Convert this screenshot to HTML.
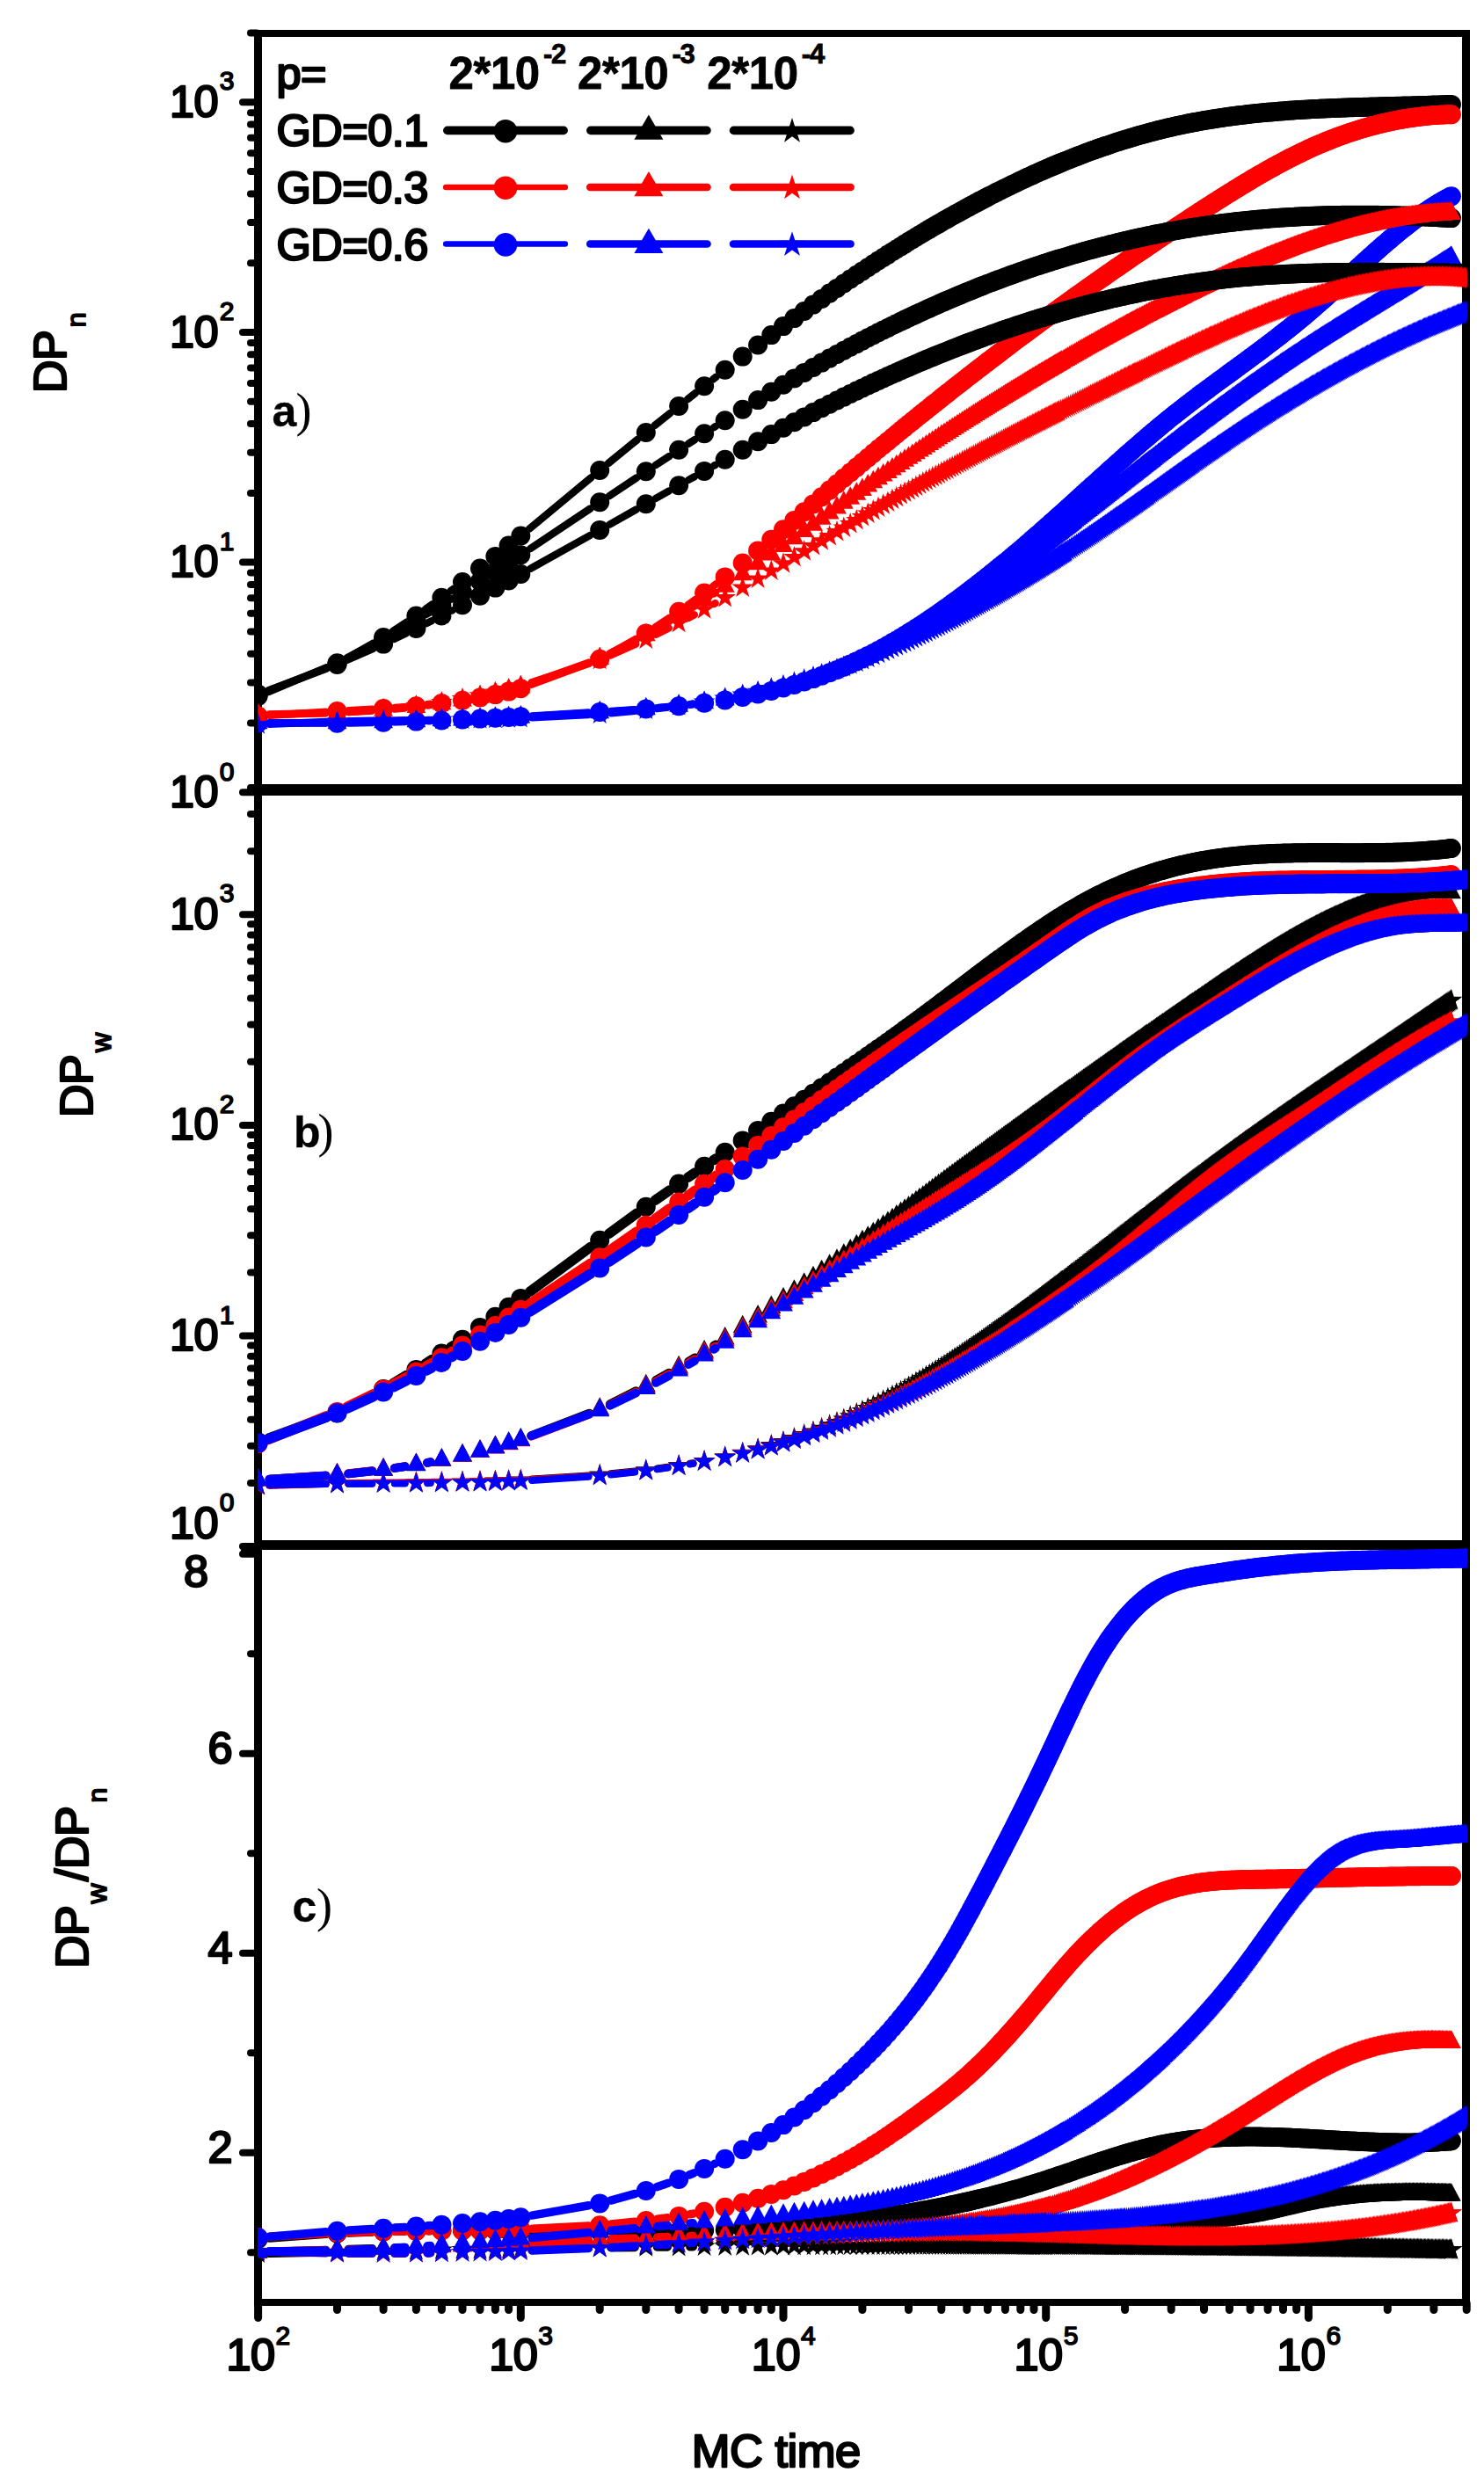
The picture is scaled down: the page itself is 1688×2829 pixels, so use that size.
<!DOCTYPE html>
<html><head><meta charset="utf-8"><title>DP plots</title><style>html,body{margin:0;padding:0;background:#fff}svg{display:block}</style></head><body>
<svg width="1688" height="2829" viewBox="0 0 1688 2829">
<rect width="1688" height="2829" fill="#fff"/>
<defs>
<marker id="mck" markerUnits="userSpaceOnUse" markerWidth="40" markerHeight="40" refX="0" refY="0" viewBox="-20 -20 40 40" orient="0" overflow="visible"><circle r="11.0" fill="#000"/></marker>
<marker id="mtk" markerUnits="userSpaceOnUse" markerWidth="40" markerHeight="40" refX="0" refY="0" viewBox="-20 -20 40 40" orient="0" overflow="visible"><path d="M0,-13.67L10.90,6.83L-10.90,6.83Z" fill="#000"/></marker>
<marker id="msk" markerUnits="userSpaceOnUse" markerWidth="40" markerHeight="40" refX="0" refY="0" viewBox="-20 -20 40 40" orient="0" overflow="visible"><path d="M0.00,-13.00L2.92,-4.02L12.36,-4.02L4.72,1.53L7.64,10.52L0.00,4.97L-7.64,10.52L-4.72,1.53L-12.36,-4.02L-2.92,-4.02Z" fill="#000"/></marker>
<marker id="mcr" markerUnits="userSpaceOnUse" markerWidth="40" markerHeight="40" refX="0" refY="0" viewBox="-20 -20 40 40" orient="0" overflow="visible"><circle r="11.0" fill="#f00"/></marker>
<marker id="mtr" markerUnits="userSpaceOnUse" markerWidth="40" markerHeight="40" refX="0" refY="0" viewBox="-20 -20 40 40" orient="0" overflow="visible"><path d="M0,-13.67L10.90,6.83L-10.90,6.83Z" fill="#f00"/></marker>
<marker id="msr" markerUnits="userSpaceOnUse" markerWidth="40" markerHeight="40" refX="0" refY="0" viewBox="-20 -20 40 40" orient="0" overflow="visible"><path d="M0.00,-13.00L2.92,-4.02L12.36,-4.02L4.72,1.53L7.64,10.52L0.00,4.97L-7.64,10.52L-4.72,1.53L-12.36,-4.02L-2.92,-4.02Z" fill="#f00"/></marker>
<marker id="mcb" markerUnits="userSpaceOnUse" markerWidth="40" markerHeight="40" refX="0" refY="0" viewBox="-20 -20 40 40" orient="0" overflow="visible"><circle r="11.0" fill="#00f"/></marker>
<marker id="mtb" markerUnits="userSpaceOnUse" markerWidth="40" markerHeight="40" refX="0" refY="0" viewBox="-20 -20 40 40" orient="0" overflow="visible"><path d="M0,-13.67L10.90,6.83L-10.90,6.83Z" fill="#00f"/></marker>
<marker id="msb" markerUnits="userSpaceOnUse" markerWidth="40" markerHeight="40" refX="0" refY="0" viewBox="-20 -20 40 40" orient="0" overflow="visible"><path d="M0.00,-13.00L2.92,-4.02L12.36,-4.02L4.72,1.53L7.64,10.52L0.00,4.97L-7.64,10.52L-4.72,1.53L-12.36,-4.02L-2.92,-4.02Z" fill="#00f"/></marker>
<clipPath id="ca"><rect x="293.6" y="38" width="1374.9" height="863.5"/></clipPath>
<clipPath id="cb"><rect x="293.6" y="896" width="1374.9" height="863.5"/></clipPath>
<clipPath id="cc"><rect x="293.6" y="1757" width="1374.9" height="862"/></clipPath>
</defs>
<g stroke="#000" fill="none" stroke-linecap="butt">
<line x1="293.5" y1="34" x2="293.5" y2="2623" stroke-width="9"/>
<line x1="1667.5" y1="34" x2="1667.5" y2="2623" stroke-width="9"/>
<line x1="289" y1="38" x2="1672" y2="38" stroke-width="8"/>
<rect x="289" y="892" width="1383" height="13" fill="#000" stroke="none"/>
<rect x="289" y="1752" width="1383" height="11" fill="#000" stroke="none"/>
<line x1="289" y1="2619" x2="1672" y2="2619" stroke-width="8"/>
</g>
<g stroke="#000" stroke-width="8" stroke-linecap="round" fill="none">
<line x1="276" y1="901.3" x2="292" y2="901.3"/>
<line x1="285" y1="822.5" x2="292" y2="822.5"/>
<line x1="285" y1="776.5" x2="292" y2="776.5"/>
<line x1="285" y1="743.8" x2="292" y2="743.8"/>
<line x1="285" y1="718.4" x2="292" y2="718.4"/>
<line x1="285" y1="697.7" x2="292" y2="697.7"/>
<line x1="285" y1="680.2" x2="292" y2="680.2"/>
<line x1="285" y1="665.0" x2="292" y2="665.0"/>
<line x1="285" y1="651.6" x2="292" y2="651.6"/>
<line x1="276" y1="639.6" x2="292" y2="639.6"/>
<line x1="285" y1="560.9" x2="292" y2="560.9"/>
<line x1="285" y1="514.8" x2="292" y2="514.8"/>
<line x1="285" y1="482.1" x2="292" y2="482.1"/>
<line x1="285" y1="456.7" x2="292" y2="456.7"/>
<line x1="285" y1="436.0" x2="292" y2="436.0"/>
<line x1="285" y1="418.5" x2="292" y2="418.5"/>
<line x1="285" y1="403.3" x2="292" y2="403.3"/>
<line x1="285" y1="389.9" x2="292" y2="389.9"/>
<line x1="276" y1="378.0" x2="292" y2="378.0"/>
<line x1="285" y1="299.2" x2="292" y2="299.2"/>
<line x1="285" y1="253.1" x2="292" y2="253.1"/>
<line x1="285" y1="220.4" x2="292" y2="220.4"/>
<line x1="285" y1="195.1" x2="292" y2="195.1"/>
<line x1="285" y1="174.3" x2="292" y2="174.3"/>
<line x1="285" y1="156.8" x2="292" y2="156.8"/>
<line x1="285" y1="141.6" x2="292" y2="141.6"/>
<line x1="285" y1="128.3" x2="292" y2="128.3"/>
<line x1="276" y1="116.3" x2="292" y2="116.3"/>
<line x1="285" y1="37.5" x2="292" y2="37.5"/>
<line x1="276" y1="1759.1" x2="292" y2="1759.1"/>
<line x1="285" y1="1687.0" x2="292" y2="1687.0"/>
<line x1="285" y1="1644.8" x2="292" y2="1644.8"/>
<line x1="285" y1="1614.8" x2="292" y2="1614.8"/>
<line x1="285" y1="1591.6" x2="292" y2="1591.6"/>
<line x1="285" y1="1572.7" x2="292" y2="1572.7"/>
<line x1="285" y1="1556.6" x2="292" y2="1556.6"/>
<line x1="285" y1="1542.7" x2="292" y2="1542.7"/>
<line x1="285" y1="1530.5" x2="292" y2="1530.5"/>
<line x1="276" y1="1519.5" x2="292" y2="1519.5"/>
<line x1="285" y1="1447.4" x2="292" y2="1447.4"/>
<line x1="285" y1="1405.2" x2="292" y2="1405.2"/>
<line x1="285" y1="1375.2" x2="292" y2="1375.2"/>
<line x1="285" y1="1352.0" x2="292" y2="1352.0"/>
<line x1="285" y1="1333.1" x2="292" y2="1333.1"/>
<line x1="285" y1="1317.0" x2="292" y2="1317.0"/>
<line x1="285" y1="1303.1" x2="292" y2="1303.1"/>
<line x1="285" y1="1290.9" x2="292" y2="1290.9"/>
<line x1="276" y1="1279.9" x2="292" y2="1279.9"/>
<line x1="285" y1="1207.8" x2="292" y2="1207.8"/>
<line x1="285" y1="1165.6" x2="292" y2="1165.6"/>
<line x1="285" y1="1135.6" x2="292" y2="1135.6"/>
<line x1="285" y1="1112.4" x2="292" y2="1112.4"/>
<line x1="285" y1="1093.5" x2="292" y2="1093.5"/>
<line x1="285" y1="1077.4" x2="292" y2="1077.4"/>
<line x1="285" y1="1063.5" x2="292" y2="1063.5"/>
<line x1="285" y1="1051.3" x2="292" y2="1051.3"/>
<line x1="276" y1="1040.3" x2="292" y2="1040.3"/>
<line x1="285" y1="968.2" x2="292" y2="968.2"/>
<line x1="285" y1="926.0" x2="292" y2="926.0"/>
<line x1="285" y1="896.0" x2="292" y2="896.0"/>
<line x1="285" y1="2562.3" x2="292" y2="2562.3"/>
<line x1="276" y1="2448.8" x2="292" y2="2448.8"/>
<line x1="285" y1="2335.3" x2="292" y2="2335.3"/>
<line x1="276" y1="2221.8" x2="292" y2="2221.8"/>
<line x1="285" y1="2108.3" x2="292" y2="2108.3"/>
<line x1="276" y1="1994.8" x2="292" y2="1994.8"/>
<line x1="285" y1="1881.3" x2="292" y2="1881.3"/>
<line x1="276" y1="1767.8" x2="292" y2="1767.8"/>
<line x1="276" y1="1763.4" x2="292" y2="1763.4" stroke-width="4"/>
</g>
<g stroke="#000" stroke-width="9" stroke-linecap="round" fill="none">
<line x1="293.6" y1="2620" x2="293.6" y2="2636.5"/>
<line x1="383.5" y1="2620" x2="383.5" y2="2627.5"/>
<line x1="436.1" y1="2620" x2="436.1" y2="2627.5"/>
<line x1="473.4" y1="2620" x2="473.4" y2="2627.5"/>
<line x1="502.4" y1="2620" x2="502.4" y2="2627.5"/>
<line x1="526.0" y1="2620" x2="526.0" y2="2627.5"/>
<line x1="546.0" y1="2620" x2="546.0" y2="2627.5"/>
<line x1="563.4" y1="2620" x2="563.4" y2="2627.5"/>
<line x1="578.6" y1="2620" x2="578.6" y2="2627.5"/>
<line x1="592.3" y1="2620" x2="592.3" y2="2636.5"/>
<line x1="682.2" y1="2620" x2="682.2" y2="2627.5"/>
<line x1="734.8" y1="2620" x2="734.8" y2="2627.5"/>
<line x1="772.1" y1="2620" x2="772.1" y2="2627.5"/>
<line x1="801.1" y1="2620" x2="801.1" y2="2627.5"/>
<line x1="824.7" y1="2620" x2="824.7" y2="2627.5"/>
<line x1="844.7" y1="2620" x2="844.7" y2="2627.5"/>
<line x1="862.1" y1="2620" x2="862.1" y2="2627.5"/>
<line x1="877.3" y1="2620" x2="877.3" y2="2627.5"/>
<line x1="891.0" y1="2620" x2="891.0" y2="2636.5"/>
<line x1="980.9" y1="2620" x2="980.9" y2="2627.5"/>
<line x1="1033.5" y1="2620" x2="1033.5" y2="2627.5"/>
<line x1="1070.8" y1="2620" x2="1070.8" y2="2627.5"/>
<line x1="1099.8" y1="2620" x2="1099.8" y2="2627.5"/>
<line x1="1123.4" y1="2620" x2="1123.4" y2="2627.5"/>
<line x1="1143.4" y1="2620" x2="1143.4" y2="2627.5"/>
<line x1="1160.8" y1="2620" x2="1160.8" y2="2627.5"/>
<line x1="1176.0" y1="2620" x2="1176.0" y2="2627.5"/>
<line x1="1189.7" y1="2620" x2="1189.7" y2="2636.5"/>
<line x1="1279.6" y1="2620" x2="1279.6" y2="2627.5"/>
<line x1="1332.2" y1="2620" x2="1332.2" y2="2627.5"/>
<line x1="1369.5" y1="2620" x2="1369.5" y2="2627.5"/>
<line x1="1398.5" y1="2620" x2="1398.5" y2="2627.5"/>
<line x1="1422.1" y1="2620" x2="1422.1" y2="2627.5"/>
<line x1="1442.1" y1="2620" x2="1442.1" y2="2627.5"/>
<line x1="1459.5" y1="2620" x2="1459.5" y2="2627.5"/>
<line x1="1474.7" y1="2620" x2="1474.7" y2="2627.5"/>
<line x1="1488.4" y1="2620" x2="1488.4" y2="2636.5"/>
<line x1="1578.3" y1="2620" x2="1578.3" y2="2627.5"/>
<line x1="1630.9" y1="2620" x2="1630.9" y2="2627.5"/>
<line x1="1668.2" y1="2620" x2="1668.2" y2="2627.5"/>
</g>
<g clip-path="url(#ca)" fill="none" stroke-linecap="round">
<path stroke="#000" stroke-width="8.5" d="M305.5,785.6L371.6,759.8M394.6,748.8L425.0,731.4M446.8,718.1L462.8,707.5M483.9,693.0L492.0,687.3M512.6,672.2L515.8,669.8M602.2,601.4L672.4,543.2M692.1,526.9L724.9,500.1M744.8,483.9L762.2,470.0M782.2,454.1L791.0,447.1M811.2,431.4L814.6,428.7"/>
<polyline stroke="none" marker-start="url(#mck)" marker-mid="url(#mck)" marker-end="url(#mck)" points="293.6,790.3 383.5,755.1 436.1,725.1 473.4,700.5 502.4,679.8 526.0,662.1 546.0,646.6 563.4,632.9 578.6,620.6 592.3,609.5 682.2,535.0 734.8,492.0 772.1,462.0 801.1,439.2 824.7,420.8 844.7,405.6 862.1,392.5 877.3,381.1 891.0,371.1 903.4,362.1 914.7,354.0 925.0,346.6 934.6,339.9 943.6,333.6 952.0,327.9 959.8,322.5 967.2,317.5 974.3,312.8 980.9,308.4 987.2,304.2 993.3,300.3 999.0,296.5 1004.6,293.0 1009.9,289.6 1015.0,286.4 1019.8,283.3 1024.6,280.4 1029.1,277.6 1033.5,274.8 1037.8,272.3 1041.9,269.8 1045.9,267.3 1049.8,265.0 1053.5,262.8 1057.2,260.6 1060.7,258.5 1064.2,256.5 1067.6,254.6 1070.8,252.7 1074.0,250.8 1077.2,249.1 1080.2,247.3 1083.2,245.7 1086.1,244.0 1089.0,242.4 1091.8,240.9 1094.5,239.4 1097.2,237.9 1099.8,236.5 1102.4,235.1 1104.9,233.7 1107.3,232.4 1109.8,231.1 1112.1,229.9 1114.5,228.6 1116.8,227.4 1119.0,226.2 1121.3,225.1 1123.4,223.9 1125.6,222.8 1129.8,220.7 1133.8,218.6 1137.7,216.7 1141.6,214.8 1145.3,212.9 1148.9,211.2 1152.4,209.5 1155.8,207.9 1159.1,206.3 1162.4,204.7 1165.5,203.3 1168.6,201.8 1171.6,200.4 1174.6,199.1 1177.5,197.8 1180.3,196.5 1183.0,195.3 1185.7,194.1 1188.4,192.9 1191.0,191.8 1193.5,190.7 1196.0,189.6 1198.5,188.6 1200.9,187.6 1203.2,186.6 1205.6,185.6 1207.8,184.7 1210.1,183.8 1213.4,182.5 1216.6,181.2 1219.7,179.9 1222.7,178.7 1225.7,177.6 1228.6,176.4 1231.5,175.4 1234.3,174.3 1237.0,173.3 1239.7,172.3 1242.3,171.3 1244.9,170.4 1247.4,169.5 1249.9,168.6 1252.3,167.8 1254.7,167.0 1257.0,166.1 1259.3,165.4 1262.3,164.4 1265.2,163.4 1268.1,162.4 1270.9,161.5 1273.6,160.6 1276.3,159.8 1279.0,159.0 1281.5,158.2 1284.1,157.4 1286.6,156.7 1289.0,155.9 1291.4,155.2 1293.7,154.5 1296.6,153.7 1299.4,152.9 1302.2,152.2 1304.9,151.4 1307.5,150.7 1310.1,150.0 1312.7,149.4 1315.1,148.7 1317.6,148.1 1320.0,147.5 1322.3,146.9 1325.1,146.3 1327.8,145.6 1330.5,145.0 1333.1,144.4 1335.6,143.8 1338.1,143.3 1340.6,142.7 1343.0,142.2 1345.4,141.7 1348.1,141.2 1350.7,140.6 1353.3,140.1 1355.9,139.6 1358.4,139.1 1360.8,138.7 1363.2,138.2 1365.9,137.8 1368.6,137.3 1371.1,136.8 1373.7,136.4 1376.2,136.0 1378.6,135.6 1381.0,135.2 1383.7,134.8 1386.2,134.4 1388.8,134.0 1391.3,133.7 1393.7,133.3 1396.1,133.0 1398.7,132.6 1401.3,132.3 1403.8,131.9 1406.3,131.6 1408.7,131.3 1411.3,131.0 1413.9,130.7 1416.4,130.4 1418.8,130.1 1421.3,129.8 1423.9,129.5 1426.4,129.3 1428.9,129.0 1431.3,128.8 1433.7,128.5 1436.3,128.3 1438.8,128.0 1441.2,127.8 1443.6,127.6 1446.1,127.4 1448.6,127.2 1451.1,126.9 1453.5,126.7 1456.0,126.5 1458.5,126.4 1460.9,126.2 1463.4,126.0 1465.9,125.8 1468.4,125.6 1470.8,125.5 1473.3,125.3 1475.7,125.1 1478.1,125.0 1480.6,124.8 1483.1,124.7 1485.5,124.5 1488.0,124.4 1490.5,124.3 1492.9,124.1 1495.3,124.0 1497.8,123.9 1500.3,123.8 1502.8,123.6 1505.2,123.5 1507.7,123.4 1510.1,123.3 1512.6,123.2 1515.0,123.1 1517.5,123.0 1519.9,122.9 1522.3,122.8 1524.8,122.7 1527.2,122.6 1529.7,122.5 1532.1,122.4 1534.6,122.3 1537.0,122.3 1539.5,122.2 1541.9,122.1 1544.4,122.0 1546.8,121.9 1549.3,121.9 1551.7,121.8 1554.1,121.7 1556.5,121.7 1559.0,121.6 1561.4,121.5 1563.9,121.5 1566.3,121.4 1568.8,121.3 1571.2,121.3 1573.6,121.2 1576.1,121.1 1578.5,121.1 1581.0,121.0 1583.4,120.9 1585.8,120.9 1588.2,120.8 1590.7,120.7 1593.1,120.7 1595.5,120.6 1598.0,120.6 1600.4,120.5 1602.8,120.4 1605.3,120.4 1607.7,120.3 1610.1,120.2 1612.5,120.2 1614.9,120.1 1617.3,120.0 1619.8,119.9 1622.2,119.9 1624.6,119.8 1627.1,119.7 1629.5,119.6 1631.9,119.6 1634.3,119.5 1636.8,119.4 1639.2,119.3 1641.6,119.2 1644.0,119.2 1646.4,119.1 1648.8,119.0 1650.9,118.9"/>
<path stroke="#f00" stroke-width="8.5" d="M306.4,813.8L370.7,809.8M396.3,808.3L423.3,806.8M448.9,805.1L460.7,804.2M486.2,801.8L489.7,801.5M604.3,778.7L670.2,754.3M693.4,743.6L723.6,726.7M745.5,713.4L761.5,702.7M782.5,688.1L790.7,682.1M811.2,666.8L814.6,664.2"/>
<polyline stroke="none" marker-start="url(#mcr)" marker-mid="url(#mcr)" marker-end="url(#mcr)" points="293.6,814.5 383.5,809.0 436.1,806.1 473.4,803.2 502.4,800.1 526.0,796.8 546.0,793.5 563.4,790.1 578.6,786.6 592.3,783.2 682.2,749.8 734.8,720.4 772.1,695.7 801.1,674.6 824.7,656.4 844.7,640.5 862.1,626.4 877.3,613.8 891.0,602.3 903.4,591.9 914.7,582.3 925.0,573.4 934.6,565.3 943.6,557.6 952.0,550.5 959.8,543.8 967.2,537.5 974.3,531.6 980.9,526.0 987.2,520.7 993.3,515.6 999.0,510.8 1004.6,506.3 1009.9,501.9 1015.0,497.7 1019.8,493.7 1024.6,489.8 1029.1,486.1 1033.5,482.5 1037.8,479.1 1041.9,475.8 1045.9,472.5 1049.8,469.4 1053.5,466.4 1057.2,463.5 1060.7,460.6 1064.2,457.9 1067.6,455.2 1070.8,452.6 1074.0,450.0 1077.2,447.6 1080.2,445.2 1083.2,442.8 1086.1,440.5 1089.0,438.3 1091.8,436.1 1094.5,434.0 1097.2,431.9 1099.8,429.8 1102.4,427.8 1104.9,425.9 1107.3,424.0 1109.8,422.1 1112.1,420.3 1114.5,418.5 1116.8,416.7 1119.0,415.0 1121.3,413.2 1123.4,411.6 1125.6,409.9 1127.7,408.3 1129.8,406.7 1131.8,405.2 1133.8,403.7 1135.8,402.1 1137.7,400.7 1139.7,399.2 1143.4,396.4 1147.1,393.6 1150.6,390.9 1154.1,388.3 1157.5,385.8 1160.8,383.3 1164.0,380.9 1167.1,378.6 1170.1,376.4 1173.1,374.1 1176.0,372.0 1178.9,369.9 1181.7,367.8 1184.4,365.8 1187.1,363.8 1189.7,361.9 1192.3,360.0 1194.8,358.2 1197.3,356.4 1199.7,354.6 1202.1,352.9 1204.4,351.2 1206.7,349.5 1209.0,347.9 1211.2,346.3 1213.4,344.7 1215.5,343.2 1217.6,341.7 1219.7,340.2 1221.7,338.7 1223.7,337.3 1225.7,335.8 1228.6,333.8 1231.5,331.7 1234.3,329.7 1237.0,327.8 1239.7,325.9 1242.3,324.1 1244.9,322.2 1247.4,320.5 1249.9,318.7 1252.3,317.0 1254.7,315.4 1257.0,313.7 1259.3,312.1 1261.6,310.5 1263.8,309.0 1265.9,307.5 1268.1,306.0 1270.2,304.5 1272.3,303.1 1274.3,301.7 1276.3,300.3 1278.3,298.9 1280.9,297.1 1283.5,295.4 1285.9,293.7 1288.4,292.0 1290.8,290.3 1293.2,288.7 1295.5,287.1 1297.7,285.6 1300.0,284.1 1302.2,282.6 1304.3,281.1 1306.5,279.7 1308.6,278.3 1310.6,276.9 1312.7,275.5 1314.6,274.2 1317.1,272.5 1319.5,270.9 1321.9,269.3 1324.2,267.8 1326.5,266.3 1328.7,264.8 1330.9,263.3 1333.1,261.9 1335.2,260.4 1337.3,259.1 1339.4,257.7 1341.4,256.4 1343.8,254.8 1346.1,253.2 1348.5,251.7 1350.7,250.2 1353.0,248.8 1355.1,247.3 1357.3,245.9 1359.4,244.5 1361.5,243.2 1363.6,241.8 1365.6,240.5 1367.9,239.0 1370.2,237.6 1372.4,236.1 1374.6,234.7 1376.8,233.3 1378.9,231.9 1381.0,230.6 1383.1,229.3 1385.1,228.0 1387.4,226.5 1389.6,225.1 1391.8,223.7 1394.0,222.3 1396.1,221.0 1398.2,219.7 1400.3,218.4 1402.6,217.0 1404.8,215.6 1407.0,214.2 1409.2,212.9 1411.3,211.6 1413.4,210.3 1415.5,209.1 1417.7,207.7 1420.0,206.4 1422.1,205.1 1424.3,203.8 1426.4,202.5 1428.5,201.3 1430.7,200.0 1432.9,198.7 1435.1,197.5 1437.2,196.3 1439.3,195.1 1441.6,193.8 1443.8,192.5 1446.0,191.3 1448.1,190.1 1450.2,189.0 1452.5,187.7 1454.7,186.5 1456.8,185.4 1459.0,184.2 1461.2,183.0 1463.4,181.9 1465.6,180.7 1467.8,179.6 1470.0,178.5 1472.3,177.4 1474.4,176.3 1476.7,175.2 1479.0,174.1 1481.2,173.0 1483.4,172.0 1485.6,170.9 1487.9,169.8 1490.1,168.8 1492.4,167.8 1494.6,166.8 1496.8,165.8 1499.1,164.8 1501.4,163.8 1503.6,162.9 1505.9,162.0 1508.1,161.0 1510.4,160.1 1512.7,159.2 1514.9,158.3 1517.2,157.4 1519.5,156.5 1521.8,155.7 1524.1,154.8 1526.5,154.0 1528.8,153.1 1531.1,152.3 1533.4,151.5 1535.8,150.7 1538.1,150.0 1540.5,149.2 1542.8,148.4 1545.2,147.7 1547.5,147.0 1549.9,146.3 1552.2,145.6 1554.5,144.9 1556.9,144.3 1559.2,143.6 1561.6,143.0 1563.9,142.4 1566.3,141.8 1568.7,141.2 1571.0,140.6 1573.4,140.0 1575.8,139.5 1578.2,138.9 1580.6,138.4 1583.0,137.9 1585.3,137.4 1587.7,137.0 1590.1,136.5 1592.5,136.1 1594.9,135.6 1597.3,135.2 1599.7,134.8 1602.1,134.4 1604.5,134.1 1606.9,133.7 1609.3,133.4 1611.8,133.1 1614.1,132.8 1616.5,132.5 1618.9,132.2 1621.3,132.0 1623.7,131.7 1626.1,131.5 1628.5,131.3 1630.9,131.1 1633.3,130.9 1635.7,130.8 1638.1,130.6 1640.6,130.5 1643.0,130.4 1645.4,130.3 1647.8,130.2 1650.2,130.2 1650.9,130.2"/>
<path stroke="#00f" stroke-width="8.5" d="M306.4,822.2L370.7,822.6M396.3,822.4L423.3,821.9M448.9,821.3L460.6,821.0M486.2,820.1L489.6,820.0M605.1,814.4L669.4,810.6M695.0,809.1L722.0,807.3M747.6,805.3L759.4,804.3M784.9,801.7L788.4,801.3"/>
<polyline stroke="none" marker-start="url(#mcb)" marker-mid="url(#mcb)" marker-end="url(#mcb)" points="293.6,822.2 383.5,822.7 436.1,821.7 473.4,820.6 502.4,819.5 526.0,818.5 546.0,817.6 563.4,816.7 578.6,815.9 592.3,815.2 682.2,809.9 734.8,806.4 772.1,803.2 801.1,799.8 824.7,796.4 844.7,792.9 862.1,789.4 877.3,785.9 891.0,782.4 903.4,778.9 914.7,775.5 925.0,772.1 934.6,768.7 943.6,765.3 952.0,762.0 959.8,758.7 967.2,755.5 974.3,752.3 980.9,749.1 987.2,746.0 993.3,743.0 999.0,739.9 1004.6,736.9 1009.9,734.0 1015.0,731.1 1019.8,728.3 1024.6,725.5 1029.1,722.8 1033.5,720.1 1037.8,717.4 1041.9,714.8 1045.9,712.2 1049.8,709.7 1053.5,707.2 1057.2,704.8 1060.7,702.4 1064.2,700.0 1067.6,697.7 1070.8,695.4 1074.0,693.1 1077.2,690.9 1080.2,688.7 1083.2,686.6 1086.1,684.5 1089.0,682.4 1091.8,680.3 1094.5,678.3 1097.2,676.3 1099.8,674.3 1102.4,672.3 1104.9,670.4 1107.3,668.5 1109.8,666.7 1112.1,664.8 1114.5,663.0 1116.8,661.2 1119.0,659.4 1121.3,657.7 1123.4,655.9 1125.6,654.2 1127.7,652.5 1129.8,650.9 1131.8,649.2 1133.8,647.6 1135.8,646.0 1137.7,644.4 1139.7,642.8 1141.6,641.2 1143.4,639.7 1147.1,636.7 1150.6,633.7 1154.1,630.8 1157.5,628.0 1160.8,625.2 1164.0,622.5 1167.1,619.8 1170.1,617.2 1173.1,614.6 1176.0,612.1 1178.9,609.6 1181.7,607.2 1184.4,604.8 1187.1,602.4 1189.7,600.1 1192.3,597.9 1194.8,595.6 1197.3,593.4 1199.7,591.3 1202.1,589.1 1204.4,587.1 1206.7,585.0 1209.0,583.0 1211.2,581.0 1213.4,579.0 1215.5,577.1 1217.6,575.2 1219.7,573.3 1221.7,571.5 1223.7,569.7 1225.7,567.9 1227.7,566.1 1229.6,564.4 1231.5,562.6 1233.3,561.0 1235.2,559.3 1237.0,557.6 1238.8,556.0 1241.4,553.6 1244.0,551.3 1246.6,549.0 1249.0,546.8 1251.5,544.5 1253.9,542.4 1256.2,540.3 1258.5,538.2 1260.8,536.1 1263.0,534.1 1265.2,532.2 1267.4,530.2 1269.5,528.3 1271.6,526.5 1273.6,524.7 1275.7,522.9 1277.7,521.1 1279.6,519.4 1281.5,517.6 1283.5,516.0 1285.3,514.3 1287.2,512.7 1289.0,511.1 1291.4,509.0 1293.7,507.0 1296.0,505.0 1298.3,503.0 1300.5,501.1 1302.7,499.2 1304.9,497.4 1307.0,495.6 1309.1,493.8 1311.1,492.1 1313.2,490.4 1315.1,488.7 1317.1,487.1 1319.0,485.5 1320.9,483.9 1322.8,482.3 1325.1,480.5 1327.4,478.6 1329.6,476.8 1331.8,475.0 1333.9,473.3 1336.1,471.6 1338.1,470.0 1340.2,468.4 1342.2,466.8 1344.2,465.2 1346.1,463.7 1348.1,462.2 1350.3,460.4 1352.6,458.7 1354.8,457.0 1356.9,455.4 1359.1,453.8 1361.2,452.2 1363.2,450.6 1365.2,449.1 1367.2,447.6 1369.2,446.2 1371.1,444.7 1373.4,443.1 1375.6,441.4 1377.7,439.8 1379.8,438.3 1381.9,436.7 1383.9,435.2 1386.0,433.8 1387.9,432.3 1389.9,430.9 1392.1,429.3 1394.3,427.7 1396.4,426.1 1398.5,424.6 1400.5,423.1 1402.6,421.6 1404.6,420.1 1406.5,418.7 1408.7,417.1 1410.8,415.5 1413.0,414.0 1415.0,412.5 1417.1,411.0 1419.1,409.5 1421.0,408.0 1423.0,406.6 1425.1,405.0 1427.2,403.5 1429.3,401.9 1431.3,400.4 1433.3,398.9 1435.3,397.4 1437.2,396.0 1439.3,394.4 1441.4,392.8 1443.4,391.3 1445.4,389.8 1447.4,388.3 1449.3,386.8 1451.3,385.3 1453.3,383.7 1455.3,382.1 1457.3,380.6 1459.3,379.0 1461.2,377.5 1463.1,376.0 1465.2,374.4 1467.2,372.8 1469.1,371.2 1471.1,369.6 1473.0,368.1 1474.9,366.5 1476.7,365.0 1478.7,363.4 1480.6,361.8 1482.6,360.2 1484.4,358.6 1486.3,357.0 1488.1,355.4 1490.1,353.8 1492.0,352.2 1493.9,350.5 1495.7,348.9 1497.5,347.3 1499.5,345.6 1501.4,344.0 1503.2,342.3 1505.1,340.7 1506.9,339.1 1508.8,337.4 1510.6,335.7 1512.5,334.0 1514.3,332.4 1516.1,330.7 1518.0,329.0 1519.8,327.4 1521.6,325.7 1523.4,324.1 1525.3,322.4 1527.1,320.7 1529.0,319.0 1530.7,317.4 1532.6,315.7 1534.4,314.0 1536.2,312.3 1538.0,310.7 1539.9,309.0 1541.7,307.3 1543.5,305.7 1545.3,304.0 1547.2,302.3 1549.0,300.7 1550.7,299.1 1552.6,297.4 1554.4,295.8 1556.2,294.2 1558.0,292.5 1559.8,290.9 1561.7,289.2 1563.5,287.6 1565.3,286.0 1567.1,284.4 1569.0,282.8 1570.8,281.1 1572.7,279.5 1574.5,277.9 1576.4,276.3 1578.2,274.7 1580.1,273.1 1581.9,271.6 1583.8,270.0 1585.6,268.4 1587.5,266.9 1589.4,265.3 1591.3,263.8 1593.1,262.2 1595.0,260.7 1597.0,259.2 1598.9,257.7 1600.8,256.2 1602.7,254.7 1604.6,253.2 1606.5,251.7 1608.5,250.3 1610.4,248.8 1612.4,247.4 1614.3,245.9 1616.3,244.5 1618.3,243.1 1620.2,241.8 1622.2,240.4 1624.3,239.0 1626.3,237.7 1628.3,236.3 1630.4,235.0 1632.5,233.7 1634.5,232.4 1636.6,231.1 1638.7,229.9 1640.8,228.7 1642.9,227.5 1645.0,226.3 1647.2,225.2 1649.3,224.0 1650.9,223.2"/>
<path stroke="#000" stroke-width="8.5" d="M305.4,787.1L371.7,759.2M394.9,748.3L424.8,732.9M447.2,720.7L462.3,712.1M484.4,699.2L491.4,695.1M513.3,681.8L515.1,680.6M603.0,624.2L671.6,578.4M692.9,564.2L724.2,543.4M745.5,529.3L761.4,518.9M782.9,504.9L790.3,500.1M811.9,486.3L813.9,485.0"/>
<polyline stroke="none" marker-start="url(#mck)" marker-mid="url(#mck)" marker-end="url(#mck)" points="293.6,792.0 383.5,754.2 436.1,727.0 473.4,705.8 502.4,688.5 526.0,673.9 546.0,661.3 563.4,650.2 578.6,640.2 592.3,631.3 682.2,571.3 734.8,536.3 772.1,511.8 801.1,493.2 824.7,478.2 844.7,465.7 862.1,455.1 877.3,445.8 891.0,437.7 903.4,430.4 914.7,423.9 925.0,418.0 934.6,412.6 943.6,407.6 952.0,403.0 959.8,398.7 967.2,394.8 974.3,391.1 980.9,387.6 987.2,384.3 993.3,381.2 999.0,378.3 1004.6,375.5 1009.9,372.9 1015.0,370.4 1019.8,368.0 1024.6,365.7 1029.1,363.6 1033.5,361.5 1037.8,359.5 1041.9,357.6 1045.9,355.7 1049.8,353.9 1053.5,352.2 1057.2,350.6 1060.7,349.0 1064.2,347.5 1067.6,346.0 1070.8,344.5 1074.0,343.1 1077.2,341.8 1080.2,340.5 1083.2,339.2 1086.1,338.0 1089.0,336.8 1091.8,335.6 1094.5,334.4 1097.2,333.3 1099.8,332.3 1102.4,331.2 1104.9,330.2 1107.3,329.2 1109.8,328.2 1112.1,327.3 1114.5,326.3 1116.8,325.4 1119.0,324.5 1123.4,322.8 1127.7,321.2 1131.8,319.6 1135.8,318.1 1139.7,316.7 1143.4,315.3 1147.1,313.9 1150.6,312.6 1154.1,311.4 1157.5,310.2 1160.8,309.0 1164.0,307.9 1167.1,306.8 1170.1,305.8 1173.1,304.8 1176.0,303.8 1178.9,302.8 1181.7,301.9 1184.4,301.0 1187.1,300.1 1189.7,299.2 1192.3,298.4 1194.8,297.6 1197.3,296.8 1199.7,296.1 1202.1,295.3 1204.4,294.6 1206.7,293.9 1210.1,292.9 1213.4,291.9 1216.6,290.9 1219.7,290.0 1222.7,289.1 1225.7,288.2 1228.6,287.4 1231.5,286.6 1234.3,285.8 1237.0,285.0 1239.7,284.3 1242.3,283.6 1244.9,282.9 1247.4,282.2 1249.9,281.5 1252.3,280.9 1254.7,280.3 1257.0,279.7 1260.1,278.9 1263.0,278.1 1265.9,277.4 1268.8,276.7 1271.6,276.0 1274.3,275.3 1277.0,274.7 1279.6,274.1 1282.2,273.5 1284.7,272.9 1287.2,272.3 1289.6,271.8 1292.0,271.2 1294.9,270.6 1297.7,270.0 1300.5,269.4 1303.3,268.8 1305.9,268.2 1308.6,267.7 1311.1,267.2 1313.7,266.6 1316.1,266.2 1318.5,265.7 1320.9,265.2 1323.7,264.7 1326.5,264.1 1329.2,263.6 1331.8,263.2 1334.4,262.7 1336.9,262.2 1339.4,261.8 1341.8,261.4 1344.2,261.0 1346.9,260.5 1349.6,260.1 1352.2,259.6 1354.8,259.2 1357.3,258.8 1359.8,258.4 1362.2,258.0 1364.6,257.7 1367.2,257.3 1369.9,256.9 1372.4,256.5 1374.9,256.2 1377.4,255.8 1379.8,255.5 1382.5,255.1 1385.1,254.8 1387.7,254.5 1390.2,254.1 1392.6,253.8 1395.1,253.5 1397.7,253.2 1400.3,252.9 1402.8,252.6 1405.3,252.3 1407.7,252.1 1410.1,251.8 1412.7,251.5 1415.3,251.3 1417.7,251.0 1420.2,250.8 1422.6,250.5 1425.1,250.3 1427.6,250.0 1430.1,249.8 1432.5,249.6 1435.1,249.4 1437.6,249.1 1440.1,248.9 1442.5,248.7 1445.1,248.5 1447.6,248.3 1450.0,248.2 1452.5,248.0 1455.0,247.8 1457.5,247.6 1459.9,247.5 1462.3,247.3 1464.9,247.2 1467.3,247.0 1469.7,246.9 1472.3,246.7 1474.7,246.6 1477.2,246.5 1479.7,246.3 1482.2,246.2 1484.6,246.1 1487.1,246.0 1489.6,245.9 1492.0,245.8 1494.5,245.7 1496.9,245.6 1499.3,245.5 1501.8,245.4 1504.3,245.3 1506.8,245.3 1509.2,245.2 1511.6,245.1 1514.1,245.1 1516.5,245.0 1519.0,245.0 1521.4,244.9 1523.9,244.9 1526.4,244.8 1528.9,244.8 1531.3,244.8 1533.7,244.8 1536.2,244.7 1538.6,244.7 1541.0,244.7 1543.5,244.7 1545.9,244.7 1548.4,244.7 1550.8,244.7 1553.3,244.7 1555.7,244.7 1558.1,244.7 1560.5,244.8 1563.0,244.8 1565.4,244.8 1567.9,244.8 1570.3,244.9 1572.8,244.9 1575.2,245.0 1577.6,245.0 1580.1,245.1 1582.5,245.1 1584.9,245.2 1587.3,245.2 1589.8,245.3 1592.2,245.4 1594.6,245.4 1597.1,245.5 1599.5,245.6 1601.9,245.7 1604.3,245.8 1606.7,245.9 1609.2,246.0 1611.6,246.1 1614.0,246.2 1616.5,246.3 1618.9,246.4 1621.4,246.5 1623.8,246.6 1626.2,246.7 1628.6,246.9 1631.0,247.0 1633.4,247.1 1635.8,247.2 1638.2,247.4 1640.6,247.5 1643.0,247.7 1645.5,247.8 1647.9,248.0 1650.3,248.1 1650.9,248.1"/>
<path stroke="#f00" stroke-width="8.5" d="M306.4,812.5L370.7,811.1M396.3,810.1L423.3,808.5M448.9,806.6L460.7,805.4M486.1,802.5L489.7,802.1M604.3,777.2L670.2,753.4M693.6,743.3L723.4,728.3M745.9,716.1L761.1,707.2M783.0,694.0L790.2,689.4M811.8,675.5L814.0,674.0"/>
<polyline stroke="none" marker-start="url(#mtr)" marker-mid="url(#mtr)" marker-end="url(#mtr)" points="293.6,812.8 383.5,810.9 436.1,807.8 473.4,804.2 502.4,800.4 526.0,796.6 546.0,792.8 563.4,789.0 578.6,785.2 592.3,781.6 682.2,749.1 734.8,722.5 772.1,700.8 801.1,682.6 824.7,667.0 844.7,653.4 862.1,641.5 877.3,630.7 891.0,621.1 903.4,612.3 914.7,604.2 925.0,596.8 934.6,590.0 943.6,583.6 952.0,577.6 959.8,572.0 967.2,566.8 974.3,561.8 980.9,557.1 987.2,552.7 993.3,548.5 999.0,544.5 1004.6,540.7 1009.9,537.1 1015.0,533.6 1019.8,530.3 1024.6,527.1 1029.1,524.0 1033.5,521.0 1037.8,518.1 1041.9,515.4 1045.9,512.7 1049.8,510.1 1053.5,507.6 1057.2,505.2 1060.7,502.9 1064.2,500.6 1067.6,498.4 1070.8,496.2 1074.0,494.1 1077.2,492.1 1080.2,490.1 1083.2,488.2 1086.1,486.3 1089.0,484.5 1091.8,482.7 1094.5,480.9 1097.2,479.2 1099.8,477.5 1102.4,475.9 1104.9,474.3 1107.3,472.7 1109.8,471.2 1112.1,469.7 1114.5,468.2 1116.8,466.7 1119.0,465.3 1121.3,463.9 1123.4,462.6 1125.6,461.2 1127.7,459.9 1129.8,458.6 1131.8,457.3 1133.8,456.1 1135.8,454.9 1137.7,453.6 1139.7,452.5 1141.6,451.3 1143.4,450.1 1145.3,449.0 1147.1,447.9 1148.9,446.8 1150.6,445.7 1152.4,444.7 1154.1,443.6 1155.8,442.6 1157.5,441.6 1159.1,440.6 1160.8,439.6 1162.4,438.6 1164.0,437.6 1165.5,436.7 1167.1,435.7 1168.6,434.8 1170.1,433.9 1171.6,433.0 1173.1,432.1 1174.6,431.2 1176.0,430.4 1177.5,429.5 1178.9,428.7 1180.3,427.8 1181.7,427.0 1183.0,426.2 1184.4,425.4 1185.7,424.6 1187.1,423.8 1188.4,423.0 1189.7,422.3 1191.0,421.5 1192.3,420.8 1193.5,420.0 1194.8,419.3 1196.0,418.5 1197.3,417.8 1198.5,417.1 1199.7,416.4 1200.9,415.7 1202.1,415.0 1203.2,414.3 1204.4,413.7 1205.6,413.0 1206.7,412.3 1207.8,411.7 1210.1,410.4 1212.3,409.1 1214.4,407.9 1216.6,406.6 1218.6,405.4 1220.7,404.3 1222.7,403.1 1224.7,402.0 1226.7,400.8 1228.6,399.7 1230.5,398.7 1232.4,397.6 1234.3,396.5 1236.1,395.5 1237.9,394.5 1239.7,393.5 1241.4,392.5 1243.2,391.6 1244.9,390.6 1246.6,389.7 1248.2,388.7 1249.9,387.8 1251.5,386.9 1253.1,386.0 1254.7,385.2 1256.2,384.3 1257.8,383.4 1259.3,382.6 1260.8,381.8 1262.3,381.0 1263.8,380.2 1265.2,379.4 1266.7,378.6 1268.1,377.8 1269.5,377.0 1270.9,376.3 1272.3,375.5 1273.6,374.8 1275.0,374.0 1276.3,373.3 1277.7,372.6 1279.0,371.9 1280.3,371.2 1281.5,370.5 1282.8,369.8 1284.1,369.2 1285.3,368.5 1286.6,367.8 1287.8,367.2 1289.0,366.5 1290.2,365.9 1291.4,365.3 1292.6,364.6 1293.7,364.0 1294.9,363.4 1296.6,362.5 1298.3,361.6 1300.0,360.7 1301.6,359.8 1303.3,359.0 1304.9,358.1 1306.5,357.3 1308.0,356.5 1309.6,355.7 1311.1,354.9 1312.7,354.1 1314.2,353.3 1315.6,352.6 1317.1,351.8 1318.5,351.1 1320.0,350.3 1321.4,349.6 1322.8,348.9 1324.2,348.2 1325.6,347.5 1326.9,346.8 1328.3,346.1 1329.6,345.4 1330.9,344.7 1332.2,344.1 1333.5,343.4 1334.8,342.8 1336.1,342.1 1337.3,341.5 1338.5,340.9 1339.8,340.3 1341.0,339.6 1342.2,339.0 1343.4,338.4 1344.6,337.8 1345.8,337.3 1347.3,336.5 1348.8,335.7 1350.3,335.0 1351.8,334.2 1353.3,333.5 1354.8,332.8 1356.2,332.1 1357.7,331.4 1359.1,330.7 1360.5,330.0 1361.9,329.3 1363.2,328.7 1364.6,328.0 1365.9,327.4 1367.2,326.7 1368.6,326.1 1369.9,325.5 1371.1,324.8 1372.4,324.2 1373.7,323.6 1374.9,323.0 1376.2,322.4 1377.4,321.9 1378.6,321.3 1379.8,320.7 1381.0,320.2 1382.2,319.6 1383.7,318.9 1385.1,318.2 1386.5,317.6 1387.9,316.9 1389.3,316.3 1390.7,315.6 1392.1,315.0 1393.5,314.4 1394.8,313.7 1396.1,313.1 1397.4,312.5 1398.7,311.9 1400.0,311.4 1401.3,310.8 1402.6,310.2 1403.8,309.6 1405.1,309.1 1406.3,308.5 1407.5,308.0 1408.7,307.5 1409.9,306.9 1411.3,306.3 1412.7,305.7 1414.1,305.1 1415.5,304.5 1416.8,303.9 1418.2,303.3 1419.5,302.7 1420.8,302.1 1422.1,301.6 1423.4,301.0 1424.7,300.5 1426.0,299.9 1427.2,299.4 1428.5,298.9 1429.7,298.4 1430.9,297.8 1432.1,297.3 1433.5,296.8 1434.9,296.2 1436.3,295.6 1437.6,295.1 1438.9,294.5 1440.3,294.0 1441.6,293.4 1442.9,292.9 1444.2,292.4 1445.4,291.9 1446.7,291.4 1447.9,290.9 1449.2,290.4 1450.4,289.9 1451.6,289.4 1453.0,288.9 1454.3,288.3 1455.7,287.8 1457.0,287.3 1458.3,286.8 1459.6,286.3 1460.9,285.8 1462.2,285.3 1463.4,284.8 1464.7,284.3 1465.9,283.9 1467.2,283.4 1468.5,282.9 1469.9,282.4 1471.2,281.9 1472.6,281.4 1473.9,280.9 1475.2,280.4 1476.5,280.0 1477.7,279.5 1479.0,279.1 1480.2,278.6 1481.5,278.2 1482.7,277.7 1484.0,277.3 1485.4,276.8 1486.7,276.3 1488.0,275.9 1489.3,275.4 1490.6,275.0 1491.9,274.6 1493.1,274.1 1494.4,273.7 1495.6,273.3 1496.9,272.8 1498.3,272.4 1499.6,272.0 1500.9,271.5 1502.2,271.1 1503.4,270.7 1504.7,270.3 1506.0,269.9 1507.2,269.5 1508.5,269.1 1509.9,268.7 1511.2,268.3 1512.5,267.9 1513.8,267.5 1515.0,267.1 1516.3,266.7 1517.6,266.3 1518.9,265.9 1520.2,265.5 1521.5,265.1 1522.8,264.8 1524.1,264.4 1525.4,264.0 1526.7,263.7 1528.0,263.3 1529.3,262.9 1530.7,262.5 1532.0,262.2 1533.2,261.8 1534.5,261.5 1535.8,261.1 1537.1,260.8 1538.5,260.4 1539.8,260.1 1541.1,259.7 1542.4,259.4 1543.7,259.1 1544.9,258.7 1546.3,258.4 1547.6,258.1 1548.9,257.7 1550.2,257.4 1551.5,257.1 1552.7,256.8 1554.1,256.5 1555.4,256.2 1556.7,255.9 1558.0,255.6 1559.3,255.3 1560.5,255.0 1561.9,254.7 1563.2,254.4 1564.5,254.1 1565.8,253.8 1567.1,253.6 1568.4,253.3 1569.7,253.0 1571.0,252.7 1572.3,252.5 1573.6,252.2 1575.0,252.0 1576.3,251.7 1577.6,251.4 1578.9,251.2 1580.2,250.9 1581.5,250.7 1582.8,250.5 1584.2,250.2 1585.4,250.0 1586.7,249.8 1588.1,249.5 1589.4,249.3 1590.7,249.1 1592.0,248.9 1593.3,248.7 1594.6,248.5 1595.9,248.3 1597.2,248.1 1598.6,247.8 1599.9,247.7 1601.2,247.5 1602.5,247.3 1603.8,247.1 1605.2,246.9 1606.5,246.7 1607.8,246.6 1609.1,246.4 1610.4,246.2 1611.8,246.1 1613.0,245.9 1614.4,245.7 1615.7,245.6 1617.0,245.4 1618.3,245.3 1619.6,245.2 1620.9,245.0 1622.2,244.9 1623.6,244.8 1624.9,244.6 1626.2,244.5 1627.5,244.4 1628.9,244.3 1630.2,244.2 1631.5,244.1 1632.8,244.0 1634.1,243.9 1635.4,243.8 1636.8,243.7 1638.1,243.6 1639.4,243.5 1640.7,243.5 1642.0,243.4 1643.3,243.3 1644.6,243.3 1646.0,243.2 1647.3,243.1 1648.6,243.1 1649.9,243.0 1650.9,243.0"/>
<path stroke="#00f" stroke-width="8.5" d="M306.4,822.4L370.7,822.3M396.3,822.1L423.3,821.6M448.9,821.0L460.6,820.7M486.2,820.0L489.6,819.9M605.1,814.9L669.4,811.1M695.0,809.4L722.1,807.4M747.6,805.2L759.4,804.1M784.8,801.3L788.4,800.9"/>
<polyline stroke="none" marker-start="url(#mtb)" marker-mid="url(#mtb)" marker-end="url(#mtb)" points="293.6,822.5 383.5,822.3 436.1,821.4 473.4,820.4 502.4,819.5 526.0,818.6 546.0,817.8 563.4,817.0 578.6,816.3 592.3,815.6 682.2,810.3 734.8,806.5 772.1,802.9 801.1,799.3 824.7,795.7 844.7,792.2 862.1,788.7 877.3,785.2 891.0,781.8 903.4,778.4 914.7,775.1 925.0,771.8 934.6,768.6 943.6,765.4 952.0,762.3 959.8,759.3 967.2,756.3 974.3,753.3 980.9,750.4 987.2,747.5 993.3,744.6 999.0,741.9 1004.6,739.1 1009.9,736.4 1015.0,733.8 1019.8,731.2 1024.6,728.7 1029.1,726.2 1033.5,723.7 1037.8,721.3 1041.9,719.0 1045.9,716.6 1049.8,714.4 1053.5,712.1 1057.2,709.9 1060.7,707.7 1064.2,705.6 1067.6,703.5 1070.8,701.5 1074.0,699.5 1077.2,697.5 1080.2,695.5 1083.2,693.6 1086.1,691.7 1089.0,689.8 1091.8,688.0 1094.5,686.2 1097.2,684.4 1099.8,682.6 1102.4,680.9 1104.9,679.2 1107.3,677.5 1109.8,675.8 1112.1,674.2 1114.5,672.6 1116.8,671.0 1119.0,669.4 1121.3,667.9 1123.4,666.3 1125.6,664.8 1127.7,663.3 1129.8,661.9 1131.8,660.4 1133.8,659.0 1135.8,657.6 1137.7,656.1 1139.7,654.8 1141.6,653.4 1143.4,652.0 1145.3,650.7 1147.1,649.4 1148.9,648.1 1150.6,646.8 1152.4,645.5 1154.1,644.2 1155.8,643.0 1157.5,641.8 1159.1,640.5 1160.8,639.3 1162.4,638.1 1164.0,636.9 1165.5,635.8 1167.1,634.6 1168.6,633.5 1170.1,632.3 1171.6,631.2 1173.1,630.1 1174.6,629.0 1176.0,627.9 1177.5,626.8 1178.9,625.7 1180.3,624.7 1181.7,623.6 1183.0,622.6 1184.4,621.5 1185.7,620.5 1187.1,619.5 1188.4,618.5 1189.7,617.5 1191.0,616.5 1192.3,615.5 1193.5,614.6 1194.8,613.6 1196.0,612.6 1197.3,611.7 1198.5,610.8 1199.7,609.8 1200.9,608.9 1202.1,608.0 1203.2,607.1 1204.4,606.2 1205.6,605.3 1206.7,604.4 1207.8,603.5 1209.0,602.7 1210.1,601.8 1211.2,601.0 1212.3,600.1 1213.4,599.3 1214.4,598.4 1215.5,597.6 1216.6,596.8 1217.6,596.0 1218.6,595.1 1219.7,594.3 1220.7,593.5 1222.7,592.0 1224.7,590.4 1226.7,588.9 1228.6,587.3 1230.5,585.8 1232.4,584.4 1234.3,582.9 1236.1,581.5 1237.9,580.1 1239.7,578.7 1241.4,577.3 1243.2,575.9 1244.9,574.6 1246.6,573.3 1248.2,572.0 1249.9,570.7 1251.5,569.4 1253.1,568.1 1254.7,566.9 1256.2,565.6 1257.8,564.4 1259.3,563.2 1260.8,562.0 1262.3,560.9 1263.8,559.7 1265.2,558.5 1266.7,557.4 1268.1,556.3 1269.5,555.2 1270.9,554.1 1272.3,553.0 1273.6,551.9 1275.0,550.8 1276.3,549.8 1277.7,548.7 1279.0,547.7 1280.3,546.7 1281.5,545.7 1282.8,544.7 1284.1,543.7 1285.3,542.7 1286.6,541.7 1287.8,540.8 1289.0,539.8 1290.2,538.9 1291.4,537.9 1292.6,537.0 1293.7,536.1 1294.9,535.2 1296.0,534.3 1297.2,533.4 1298.3,532.5 1299.4,531.6 1300.5,530.7 1301.6,529.9 1302.7,529.0 1303.8,528.2 1304.9,527.3 1305.9,526.5 1307.0,525.7 1308.0,524.9 1309.1,524.1 1310.1,523.3 1311.6,522.1 1313.2,520.9 1314.6,519.7 1316.1,518.6 1317.6,517.4 1319.0,516.3 1320.5,515.2 1321.9,514.1 1323.3,513.0 1324.6,511.9 1326.0,510.9 1327.4,509.8 1328.7,508.8 1330.0,507.8 1331.3,506.8 1332.6,505.8 1333.9,504.8 1335.2,503.8 1336.5,502.8 1337.7,501.9 1339.0,500.9 1340.2,500.0 1341.4,499.0 1342.6,498.1 1343.8,497.2 1345.0,496.3 1346.1,495.4 1347.3,494.5 1348.5,493.7 1349.6,492.8 1350.7,491.9 1351.8,491.1 1353.0,490.2 1354.1,489.4 1355.1,488.6 1356.2,487.8 1357.3,487.0 1358.4,486.1 1359.4,485.4 1360.5,484.6 1361.5,483.8 1362.9,482.7 1364.2,481.7 1365.6,480.7 1366.9,479.7 1368.2,478.7 1369.5,477.8 1370.8,476.8 1372.1,475.8 1373.4,474.9 1374.6,474.0 1375.9,473.0 1377.1,472.1 1378.3,471.2 1379.5,470.3 1380.7,469.4 1381.9,468.6 1383.1,467.7 1384.2,466.8 1385.4,466.0 1386.5,465.1 1387.7,464.3 1388.8,463.5 1389.9,462.7 1391.0,461.9 1392.1,461.1 1393.2,460.3 1394.3,459.5 1395.3,458.7 1396.4,457.9 1397.7,457.0 1399.0,456.0 1400.3,455.1 1401.6,454.2 1402.8,453.2 1404.1,452.3 1405.3,451.4 1406.5,450.6 1407.7,449.7 1408.9,448.8 1410.1,448.0 1411.3,447.1 1412.5,446.3 1413.6,445.4 1414.8,444.6 1415.9,443.8 1417.1,443.0 1418.2,442.2 1419.3,441.4 1420.4,440.6 1421.5,439.9 1422.6,439.1 1423.6,438.3 1424.7,437.6 1426.0,436.7 1427.2,435.8 1428.5,434.9 1429.7,434.1 1430.9,433.2 1432.1,432.4 1433.3,431.5 1434.5,430.7 1435.7,429.9 1436.8,429.1 1438.0,428.3 1439.1,427.5 1440.3,426.7 1441.4,425.9 1442.5,425.1 1443.6,424.4 1444.7,423.6 1445.8,422.9 1446.9,422.1 1448.1,421.3 1449.3,420.4 1450.6,419.6 1451.8,418.7 1453.0,417.9 1454.2,417.1 1455.3,416.3 1456.5,415.5 1457.7,414.7 1458.8,413.9 1459.9,413.2 1461.1,412.4 1462.2,411.7 1463.3,410.9 1464.4,410.2 1465.5,409.4 1466.7,408.6 1467.9,407.8 1469.1,407.0 1470.3,406.2 1471.5,405.4 1472.7,404.6 1473.9,403.8 1475.0,403.1 1476.2,402.3 1477.3,401.6 1478.4,400.8 1479.5,400.1 1480.6,399.4 1481.7,398.6 1482.8,397.9 1484.0,397.1 1485.2,396.3 1486.4,395.6 1487.6,394.8 1488.8,394.0 1489.9,393.3 1491.1,392.5 1492.2,391.8 1493.4,391.1 1494.5,390.4 1495.6,389.6 1496.7,388.9 1497.9,388.2 1499.1,387.4 1500.3,386.6 1501.5,385.9 1502.6,385.1 1503.8,384.4 1504.9,383.7 1506.1,382.9 1507.2,382.2 1508.3,381.5 1509.4,380.8 1510.6,380.1 1511.8,379.3 1513.0,378.6 1514.2,377.8 1515.4,377.1 1516.5,376.4 1517.7,375.6 1518.8,374.9 1519.9,374.2 1521.0,373.5 1522.1,372.8 1523.3,372.1 1524.5,371.4 1525.7,370.6 1526.8,369.9 1528.0,369.2 1529.1,368.5 1530.3,367.8 1531.4,367.1 1532.5,366.4 1533.7,365.7 1534.9,364.9 1536.1,364.2 1537.2,363.5 1538.4,362.8 1539.5,362.1 1540.7,361.4 1541.8,360.7 1542.9,360.0 1544.1,359.3 1545.3,358.6 1546.4,357.8 1547.6,357.1 1548.7,356.4 1549.9,355.7 1551.0,355.0 1552.1,354.4 1553.3,353.6 1554.5,352.9 1555.6,352.2 1556.8,351.5 1557.9,350.8 1559.1,350.1 1560.2,349.4 1561.3,348.7 1562.5,348.0 1563.6,347.3 1564.8,346.6 1565.9,345.9 1567.1,345.2 1568.2,344.5 1569.3,343.9 1570.5,343.1 1571.7,342.4 1572.8,341.7 1574.0,341.0 1575.1,340.3 1576.2,339.6 1577.3,339.0 1578.5,338.2 1579.7,337.5 1580.8,336.8 1582.0,336.1 1583.1,335.5 1584.2,334.8 1585.3,334.1 1586.5,333.4 1587.6,332.7 1588.8,332.0 1589.9,331.3 1591.0,330.6 1592.1,329.9 1593.3,329.2 1594.5,328.5 1595.6,327.8 1596.7,327.1 1597.9,326.4 1599.0,325.7 1600.1,325.0 1601.3,324.3 1602.4,323.6 1603.5,322.9 1604.6,322.2 1605.8,321.6 1606.9,320.8 1608.0,320.1 1609.2,319.4 1610.3,318.7 1611.4,318.1 1612.6,317.3 1613.7,316.6 1614.8,315.9 1615.9,315.2 1617.1,314.5 1618.2,313.8 1619.3,313.1 1620.5,312.4 1621.6,311.7 1622.7,311.0 1623.9,310.3 1625.0,309.6 1626.1,308.9 1627.2,308.2 1628.3,307.5 1629.5,306.8 1630.6,306.1 1631.7,305.3 1632.8,304.6 1634.0,303.9 1635.1,303.2 1636.2,302.5 1637.3,301.8 1638.4,301.1 1639.5,300.4 1640.7,299.7 1641.8,299.0 1642.9,298.2 1644.0,297.5 1645.1,296.8 1646.2,296.1 1647.3,295.4 1648.4,294.7 1649.6,293.9 1650.7,293.2 1650.9,293.1"/>
<path stroke="#000" stroke-width="8.5" d="M305.6,785.3L371.5,760.4M395.2,750.7L424.4,737.8M447.7,727.1L461.9,720.4M484.9,709.2L490.9,706.2M513.8,694.6L514.6,694.2M603.5,646.7L671.0,609.1M693.4,596.6L723.7,579.5M746.0,566.9L761.0,558.4M783.3,545.9L789.9,542.2M812.3,529.7L813.5,529.0"/>
<polyline stroke="none" marker-start="url(#mck)" marker-mid="url(#mck)" marker-end="url(#mck)" points="293.6,789.8 383.5,755.9 436.1,732.6 473.4,714.9 502.4,700.4 526.0,688.3 546.0,677.8 563.4,668.6 578.6,660.4 592.3,653.0 682.2,602.9 734.8,573.2 772.1,552.2 801.1,535.9 824.7,522.8 844.7,511.8 862.1,502.3 877.3,494.1 891.0,486.8 903.4,480.3 914.7,474.4 925.0,469.1 934.6,464.2 943.6,459.7 952.0,455.5 959.8,451.6 967.2,448.0 974.3,444.6 980.9,441.5 987.2,438.5 993.3,435.6 999.0,433.0 1004.6,430.4 1009.9,428.0 1015.0,425.8 1019.8,423.6 1024.6,421.5 1029.1,419.5 1033.5,417.6 1037.8,415.7 1041.9,414.0 1045.9,412.3 1049.8,410.6 1053.5,409.1 1057.2,407.5 1060.7,406.1 1064.2,404.6 1067.6,403.3 1070.8,401.9 1074.0,400.7 1077.2,399.4 1080.2,398.2 1083.2,397.0 1086.1,395.9 1089.0,394.8 1091.8,393.7 1094.5,392.6 1097.2,391.6 1099.8,390.6 1102.4,389.6 1104.9,388.7 1107.3,387.8 1109.8,386.9 1112.1,386.0 1114.5,385.1 1116.8,384.3 1119.0,383.4 1123.4,381.9 1127.7,380.3 1131.8,378.9 1135.8,377.5 1139.7,376.1 1143.4,374.8 1147.1,373.6 1150.6,372.4 1154.1,371.2 1157.5,370.1 1160.8,369.0 1164.0,368.0 1167.1,367.0 1170.1,366.0 1173.1,365.0 1176.0,364.1 1178.9,363.2 1181.7,362.3 1184.4,361.5 1187.1,360.7 1189.7,359.9 1192.3,359.1 1194.8,358.4 1197.3,357.6 1199.7,356.9 1202.1,356.2 1204.4,355.5 1207.8,354.5 1211.2,353.6 1214.4,352.7 1217.6,351.8 1220.7,350.9 1223.7,350.1 1226.7,349.3 1229.6,348.5 1232.4,347.8 1235.2,347.0 1237.9,346.3 1240.6,345.6 1243.2,345.0 1245.7,344.3 1248.2,343.7 1250.7,343.1 1253.1,342.5 1255.4,341.9 1258.5,341.2 1261.6,340.4 1264.5,339.7 1267.4,339.1 1270.2,338.4 1273.0,337.8 1275.7,337.2 1278.3,336.6 1280.9,336.0 1283.5,335.5 1285.9,334.9 1288.4,334.4 1290.8,333.9 1293.2,333.4 1296.0,332.8 1298.9,332.2 1301.6,331.7 1304.3,331.1 1307.0,330.6 1309.6,330.1 1312.1,329.6 1314.6,329.1 1317.1,328.7 1319.5,328.2 1321.9,327.8 1324.6,327.3 1327.4,326.8 1330.0,326.4 1332.6,325.9 1335.2,325.5 1337.7,325.1 1340.2,324.7 1342.6,324.3 1345.0,323.9 1347.7,323.5 1350.3,323.0 1353.0,322.6 1355.5,322.3 1358.0,321.9 1360.5,321.5 1362.9,321.2 1365.6,320.8 1368.2,320.5 1370.8,320.1 1373.4,319.8 1375.9,319.4 1378.3,319.1 1380.7,318.8 1383.4,318.5 1386.0,318.2 1388.5,317.9 1391.0,317.6 1393.5,317.3 1395.9,317.1 1398.5,316.8 1401.1,316.5 1403.6,316.3 1406.0,316.0 1408.5,315.8 1411.1,315.5 1413.6,315.3 1416.2,315.1 1418.6,314.9 1421.0,314.7 1423.6,314.4 1426.2,314.2 1428.7,314.0 1431.1,313.8 1433.5,313.7 1436.1,313.5 1438.6,313.3 1441.0,313.1 1443.4,313.0 1446.0,312.8 1448.5,312.7 1450.9,312.5 1453.3,312.4 1455.8,312.2 1458.3,312.1 1460.7,312.0 1463.3,311.8 1465.8,311.7 1468.2,311.6 1470.6,311.5 1473.1,311.4 1475.6,311.3 1478.0,311.2 1480.5,311.1 1483.0,311.0 1485.4,310.9 1487.9,310.8 1490.3,310.8 1492.7,310.7 1495.2,310.6 1497.7,310.5 1500.2,310.5 1502.6,310.4 1505.1,310.3 1507.5,310.3 1510.0,310.2 1512.5,310.2 1514.9,310.1 1517.3,310.1 1519.8,310.1 1522.2,310.0 1524.7,310.0 1527.1,310.0 1529.6,309.9 1532.0,309.9 1534.5,309.9 1537.0,309.9 1539.4,309.9 1541.9,309.8 1544.3,309.8 1546.7,309.8 1549.2,309.8 1551.6,309.8 1554.1,309.8 1556.5,309.8 1558.9,309.8 1561.4,309.8 1563.8,309.8 1566.2,309.8 1568.7,309.8 1571.1,309.8 1573.6,309.8 1576.0,309.9 1578.4,309.9 1580.9,309.9 1583.3,309.9 1585.8,309.9 1588.2,309.9 1590.6,310.0 1593.1,310.0 1595.5,310.0 1597.9,310.0 1600.3,310.1 1602.8,310.1 1605.2,310.1 1607.6,310.1 1610.0,310.2 1612.5,310.2 1614.9,310.2 1617.3,310.2 1619.7,310.3 1622.2,310.3 1624.6,310.3 1627.0,310.4 1629.4,310.4 1631.9,310.4 1634.3,310.5 1636.7,310.5 1639.1,310.5 1641.5,310.6 1643.9,310.6 1646.3,310.6 1648.8,310.7 1651.2,310.7 1653.6,310.7 1656.0,310.7 1658.4,310.8 1660.9,310.8 1663.3,310.8 1665.7,310.9 1668.1,310.9 1670.5,310.9 1672.9,310.9 1674.6,311.0"/>
<path stroke="#f00" stroke-width="8.5" d="M306.4,813.1L370.7,811.2M396.3,809.9L423.3,808.0M448.8,805.7L460.7,804.4M486.1,801.3L489.7,800.8M604.5,776.4L670.1,754.8M693.9,745.6L723.1,732.7M746.3,721.8L760.7,714.5M783.4,702.7L789.8,699.3M812.3,687.0L813.6,686.2"/>
<polyline stroke="none" marker-start="url(#msr)" marker-mid="url(#msr)" marker-end="url(#msr)" points="293.6,813.5 383.5,810.9 436.1,807.1 473.4,803.0 502.4,799.0 526.0,795.0 546.0,791.2 563.4,787.5 578.6,783.9 592.3,780.4 682.2,750.7 734.8,727.5 772.1,708.8 801.1,693.2 824.7,680.0 844.7,668.5 862.1,658.4 877.3,649.4 891.0,641.3 903.4,633.9 914.7,627.2 925.0,621.0 934.6,615.3 943.6,610.0 952.0,605.0 959.8,600.4 967.2,596.0 974.3,591.9 980.9,588.0 987.2,584.4 993.3,580.9 999.0,577.6 1004.6,574.4 1009.9,571.4 1015.0,568.6 1019.8,565.8 1024.6,563.1 1029.1,560.6 1033.5,558.1 1037.8,555.8 1041.9,553.5 1045.9,551.3 1049.8,549.1 1053.5,547.1 1057.2,545.1 1060.7,543.1 1064.2,541.2 1067.6,539.4 1070.8,537.6 1074.0,535.9 1077.2,534.2 1080.2,532.6 1083.2,530.9 1086.1,529.4 1089.0,527.8 1091.8,526.4 1094.5,524.9 1097.2,523.5 1099.8,522.1 1102.4,520.7 1104.9,519.4 1107.3,518.1 1109.8,516.8 1112.1,515.5 1114.5,514.3 1116.8,513.1 1119.0,511.9 1121.3,510.7 1123.4,509.6 1125.6,508.4 1127.7,507.3 1129.8,506.2 1131.8,505.2 1133.8,504.1 1135.8,503.1 1137.7,502.1 1139.7,501.1 1141.6,500.1 1143.4,499.1 1145.3,498.1 1147.1,497.2 1148.9,496.3 1150.6,495.4 1152.4,494.5 1154.1,493.6 1155.8,492.7 1157.5,491.8 1159.1,491.0 1160.8,490.1 1162.4,489.3 1164.0,488.5 1165.5,487.7 1167.1,486.9 1168.6,486.1 1170.1,485.3 1171.6,484.5 1173.1,483.8 1174.6,483.0 1176.0,482.3 1177.5,481.6 1178.9,480.8 1180.3,480.1 1181.7,479.4 1183.0,478.7 1184.4,478.0 1185.7,477.3 1187.1,476.6 1188.4,476.0 1189.7,475.3 1191.0,474.6 1192.3,474.0 1193.5,473.4 1194.8,472.7 1196.0,472.1 1197.3,471.5 1198.5,470.8 1199.7,470.2 1200.9,469.6 1202.1,469.0 1203.2,468.4 1204.4,467.8 1206.7,466.7 1209.0,465.5 1211.2,464.4 1213.4,463.3 1215.5,462.2 1217.6,461.2 1219.7,460.1 1221.7,459.1 1223.7,458.1 1225.7,457.1 1227.7,456.1 1229.6,455.1 1231.5,454.2 1233.3,453.2 1235.2,452.3 1237.0,451.4 1238.8,450.5 1240.6,449.6 1242.3,448.8 1244.0,447.9 1245.7,447.1 1247.4,446.2 1249.0,445.4 1250.7,444.6 1252.3,443.8 1253.9,443.0 1255.4,442.2 1257.0,441.4 1258.5,440.6 1260.1,439.9 1261.6,439.1 1263.0,438.4 1264.5,437.7 1265.9,436.9 1267.4,436.2 1268.8,435.5 1270.2,434.8 1271.6,434.1 1273.0,433.5 1274.3,432.8 1275.7,432.1 1277.0,431.5 1278.3,430.8 1279.6,430.1 1280.9,429.5 1282.2,428.9 1283.5,428.2 1284.7,427.6 1285.9,427.0 1287.2,426.4 1288.4,425.8 1289.6,425.2 1290.8,424.6 1292.0,424.0 1293.2,423.4 1294.9,422.6 1296.6,421.7 1298.3,420.9 1300.0,420.1 1301.6,419.2 1303.3,418.4 1304.9,417.6 1306.5,416.9 1308.0,416.1 1309.6,415.3 1311.1,414.6 1312.7,413.8 1314.2,413.1 1315.6,412.4 1317.1,411.6 1318.5,410.9 1320.0,410.2 1321.4,409.5 1322.8,408.9 1324.2,408.2 1325.6,407.5 1326.9,406.9 1328.3,406.2 1329.6,405.6 1330.9,404.9 1332.2,404.3 1333.5,403.7 1334.8,403.1 1336.1,402.5 1337.3,401.9 1338.5,401.3 1339.8,400.7 1341.0,400.1 1342.2,399.5 1343.4,398.9 1344.6,398.4 1346.1,397.6 1347.7,396.9 1349.2,396.2 1350.7,395.5 1352.2,394.8 1353.7,394.1 1355.1,393.4 1356.6,392.7 1358.0,392.0 1359.4,391.4 1360.8,390.7 1362.2,390.1 1363.6,389.5 1364.9,388.8 1366.3,388.2 1367.6,387.6 1368.9,387.0 1370.2,386.4 1371.5,385.8 1372.7,385.2 1374.0,384.7 1375.2,384.1 1376.5,383.5 1377.7,383.0 1378.9,382.4 1380.1,381.9 1381.3,381.3 1382.8,380.7 1384.2,380.0 1385.7,379.4 1387.1,378.8 1388.5,378.1 1389.9,377.5 1391.3,376.9 1392.6,376.3 1394.0,375.7 1395.3,375.1 1396.7,374.5 1398.0,374.0 1399.3,373.4 1400.5,372.9 1401.8,372.3 1403.1,371.8 1404.3,371.2 1405.6,370.7 1406.8,370.2 1408.0,369.7 1409.2,369.2 1410.6,368.6 1412.0,368.0 1413.4,367.4 1414.8,366.8 1416.2,366.2 1417.5,365.7 1418.8,365.1 1420.2,364.6 1421.5,364.0 1422.8,363.5 1424.1,363.0 1425.3,362.5 1426.6,362.0 1427.8,361.5 1429.1,361.0 1430.3,360.5 1431.5,360.0 1432.9,359.4 1434.3,358.9 1435.7,358.4 1437.0,357.8 1438.4,357.3 1439.7,356.8 1441.0,356.3 1442.3,355.8 1443.6,355.3 1444.9,354.8 1446.1,354.3 1447.4,353.8 1448.6,353.4 1449.9,352.9 1451.3,352.4 1452.6,351.9 1454.0,351.4 1455.3,350.9 1456.7,350.4 1458.0,349.9 1459.3,349.5 1460.6,349.0 1461.9,348.5 1463.1,348.1 1464.4,347.6 1465.6,347.2 1466.9,346.8 1468.2,346.3 1469.6,345.8 1470.9,345.4 1472.3,344.9 1473.6,344.5 1474.9,344.0 1476.2,343.6 1477.4,343.2 1478.7,342.7 1480.0,342.3 1481.2,341.9 1482.6,341.5 1483.9,341.0 1485.2,340.6 1486.6,340.2 1487.9,339.8 1489.2,339.3 1490.5,338.9 1491.7,338.6 1493.0,338.2 1494.2,337.8 1495.6,337.4 1496.9,337.0 1498.3,336.6 1499.6,336.2 1500.9,335.8 1502.2,335.4 1503.4,335.0 1504.7,334.7 1506.0,334.3 1507.3,333.9 1508.7,333.5 1510.0,333.2 1511.3,332.8 1512.6,332.5 1513.9,332.1 1515.1,331.8 1516.4,331.4 1517.8,331.1 1519.1,330.7 1520.4,330.4 1521.7,330.0 1523.0,329.7 1524.3,329.4 1525.6,329.1 1526.9,328.7 1528.3,328.4 1529.6,328.1 1530.9,327.8 1532.2,327.4 1533.5,327.1 1534.8,326.8 1536.2,326.5 1537.5,326.2 1538.8,325.9 1540.1,325.6 1541.4,325.4 1542.7,325.1 1544.0,324.8 1545.3,324.5 1546.7,324.2 1548.0,324.0 1549.3,323.7 1550.6,323.4 1551.9,323.2 1553.2,322.9 1554.5,322.7 1555.9,322.4 1557.2,322.2 1558.5,321.9 1559.8,321.7 1561.1,321.5 1562.5,321.2 1563.8,321.0 1565.1,320.8 1566.4,320.6 1567.7,320.4 1569.0,320.1 1570.4,319.9 1571.7,319.7 1573.0,319.5 1574.3,319.3 1575.6,319.1 1576.9,319.0 1578.3,318.8 1579.5,318.6 1580.9,318.4 1582.2,318.2 1583.5,318.1 1584.8,317.9 1586.2,317.8 1587.5,317.6 1588.8,317.4 1590.1,317.3 1591.4,317.2 1592.8,317.0 1594.1,316.9 1595.4,316.8 1596.7,316.6 1598.1,316.5 1599.4,316.4 1600.7,316.3 1602.0,316.2 1603.4,316.1 1604.7,316.0 1606.0,315.9 1607.3,315.8 1608.7,315.7 1610.0,315.6 1611.3,315.5 1612.6,315.5 1613.9,315.4 1615.3,315.3 1616.6,315.3 1617.9,315.2 1619.3,315.2 1620.6,315.1 1621.9,315.1 1623.2,315.0 1624.5,315.0 1625.8,315.0 1627.2,314.9 1628.5,314.9 1629.8,314.9 1631.1,314.9 1632.5,314.9 1633.8,314.9 1635.1,314.9 1636.4,314.9 1637.7,314.9 1639.0,314.9 1640.4,315.0 1641.7,315.0 1643.0,315.0 1644.3,315.1 1645.7,315.1 1647.0,315.2 1648.3,315.2 1649.6,315.3 1650.9,315.3 1652.2,315.4 1653.6,315.5 1654.9,315.6 1656.2,315.6 1657.5,315.7 1658.8,315.8 1660.1,315.9 1661.4,316.0 1662.7,316.1 1664.0,316.2 1665.3,316.4 1666.7,316.5 1668.0,316.6 1669.3,316.7 1670.6,316.9 1671.9,317.0 1673.2,317.2 1674.5,317.3 1674.6,317.3"/>
<path stroke="#00f" stroke-width="8.5" d="M306.4,823.8L370.7,821.1M396.3,820.3L423.3,819.8M448.9,819.4L460.6,819.3M486.2,818.9L489.6,818.9M605.1,816.3L669.4,813.0M695.0,811.2L722.1,808.8M747.5,806.1L759.4,804.6M784.8,801.1L788.4,800.5"/>
<polyline stroke="none" marker-start="url(#msb)" marker-mid="url(#msb)" marker-end="url(#msb)" points="293.6,824.3 383.5,820.6 436.1,819.6 473.4,819.1 502.4,818.7 526.0,818.4 546.0,818.0 563.4,817.7 578.6,817.3 592.3,816.9 682.2,812.4 734.8,807.6 772.1,803.0 801.1,798.6 824.7,794.5 844.7,790.5 862.1,786.7 877.3,783.1 891.0,779.7 903.4,776.3 914.7,773.1 925.0,770.1 934.6,767.1 943.6,764.2 952.0,761.4 959.8,758.7 967.2,756.0 974.3,753.5 980.9,751.0 987.2,748.5 993.3,746.1 999.0,743.8 1004.6,741.5 1009.9,739.3 1015.0,737.1 1019.8,735.0 1024.6,732.9 1029.1,730.9 1033.5,728.9 1037.8,726.9 1041.9,725.0 1045.9,723.1 1049.8,721.2 1053.5,719.4 1057.2,717.6 1060.7,715.9 1064.2,714.1 1067.6,712.5 1070.8,710.8 1074.0,709.2 1077.2,707.5 1080.2,706.0 1083.2,704.4 1086.1,702.9 1089.0,701.4 1091.8,699.9 1094.5,698.4 1097.2,697.0 1099.8,695.5 1102.4,694.1 1104.9,692.8 1107.3,691.4 1109.8,690.1 1112.1,688.7 1114.5,687.4 1116.8,686.1 1119.0,684.9 1121.3,683.6 1123.4,682.4 1125.6,681.1 1127.7,679.9 1129.8,678.7 1131.8,677.5 1133.8,676.4 1135.8,675.2 1137.7,674.1 1139.7,672.9 1141.6,671.8 1143.4,670.7 1145.3,669.6 1147.1,668.5 1148.9,667.5 1150.6,666.4 1152.4,665.4 1154.1,664.3 1155.8,663.3 1157.5,662.3 1159.1,661.3 1160.8,660.3 1162.4,659.3 1164.0,658.4 1165.5,657.4 1167.1,656.4 1168.6,655.5 1170.1,654.6 1171.6,653.6 1173.1,652.7 1174.6,651.8 1176.0,650.9 1177.5,650.0 1178.9,649.1 1180.3,648.2 1181.7,647.4 1183.0,646.5 1184.4,645.6 1185.7,644.8 1187.1,644.0 1188.4,643.1 1189.7,642.3 1191.0,641.5 1192.3,640.7 1193.5,639.8 1194.8,639.0 1196.0,638.2 1197.3,637.5 1198.5,636.7 1199.7,635.9 1200.9,635.1 1202.1,634.4 1203.2,633.6 1204.4,632.9 1205.6,632.1 1206.7,631.4 1207.8,630.6 1209.0,629.9 1210.1,629.2 1211.2,628.4 1212.3,627.7 1214.4,626.3 1216.6,624.9 1218.6,623.5 1220.7,622.2 1222.7,620.8 1224.7,619.5 1226.7,618.2 1228.6,616.9 1230.5,615.7 1232.4,614.4 1234.3,613.2 1236.1,611.9 1237.9,610.7 1239.7,609.5 1241.4,608.3 1243.2,607.2 1244.9,606.0 1246.6,604.9 1248.2,603.7 1249.9,602.6 1251.5,601.5 1253.1,600.4 1254.7,599.3 1256.2,598.3 1257.8,597.2 1259.3,596.2 1260.8,595.1 1262.3,594.1 1263.8,593.1 1265.2,592.1 1266.7,591.1 1268.1,590.1 1269.5,589.1 1270.9,588.1 1272.3,587.2 1273.6,586.2 1275.0,585.3 1276.3,584.4 1277.7,583.4 1279.0,582.5 1280.3,581.6 1281.5,580.7 1282.8,579.8 1284.1,579.0 1285.3,578.1 1286.6,577.2 1287.8,576.4 1289.0,575.5 1290.2,574.7 1291.4,573.8 1292.6,573.0 1293.7,572.2 1294.9,571.3 1296.0,570.5 1297.2,569.7 1298.3,568.9 1299.4,568.1 1300.5,567.4 1301.6,566.6 1302.7,565.8 1303.8,565.0 1304.9,564.3 1305.9,563.5 1307.5,562.4 1309.1,561.3 1310.6,560.2 1312.1,559.1 1313.7,558.1 1315.1,557.0 1316.6,555.9 1318.1,554.9 1319.5,553.9 1320.9,552.9 1322.3,551.9 1323.7,550.9 1325.1,549.9 1326.5,548.9 1327.8,548.0 1329.2,547.0 1330.5,546.1 1331.8,545.2 1333.1,544.2 1334.4,543.3 1335.6,542.4 1336.9,541.5 1338.1,540.7 1339.4,539.8 1340.6,538.9 1341.8,538.1 1343.0,537.2 1344.2,536.4 1345.4,535.5 1346.5,534.7 1347.7,533.9 1348.8,533.1 1350.0,532.3 1351.1,531.5 1352.2,530.7 1353.3,529.9 1354.4,529.1 1355.5,528.4 1356.6,527.6 1357.7,526.8 1359.1,525.8 1360.5,524.9 1361.9,523.9 1363.2,522.9 1364.6,522.0 1365.9,521.0 1367.2,520.1 1368.6,519.2 1369.9,518.3 1371.1,517.4 1372.4,516.5 1373.7,515.6 1374.9,514.7 1376.2,513.9 1377.4,513.0 1378.6,512.2 1379.8,511.4 1381.0,510.5 1382.2,509.7 1383.4,508.9 1384.5,508.1 1385.7,507.3 1386.8,506.5 1387.9,505.8 1389.1,505.0 1390.2,504.2 1391.3,503.5 1392.4,502.7 1393.5,502.0 1394.8,501.1 1396.1,500.2 1397.4,499.3 1398.7,498.4 1400.0,497.5 1401.3,496.7 1402.6,495.8 1403.8,495.0 1405.1,494.1 1406.3,493.3 1407.5,492.5 1408.7,491.7 1409.9,490.9 1411.1,490.1 1412.3,489.3 1413.4,488.6 1414.6,487.8 1415.7,487.0 1416.8,486.3 1418.0,485.6 1419.1,484.8 1420.2,484.1 1421.3,483.4 1422.6,482.5 1423.9,481.7 1425.1,480.9 1426.4,480.0 1427.6,479.2 1428.9,478.4 1430.1,477.6 1431.3,476.8 1432.5,476.1 1433.7,475.3 1434.9,474.5 1436.1,473.8 1437.2,473.0 1438.4,472.3 1439.5,471.6 1440.6,470.9 1441.8,470.1 1442.9,469.4 1444.0,468.7 1445.2,467.9 1446.5,467.1 1447.8,466.4 1449.0,465.6 1450.2,464.8 1451.4,464.0 1452.6,463.3 1453.8,462.5 1455.0,461.8 1456.2,461.1 1457.3,460.4 1458.5,459.7 1459.6,458.9 1460.7,458.3 1461.9,457.6 1463.0,456.9 1464.2,456.1 1465.5,455.3 1466.7,454.6 1467.9,453.8 1469.1,453.1 1470.3,452.4 1471.5,451.7 1472.7,450.9 1473.9,450.2 1475.0,449.5 1476.2,448.9 1477.3,448.2 1478.4,447.5 1479.5,446.8 1480.8,446.1 1482.0,445.4 1483.2,444.6 1484.4,443.9 1485.6,443.2 1486.8,442.5 1488.0,441.8 1489.2,441.1 1490.3,440.4 1491.5,439.8 1492.6,439.1 1493.7,438.5 1495.0,437.7 1496.2,437.0 1497.4,436.3 1498.6,435.6 1499.8,434.9 1501.0,434.2 1502.2,433.6 1503.3,432.9 1504.5,432.3 1505.6,431.6 1506.8,431.0 1508.0,430.3 1509.2,429.6 1510.4,428.9 1511.6,428.2 1512.8,427.5 1514.0,426.9 1515.1,426.2 1516.3,425.6 1517.5,424.9 1518.7,424.2 1519.9,423.6 1521.1,422.9 1522.3,422.2 1523.5,421.6 1524.7,420.9 1525.9,420.3 1527.0,419.6 1528.2,419.0 1529.4,418.3 1530.7,417.7 1531.9,417.0 1533.1,416.4 1534.3,415.7 1535.4,415.1 1536.6,414.5 1537.8,413.9 1538.9,413.2 1540.1,412.6 1541.3,411.9 1542.5,411.3 1543.7,410.7 1544.9,410.1 1546.1,409.4 1547.2,408.8 1548.5,408.2 1549.7,407.6 1550.9,406.9 1552.1,406.3 1553.3,405.7 1554.5,405.1 1555.6,404.5 1556.9,403.9 1558.1,403.2 1559.3,402.6 1560.5,402.0 1561.7,401.4 1562.8,400.8 1564.0,400.2 1565.2,399.6 1566.4,399.0 1567.6,398.4 1568.8,397.8 1570.0,397.2 1571.2,396.6 1572.4,396.0 1573.6,395.4 1574.8,394.8 1576.0,394.3 1577.2,393.7 1578.4,393.1 1579.6,392.5 1580.8,391.9 1582.0,391.3 1583.2,390.8 1584.4,390.2 1585.6,389.6 1586.9,389.0 1588.1,388.5 1589.3,387.9 1590.4,387.3 1591.6,386.8 1592.8,386.2 1594.1,385.6 1595.3,385.1 1596.4,384.5 1597.7,383.9 1598.9,383.4 1600.1,382.8 1601.3,382.3 1602.5,381.7 1603.7,381.2 1605.0,380.6 1606.2,380.1 1607.4,379.5 1608.6,379.0 1609.8,378.4 1611.0,377.9 1612.2,377.3 1613.4,376.8 1614.6,376.3 1615.8,375.7 1617.1,375.2 1618.3,374.7 1619.5,374.1 1620.7,373.6 1621.9,373.1 1623.1,372.6 1624.4,372.0 1625.6,371.5 1626.8,371.0 1628.0,370.5 1629.2,370.0 1630.4,369.4 1631.6,368.9 1632.9,368.4 1634.1,367.9 1635.3,367.4 1636.5,366.9 1637.8,366.4 1639.0,365.9 1640.2,365.4 1641.5,364.9 1642.7,364.4 1643.9,363.9 1645.1,363.4 1646.3,362.9 1647.6,362.4 1648.8,361.9 1650.0,361.4 1651.2,360.9 1652.5,360.5 1653.7,360.0 1654.9,359.5 1656.1,359.0 1657.4,358.5 1658.6,358.1 1659.8,357.6 1661.1,357.1 1662.3,356.7 1663.5,356.2 1664.8,355.7 1666.0,355.3 1667.2,354.8 1668.5,354.3 1669.7,353.9 1670.9,353.4 1672.2,353.0 1673.4,352.5 1674.6,352.1"/>
</g>
<g clip-path="url(#cb)" fill="none" stroke-linecap="round">
<path stroke="#000" stroke-width="11.5" d="M305.6,1636.1L371.5,1611.8M394.9,1601.5L424.8,1586.0M447.1,1573.6L462.4,1564.5M484.2,1551.1L491.6,1546.4M513.0,1532.4L515.4,1530.8M602.6,1469.3L671.9,1418.4M692.6,1403.3L724.4,1380.2M745.3,1365.3L761.6,1353.9M782.7,1339.3L790.5,1334.0M811.7,1319.6L814.1,1318.0"/>
<polyline stroke="none" marker-start="url(#mck)" marker-mid="url(#mck)" marker-end="url(#mck)" points="293.6,1640.5 383.5,1607.4 436.1,1580.1 473.4,1558.0 502.4,1539.5 526.0,1523.7 546.0,1509.9 563.4,1497.7 578.6,1486.8 592.3,1476.9 682.2,1410.8 734.8,1372.7 772.1,1346.6 801.1,1326.8 824.7,1310.8 844.7,1297.4 862.1,1285.9 877.3,1275.7 891.0,1266.6 903.4,1258.3 914.7,1250.8 925.0,1243.8 934.6,1237.3 943.6,1231.3 952.0,1225.6 959.8,1220.2 967.2,1215.1 974.3,1210.3 980.9,1205.7 987.2,1201.3 993.3,1197.1 999.0,1193.0 1004.6,1189.2 1009.9,1185.4 1015.0,1181.8 1019.8,1178.3 1024.6,1174.9 1029.1,1171.6 1033.5,1168.4 1037.8,1165.3 1041.9,1162.3 1045.9,1159.4 1049.8,1156.5 1053.5,1153.7 1057.2,1151.0 1060.7,1148.4 1064.2,1145.8 1067.6,1143.2 1070.8,1140.8 1074.0,1138.4 1077.2,1136.0 1080.2,1133.7 1083.2,1131.4 1086.1,1129.2 1089.0,1127.1 1091.8,1125.0 1094.5,1122.9 1097.2,1120.9 1099.8,1118.9 1102.4,1116.9 1104.9,1115.0 1107.3,1113.2 1109.8,1111.3 1112.1,1109.6 1114.5,1107.8 1116.8,1106.1 1119.0,1104.4 1121.3,1102.7 1123.4,1101.1 1125.6,1099.5 1127.7,1097.9 1129.8,1096.4 1131.8,1094.8 1133.8,1093.4 1135.8,1091.9 1137.7,1090.4 1141.6,1087.6 1145.3,1084.9 1148.9,1082.3 1152.4,1079.8 1155.8,1077.3 1159.1,1074.9 1162.4,1072.6 1165.5,1070.4 1168.6,1068.2 1171.6,1066.1 1174.6,1064.1 1177.5,1062.1 1180.3,1060.2 1183.0,1058.3 1185.7,1056.5 1188.4,1054.7 1191.0,1053.0 1193.5,1051.3 1196.0,1049.7 1198.5,1048.1 1200.9,1046.6 1203.2,1045.0 1205.6,1043.6 1207.8,1042.2 1210.1,1040.8 1212.3,1039.4 1214.4,1038.1 1216.6,1036.8 1218.6,1035.5 1221.7,1033.7 1224.7,1032.0 1227.7,1030.3 1230.5,1028.6 1233.3,1027.1 1236.1,1025.6 1238.8,1024.1 1241.4,1022.7 1244.0,1021.3 1246.6,1020.0 1249.0,1018.8 1251.5,1017.5 1253.9,1016.4 1256.2,1015.2 1258.5,1014.1 1260.8,1013.0 1263.0,1012.0 1265.2,1011.0 1268.1,1009.7 1270.9,1008.5 1273.6,1007.3 1276.3,1006.1 1279.0,1005.0 1281.5,1004.0 1284.1,1003.0 1286.6,1002.0 1289.0,1001.0 1291.4,1000.1 1293.7,999.3 1296.0,998.4 1298.3,997.6 1301.1,996.6 1303.8,995.7 1306.5,994.8 1309.1,993.9 1311.6,993.1 1314.2,992.3 1316.6,991.5 1319.0,990.8 1321.4,990.1 1323.7,989.4 1326.5,988.6 1329.2,987.9 1331.8,987.1 1334.4,986.5 1336.9,985.8 1339.4,985.2 1341.8,984.6 1344.2,984.0 1346.5,983.5 1349.2,982.9 1351.8,982.3 1354.4,981.7 1356.9,981.2 1359.4,980.7 1361.9,980.2 1364.2,979.8 1366.9,979.3 1369.5,978.8 1372.1,978.4 1374.6,977.9 1377.1,977.5 1379.5,977.2 1381.9,976.8 1384.5,976.4 1387.1,976.1 1389.6,975.7 1392.1,975.4 1394.5,975.1 1396.9,974.8 1399.5,974.5 1402.1,974.2 1404.6,974.0 1407.0,973.7 1409.4,973.5 1412.0,973.3 1414.6,973.0 1417.1,972.8 1419.5,972.6 1421.9,972.4 1424.5,972.3 1427.0,972.1 1429.5,971.9 1431.9,971.8 1434.5,971.6 1437.0,971.5 1439.5,971.4 1441.9,971.2 1444.5,971.1 1447.0,971.0 1449.5,970.9 1451.9,970.8 1454.5,970.8 1457.0,970.7 1459.5,970.6 1461.9,970.5 1464.4,970.5 1466.9,970.4 1469.3,970.4 1471.8,970.3 1474.3,970.3 1476.7,970.3 1479.3,970.2 1481.7,970.2 1484.2,970.2 1486.7,970.2 1489.2,970.1 1491.6,970.1 1494.1,970.1 1496.6,970.1 1499.0,970.1 1501.5,970.1 1503.9,970.1 1506.4,970.1 1508.9,970.1 1511.3,970.1 1513.8,970.1 1516.2,970.1 1518.7,970.1 1521.1,970.1 1523.6,970.1 1526.1,970.2 1528.5,970.2 1530.9,970.2 1533.3,970.2 1535.8,970.2 1538.2,970.2 1540.7,970.2 1543.1,970.2 1545.5,970.2 1547.9,970.2 1550.3,970.2 1552.8,970.1 1555.2,970.1 1557.7,970.1 1560.1,970.1 1562.5,970.1 1565.0,970.0 1567.4,970.0 1569.9,970.0 1572.3,969.9 1574.7,969.9 1577.1,969.8 1579.6,969.8 1582.0,969.7 1584.5,969.7 1586.9,969.6 1589.3,969.5 1591.7,969.4 1594.2,969.4 1596.6,969.3 1599.0,969.2 1601.4,969.0 1603.8,968.9 1606.3,968.8 1608.7,968.7 1611.1,968.5 1613.6,968.4 1616.0,968.2 1618.4,968.1 1620.8,967.9 1623.2,967.7 1625.6,967.5 1628.0,967.3 1630.4,967.1 1632.8,966.9 1635.3,966.7 1637.7,966.4 1640.1,966.2 1642.5,965.9 1644.8,965.7 1647.2,965.4 1649.6,965.1 1650.9,965.0"/>
<path stroke="#000" stroke-width="9.7" d="M306.4,1682.5L370.7,1678.6M396.2,1676.4L423.4,1673.4M448.8,1670.0L460.8,1668.2M486.0,1663.9L489.8,1663.2M604.2,1633.0L670.3,1607.5M693.7,1597.1L723.4,1582.2M745.9,1570.1L761.0,1561.6M783.1,1548.6L790.2,1544.3M811.9,1530.8L813.9,1529.4"/>
<polyline stroke="none" marker-start="url(#mtk)" marker-mid="url(#mtk)" marker-end="url(#mtk)" points="293.6,1683.3 383.5,1677.9 436.1,1672.0 473.4,1666.3 502.4,1660.9 526.0,1655.7 546.0,1650.9 563.4,1646.2 578.6,1641.8 592.3,1637.6 682.2,1602.8 734.8,1576.4 772.1,1555.3 801.1,1537.6 824.7,1522.6 844.7,1509.4 862.1,1497.7 877.3,1487.2 891.0,1477.6 903.4,1468.9 914.7,1460.8 925.0,1453.4 934.6,1446.4 943.6,1439.9 952.0,1433.8 959.8,1428.0 967.2,1422.6 974.3,1417.4 980.9,1412.5 987.2,1407.8 993.3,1403.4 999.0,1399.1 1004.6,1395.0 1009.9,1391.1 1015.0,1387.3 1019.8,1383.7 1024.6,1380.2 1029.1,1376.8 1033.5,1373.6 1037.8,1370.4 1041.9,1367.4 1045.9,1364.4 1049.8,1361.6 1053.5,1358.8 1057.2,1356.1 1060.7,1353.5 1064.2,1351.0 1067.6,1348.5 1070.8,1346.1 1074.0,1343.7 1077.2,1341.4 1080.2,1339.2 1083.2,1337.0 1086.1,1334.8 1089.0,1332.7 1091.8,1330.7 1094.5,1328.7 1097.2,1326.7 1099.8,1324.8 1102.4,1322.9 1104.9,1321.1 1107.3,1319.3 1109.8,1317.5 1112.1,1315.8 1114.5,1314.1 1116.8,1312.4 1119.0,1310.8 1121.3,1309.1 1123.4,1307.5 1125.6,1306.0 1127.7,1304.4 1129.8,1302.9 1131.8,1301.5 1133.8,1300.0 1135.8,1298.5 1137.7,1297.1 1139.7,1295.7 1141.6,1294.4 1143.4,1293.0 1145.3,1291.7 1147.1,1290.4 1148.9,1289.1 1150.6,1287.8 1152.4,1286.5 1154.1,1285.3 1155.8,1284.0 1157.5,1282.8 1159.1,1281.6 1160.8,1280.5 1162.4,1279.3 1164.0,1278.1 1165.5,1277.0 1167.1,1275.9 1168.6,1274.8 1170.1,1273.7 1171.6,1272.6 1173.1,1271.5 1174.6,1270.5 1176.0,1269.4 1177.5,1268.4 1178.9,1267.4 1180.3,1266.4 1181.7,1265.4 1183.0,1264.4 1184.4,1263.4 1185.7,1262.4 1187.1,1261.5 1188.4,1260.5 1189.7,1259.6 1191.0,1258.7 1192.3,1257.7 1193.5,1256.8 1194.8,1255.9 1196.0,1255.0 1197.3,1254.2 1198.5,1253.3 1199.7,1252.4 1200.9,1251.6 1202.1,1250.7 1203.2,1249.9 1204.4,1249.0 1205.6,1248.2 1206.7,1247.4 1207.8,1246.6 1209.0,1245.8 1210.1,1245.0 1211.2,1244.2 1212.3,1243.4 1213.4,1242.6 1214.4,1241.9 1215.5,1241.1 1216.6,1240.3 1218.6,1238.8 1220.7,1237.4 1222.7,1235.9 1224.7,1234.5 1226.7,1233.1 1228.6,1231.7 1230.5,1230.4 1232.4,1229.0 1234.3,1227.7 1236.1,1226.4 1237.9,1225.1 1239.7,1223.9 1241.4,1222.6 1243.2,1221.4 1244.9,1220.2 1246.6,1219.0 1248.2,1217.8 1249.9,1216.7 1251.5,1215.5 1253.1,1214.4 1254.7,1213.3 1256.2,1212.1 1257.8,1211.1 1259.3,1210.0 1260.8,1208.9 1262.3,1207.9 1263.8,1206.8 1265.2,1205.8 1266.7,1204.8 1268.1,1203.8 1269.5,1202.8 1270.9,1201.8 1272.3,1200.8 1273.6,1199.9 1275.0,1198.9 1276.3,1198.0 1277.7,1197.0 1279.0,1196.1 1280.3,1195.2 1281.5,1194.3 1282.8,1193.4 1284.1,1192.5 1285.3,1191.7 1286.6,1190.8 1287.8,1189.9 1289.0,1189.1 1290.2,1188.2 1291.4,1187.4 1292.6,1186.6 1293.7,1185.8 1294.9,1185.0 1296.0,1184.2 1297.2,1183.4 1298.3,1182.6 1299.4,1181.8 1300.5,1181.0 1301.6,1180.2 1302.7,1179.5 1303.8,1178.7 1304.9,1178.0 1306.5,1176.9 1308.0,1175.8 1309.6,1174.7 1311.1,1173.6 1312.7,1172.6 1314.2,1171.5 1315.6,1170.5 1317.1,1169.5 1318.5,1168.5 1320.0,1167.5 1321.4,1166.5 1322.8,1165.5 1324.2,1164.6 1325.6,1163.6 1326.9,1162.7 1328.3,1161.7 1329.6,1160.8 1330.9,1159.9 1332.2,1159.0 1333.5,1158.1 1334.8,1157.2 1336.1,1156.3 1337.3,1155.5 1338.5,1154.6 1339.8,1153.8 1341.0,1152.9 1342.2,1152.1 1343.4,1151.3 1344.6,1150.5 1345.8,1149.7 1346.9,1148.9 1348.1,1148.1 1349.2,1147.3 1350.3,1146.5 1351.5,1145.7 1352.6,1145.0 1353.7,1144.2 1354.8,1143.5 1355.9,1142.7 1356.9,1142.0 1358.4,1141.0 1359.8,1140.0 1361.2,1139.1 1362.5,1138.1 1363.9,1137.2 1365.2,1136.3 1366.6,1135.4 1367.9,1134.5 1369.2,1133.6 1370.5,1132.7 1371.8,1131.8 1373.1,1130.9 1374.3,1130.1 1375.6,1129.2 1376.8,1128.4 1378.0,1127.6 1379.2,1126.7 1380.4,1125.9 1381.6,1125.1 1382.8,1124.3 1383.9,1123.5 1385.1,1122.7 1386.2,1122.0 1387.4,1121.2 1388.5,1120.4 1389.6,1119.7 1390.7,1118.9 1391.8,1118.2 1392.9,1117.5 1394.0,1116.7 1395.3,1115.8 1396.7,1114.9 1398.0,1114.1 1399.3,1113.2 1400.5,1112.3 1401.8,1111.5 1403.1,1110.7 1404.3,1109.8 1405.6,1109.0 1406.8,1108.2 1408.0,1107.4 1409.2,1106.6 1410.4,1105.8 1411.6,1105.0 1412.7,1104.3 1413.9,1103.5 1415.0,1102.7 1416.2,1102.0 1417.3,1101.3 1418.4,1100.5 1419.5,1099.8 1420.6,1099.1 1421.9,1098.2 1423.2,1097.4 1424.5,1096.6 1425.8,1095.8 1427.0,1094.9 1428.3,1094.1 1429.5,1093.4 1430.7,1092.6 1431.9,1091.8 1433.1,1091.0 1434.3,1090.3 1435.5,1089.5 1436.6,1088.8 1437.8,1088.1 1438.9,1087.4 1440.1,1086.6 1441.2,1085.9 1442.3,1085.2 1443.4,1084.6 1444.7,1083.8 1446.0,1083.0 1447.2,1082.2 1448.5,1081.5 1449.7,1080.7 1450.9,1080.0 1452.1,1079.2 1453.3,1078.5 1454.5,1077.8 1455.7,1077.1 1456.8,1076.4 1458.0,1075.7 1459.1,1075.0 1460.3,1074.3 1461.4,1073.7 1462.7,1072.9 1463.9,1072.2 1465.2,1071.4 1466.4,1070.7 1467.6,1070.0 1468.8,1069.3 1470.0,1068.6 1471.2,1067.9 1472.4,1067.3 1473.6,1066.6 1474.7,1065.9 1475.9,1065.3 1477.0,1064.7 1478.3,1064.0 1479.5,1063.3 1480.8,1062.6 1482.0,1061.9 1483.2,1061.2 1484.4,1060.6 1485.6,1059.9 1486.8,1059.3 1488.0,1058.6 1489.2,1058.0 1490.3,1057.4 1491.6,1056.7 1492.9,1056.1 1494.1,1055.4 1495.3,1054.8 1496.6,1054.1 1497.8,1053.5 1499.0,1052.9 1500.2,1052.3 1501.4,1051.7 1502.5,1051.1 1503.8,1050.5 1505.1,1049.9 1506.3,1049.2 1507.5,1048.6 1508.8,1048.0 1510.0,1047.5 1511.2,1046.9 1512.4,1046.3 1513.6,1045.8 1514.8,1045.2 1516.1,1044.6 1517.3,1044.0 1518.6,1043.4 1519.8,1042.9 1521.0,1042.3 1522.2,1041.8 1523.4,1041.3 1524.7,1040.7 1526.0,1040.1 1527.2,1039.6 1528.5,1039.1 1529.7,1038.5 1530.9,1038.0 1532.1,1037.5 1533.4,1037.0 1534.7,1036.5 1536.0,1035.9 1537.2,1035.4 1538.5,1035.0 1539.7,1034.5 1540.9,1034.0 1542.2,1033.5 1543.5,1033.0 1544.7,1032.5 1546.0,1032.1 1547.2,1031.6 1548.5,1031.2 1549.8,1030.7 1551.1,1030.2 1552.3,1029.8 1553.6,1029.4 1554.8,1028.9 1556.1,1028.5 1557.4,1028.1 1558.7,1027.6 1560.0,1027.2 1561.2,1026.8 1562.5,1026.4 1563.8,1026.0 1565.1,1025.6 1566.4,1025.2 1567.6,1024.9 1568.9,1024.5 1570.2,1024.1 1571.5,1023.8 1572.8,1023.4 1574.1,1023.1 1575.4,1022.7 1576.7,1022.4 1578.0,1022.0 1579.3,1021.7 1580.6,1021.4 1581.8,1021.1 1583.2,1020.8 1584.5,1020.5 1585.8,1020.2 1587.0,1019.9 1588.4,1019.6 1589.7,1019.4 1591.0,1019.1 1592.3,1018.8 1593.6,1018.6 1594.9,1018.3 1596.2,1018.1 1597.5,1017.9 1598.9,1017.7 1600.2,1017.4 1601.5,1017.2 1602.8,1017.0 1604.1,1016.8 1605.4,1016.7 1606.7,1016.5 1608.0,1016.3 1609.4,1016.1 1610.7,1016.0 1612.0,1015.8 1613.3,1015.7 1614.6,1015.6 1615.9,1015.5 1617.2,1015.3 1618.6,1015.2 1619.9,1015.1 1621.2,1015.0 1622.5,1015.0 1623.9,1014.9 1625.2,1014.8 1626.5,1014.8 1627.8,1014.7 1629.1,1014.7 1630.4,1014.7 1631.8,1014.6 1633.1,1014.6 1634.4,1014.6 1635.8,1014.6 1637.1,1014.6 1638.4,1014.6 1639.7,1014.7 1641.0,1014.7 1642.3,1014.8 1643.6,1014.8 1645.0,1014.9 1646.3,1015.0 1647.6,1015.0 1648.9,1015.1 1650.2,1015.2 1650.9,1015.3"/>
<path stroke="#000" stroke-width="8" d="M306.4,1689.3L370.7,1688.1M396.3,1687.8L423.3,1687.4M448.9,1687.1L460.6,1686.9M486.2,1686.5L489.6,1686.5M605.1,1682.6L669.4,1678.5M694.9,1676.3L722.1,1673.5M747.5,1670.4L759.5,1668.8M784.8,1664.8L788.5,1664.2"/>
<polyline stroke="none" marker-start="url(#msk)" marker-mid="url(#msk)" marker-end="url(#msk)" points="293.6,1689.5 383.5,1687.9 436.1,1687.3 473.4,1686.8 502.4,1686.3 526.0,1685.7 546.0,1685.2 563.4,1684.6 578.6,1684.0 592.3,1683.4 682.2,1677.6 734.8,1672.2 772.1,1667.0 801.1,1662.0 824.7,1657.3 844.7,1652.7 862.1,1648.3 877.3,1644.0 891.0,1639.9 903.4,1636.0 914.7,1632.1 925.0,1628.4 934.6,1624.8 943.6,1621.3 952.0,1617.9 959.8,1614.5 967.2,1611.3 974.3,1608.1 980.9,1605.0 987.2,1601.9 993.3,1599.0 999.0,1596.0 1004.6,1593.2 1009.9,1590.4 1015.0,1587.7 1019.8,1585.0 1024.6,1582.4 1029.1,1579.9 1033.5,1577.4 1037.8,1574.9 1041.9,1572.5 1045.9,1570.2 1049.8,1567.9 1053.5,1565.6 1057.2,1563.4 1060.7,1561.2 1064.2,1559.1 1067.6,1557.0 1070.8,1554.9 1074.0,1552.9 1077.2,1550.9 1080.2,1548.9 1083.2,1547.0 1086.1,1545.1 1089.0,1543.2 1091.8,1541.4 1094.5,1539.6 1097.2,1537.8 1099.8,1536.1 1102.4,1534.4 1104.9,1532.7 1107.3,1531.0 1109.8,1529.4 1112.1,1527.7 1114.5,1526.1 1116.8,1524.6 1119.0,1523.0 1121.3,1521.5 1123.4,1519.9 1125.6,1518.5 1127.7,1517.0 1129.8,1515.5 1131.8,1514.1 1133.8,1512.7 1135.8,1511.3 1137.7,1509.9 1139.7,1508.5 1141.6,1507.2 1143.4,1505.8 1145.3,1504.5 1147.1,1503.2 1148.9,1501.9 1150.6,1500.6 1152.4,1499.4 1154.1,1498.1 1155.8,1496.9 1157.5,1495.7 1159.1,1494.5 1160.8,1493.3 1162.4,1492.1 1164.0,1490.9 1165.5,1489.8 1167.1,1488.6 1168.6,1487.5 1170.1,1486.4 1171.6,1485.3 1173.1,1484.2 1174.6,1483.1 1176.0,1482.0 1177.5,1481.0 1178.9,1479.9 1180.3,1478.9 1181.7,1477.8 1183.0,1476.8 1184.4,1475.8 1185.7,1474.8 1187.1,1473.8 1188.4,1472.8 1189.7,1471.8 1191.0,1470.8 1192.3,1469.9 1193.5,1468.9 1194.8,1468.0 1196.0,1467.0 1197.3,1466.1 1198.5,1465.2 1199.7,1464.3 1200.9,1463.4 1202.1,1462.5 1203.2,1461.6 1204.4,1460.7 1205.6,1459.8 1206.7,1459.0 1207.8,1458.1 1209.0,1457.2 1210.1,1456.4 1211.2,1455.5 1212.3,1454.7 1213.4,1453.9 1214.4,1453.1 1215.5,1452.2 1216.6,1451.4 1217.6,1450.6 1218.6,1449.8 1219.7,1449.0 1221.7,1447.5 1223.7,1445.9 1225.7,1444.4 1227.7,1442.9 1229.6,1441.4 1231.5,1440.0 1233.3,1438.5 1235.2,1437.1 1237.0,1435.7 1238.8,1434.3 1240.6,1432.9 1242.3,1431.6 1244.0,1430.3 1245.7,1428.9 1247.4,1427.6 1249.0,1426.4 1250.7,1425.1 1252.3,1423.8 1253.9,1422.6 1255.4,1421.4 1257.0,1420.2 1258.5,1419.0 1260.1,1417.8 1261.6,1416.6 1263.0,1415.5 1264.5,1414.3 1265.9,1413.2 1267.4,1412.1 1268.8,1411.0 1270.2,1409.9 1271.6,1408.8 1273.0,1407.7 1274.3,1406.7 1275.7,1405.6 1277.0,1404.6 1278.3,1403.6 1279.6,1402.6 1280.9,1401.6 1282.2,1400.6 1283.5,1399.6 1284.7,1398.6 1285.9,1397.6 1287.2,1396.7 1288.4,1395.7 1289.6,1394.8 1290.8,1393.8 1292.0,1392.9 1293.2,1392.0 1294.3,1391.1 1295.5,1390.2 1296.6,1389.3 1297.7,1388.4 1298.9,1387.6 1300.0,1386.7 1301.1,1385.8 1302.2,1385.0 1303.3,1384.1 1304.3,1383.3 1305.4,1382.5 1306.5,1381.7 1307.5,1380.8 1308.6,1380.0 1309.6,1379.2 1311.1,1378.0 1312.7,1376.9 1314.2,1375.7 1315.6,1374.5 1317.1,1373.4 1318.5,1372.3 1320.0,1371.2 1321.4,1370.1 1322.8,1369.0 1324.2,1367.9 1325.6,1366.9 1326.9,1365.8 1328.3,1364.8 1329.6,1363.7 1330.9,1362.7 1332.2,1361.7 1333.5,1360.7 1334.8,1359.7 1336.1,1358.8 1337.3,1357.8 1338.5,1356.9 1339.8,1355.9 1341.0,1355.0 1342.2,1354.1 1343.4,1353.1 1344.6,1352.2 1345.8,1351.3 1346.9,1350.4 1348.1,1349.6 1349.2,1348.7 1350.3,1347.8 1351.5,1347.0 1352.6,1346.1 1353.7,1345.3 1354.8,1344.5 1355.9,1343.6 1356.9,1342.8 1358.0,1342.0 1359.1,1341.2 1360.1,1340.4 1361.2,1339.6 1362.5,1338.6 1363.9,1337.5 1365.2,1336.5 1366.6,1335.5 1367.9,1334.5 1369.2,1333.5 1370.5,1332.6 1371.8,1331.6 1373.1,1330.7 1374.3,1329.7 1375.6,1328.8 1376.8,1327.9 1378.0,1326.9 1379.2,1326.0 1380.4,1325.2 1381.6,1324.3 1382.8,1323.4 1383.9,1322.5 1385.1,1321.7 1386.2,1320.8 1387.4,1320.0 1388.5,1319.1 1389.6,1318.3 1390.7,1317.5 1391.8,1316.7 1392.9,1315.9 1394.0,1315.1 1395.1,1314.3 1396.1,1313.5 1397.2,1312.8 1398.5,1311.8 1399.8,1310.9 1401.1,1309.9 1402.3,1309.0 1403.6,1308.1 1404.8,1307.2 1406.0,1306.3 1407.3,1305.4 1408.5,1304.5 1409.7,1303.7 1410.8,1302.8 1412.0,1302.0 1413.2,1301.1 1414.3,1300.3 1415.5,1299.5 1416.6,1298.6 1417.7,1297.8 1418.8,1297.0 1420.0,1296.2 1421.0,1295.5 1422.1,1294.7 1423.2,1293.9 1424.3,1293.1 1425.3,1292.4 1426.6,1291.5 1427.8,1290.6 1429.1,1289.7 1430.3,1288.8 1431.5,1288.0 1432.7,1287.1 1433.9,1286.3 1435.1,1285.4 1436.3,1284.6 1437.4,1283.8 1438.6,1283.0 1439.7,1282.2 1440.8,1281.4 1441.9,1280.6 1443.1,1279.8 1444.2,1279.0 1445.2,1278.3 1446.3,1277.5 1447.4,1276.8 1448.6,1275.9 1449.9,1275.0 1451.1,1274.2 1452.3,1273.3 1453.5,1272.5 1454.7,1271.7 1455.8,1270.8 1457.0,1270.0 1458.1,1269.2 1459.3,1268.4 1460.4,1267.6 1461.5,1266.9 1462.7,1266.1 1463.8,1265.3 1464.9,1264.6 1465.9,1263.8 1467.0,1263.0 1468.2,1262.2 1469.4,1261.4 1470.6,1260.5 1471.8,1259.7 1473.0,1258.9 1474.2,1258.1 1475.3,1257.3 1476.5,1256.5 1477.6,1255.7 1478.7,1255.0 1479.8,1254.2 1480.9,1253.4 1482.0,1252.7 1483.1,1251.9 1484.2,1251.2 1485.4,1250.4 1486.6,1249.5 1487.7,1248.7 1488.9,1247.9 1490.1,1247.1 1491.2,1246.3 1492.4,1245.6 1493.5,1244.8 1494.6,1244.0 1495.7,1243.3 1496.8,1242.5 1497.9,1241.8 1499.0,1241.0 1500.2,1240.2 1501.4,1239.4 1502.5,1238.6 1503.7,1237.8 1504.8,1237.0 1506.0,1236.3 1507.1,1235.5 1508.2,1234.7 1509.3,1234.0 1510.4,1233.2 1511.5,1232.5 1512.6,1231.7 1513.8,1230.9 1514.9,1230.2 1516.1,1229.4 1517.2,1228.6 1518.4,1227.8 1519.5,1227.0 1520.6,1226.3 1521.7,1225.5 1522.8,1224.8 1523.9,1224.1 1525.0,1223.3 1526.2,1222.5 1527.3,1221.7 1528.5,1221.0 1529.6,1220.2 1530.7,1219.4 1531.9,1218.7 1533.0,1217.9 1534.1,1217.2 1535.2,1216.4 1536.2,1215.7 1537.4,1214.9 1538.6,1214.1 1539.7,1213.4 1540.8,1212.6 1541.9,1211.8 1543.1,1211.1 1544.2,1210.3 1545.3,1209.6 1546.3,1208.9 1547.5,1208.1 1548.6,1207.3 1549.8,1206.6 1550.9,1205.8 1552.0,1205.0 1553.1,1204.3 1554.2,1203.5 1555.3,1202.8 1556.4,1202.1 1557.5,1201.3 1558.7,1200.5 1559.8,1199.8 1560.9,1199.0 1562.0,1198.3 1563.1,1197.5 1564.2,1196.8 1565.3,1196.1 1566.4,1195.3 1567.6,1194.5 1568.7,1193.8 1569.8,1193.0 1570.9,1192.3 1572.0,1191.5 1573.1,1190.8 1574.2,1190.0 1575.4,1189.3 1576.5,1188.5 1577.6,1187.8 1578.7,1187.0 1579.8,1186.3 1580.9,1185.5 1582.0,1184.8 1583.2,1184.0 1584.3,1183.2 1585.4,1182.5 1586.5,1181.7 1587.6,1181.0 1588.7,1180.3 1589.8,1179.5 1590.9,1178.7 1592.0,1178.0 1593.1,1177.2 1594.2,1176.5 1595.3,1175.8 1596.4,1175.0 1597.5,1174.3 1598.6,1173.5 1599.7,1172.8 1600.8,1172.0 1601.9,1171.3 1603.0,1170.6 1604.1,1169.8 1605.2,1169.0 1606.3,1168.3 1607.4,1167.6 1608.5,1166.8 1609.6,1166.0 1610.7,1165.3 1611.9,1164.5 1612.9,1163.8 1614.0,1163.0 1615.1,1162.3 1616.2,1161.6 1617.3,1160.8 1618.4,1160.0 1619.5,1159.3 1620.6,1158.6 1621.7,1157.8 1622.8,1157.0 1623.9,1156.3 1625.0,1155.5 1626.1,1154.8 1627.2,1154.0 1628.3,1153.3 1629.4,1152.5 1630.5,1151.8 1631.6,1151.0 1632.7,1150.3 1633.8,1149.5 1634.9,1148.8 1636.0,1148.0 1637.1,1147.3 1638.2,1146.5 1639.3,1145.8 1640.4,1145.0 1641.5,1144.3 1642.5,1143.5 1643.6,1142.8 1644.7,1142.0 1645.8,1141.3 1646.9,1140.5 1648.0,1139.8 1649.1,1139.0 1650.2,1138.3 1650.9,1137.7"/>
<path stroke="#f00" stroke-width="11.5" d="M305.5,1637.5L371.7,1610.7M395.0,1600.3L424.6,1586.0M447.4,1574.4L462.1,1566.6M484.6,1554.3L491.2,1550.6M513.4,1537.9L515.0,1537.0M603.0,1482.7L671.5,1437.3M692.7,1423.0L724.3,1401.1M745.3,1386.4L761.7,1374.8M782.6,1360.0L790.7,1354.2M811.5,1339.4L814.3,1337.3"/>
<polyline stroke="none" marker-start="url(#mcr)" marker-mid="url(#mcr)" marker-end="url(#mcr)" points="293.6,1642.3 383.5,1605.9 436.1,1580.4 473.4,1560.6 502.4,1544.3 526.0,1530.6 546.0,1518.6 563.4,1508.0 578.6,1498.5 592.3,1489.8 682.2,1430.3 734.8,1393.8 772.1,1367.5 801.1,1346.8 824.7,1329.9 844.7,1315.5 862.1,1303.1 877.3,1292.1 891.0,1282.3 903.4,1273.4 914.7,1265.3 925.0,1257.9 934.6,1251.1 943.6,1244.7 952.0,1238.8 959.8,1233.2 967.2,1228.0 974.3,1223.1 980.9,1218.4 987.2,1214.0 993.3,1209.8 999.0,1205.8 1004.6,1202.0 1009.9,1198.3 1015.0,1194.8 1019.8,1191.4 1024.6,1188.2 1029.1,1185.1 1033.5,1182.1 1037.8,1179.2 1041.9,1176.4 1045.9,1173.7 1049.8,1171.1 1053.5,1168.5 1057.2,1166.1 1060.7,1163.7 1064.2,1161.4 1067.6,1159.1 1070.8,1156.9 1074.0,1154.8 1077.2,1152.7 1080.2,1150.7 1083.2,1148.7 1086.1,1146.8 1089.0,1144.9 1091.8,1143.0 1094.5,1141.2 1097.2,1139.4 1099.8,1137.7 1102.4,1136.0 1104.9,1134.3 1107.3,1132.7 1109.8,1131.1 1112.1,1129.5 1114.5,1128.0 1116.8,1126.4 1119.0,1124.9 1121.3,1123.5 1123.4,1122.0 1125.6,1120.6 1127.7,1119.2 1129.8,1117.8 1131.8,1116.4 1133.8,1115.1 1137.7,1112.5 1141.6,1109.9 1145.3,1107.4 1148.9,1105.0 1152.4,1102.6 1155.8,1100.3 1159.1,1098.1 1162.4,1095.9 1165.5,1093.7 1168.6,1091.6 1171.6,1089.5 1174.6,1087.5 1177.5,1085.5 1180.3,1083.6 1183.0,1081.6 1185.7,1079.8 1188.4,1077.9 1191.0,1076.1 1193.5,1074.3 1196.0,1072.6 1198.5,1070.8 1200.9,1069.2 1203.2,1067.5 1205.6,1065.9 1207.8,1064.3 1210.1,1062.8 1212.3,1061.3 1214.4,1059.8 1216.6,1058.4 1218.6,1057.0 1220.7,1055.6 1222.7,1054.3 1225.7,1052.4 1228.6,1050.6 1231.5,1048.8 1234.3,1047.2 1237.0,1045.6 1239.7,1044.1 1242.3,1042.6 1244.9,1041.2 1247.4,1039.9 1249.9,1038.7 1252.3,1037.5 1254.7,1036.4 1257.0,1035.3 1259.3,1034.3 1261.6,1033.3 1263.8,1032.4 1266.7,1031.2 1269.5,1030.1 1272.3,1029.0 1275.0,1028.0 1277.7,1027.0 1280.3,1026.1 1282.8,1025.3 1285.3,1024.5 1287.8,1023.7 1290.2,1023.0 1292.6,1022.3 1294.9,1021.6 1297.7,1020.8 1300.5,1020.0 1303.3,1019.3 1305.9,1018.6 1308.6,1018.0 1311.1,1017.4 1313.7,1016.8 1316.1,1016.2 1318.5,1015.7 1320.9,1015.2 1323.7,1014.6 1326.5,1014.1 1329.2,1013.5 1331.8,1013.0 1334.4,1012.5 1336.9,1012.1 1339.4,1011.6 1341.8,1011.2 1344.2,1010.8 1346.9,1010.4 1349.6,1010.0 1352.2,1009.6 1354.8,1009.2 1357.3,1008.8 1359.8,1008.5 1362.2,1008.2 1364.6,1007.8 1367.2,1007.5 1369.9,1007.2 1372.4,1006.9 1374.9,1006.6 1377.4,1006.3 1379.8,1006.1 1382.5,1005.8 1385.1,1005.5 1387.7,1005.3 1390.2,1005.0 1392.6,1004.8 1395.1,1004.6 1397.7,1004.4 1400.3,1004.2 1402.8,1004.0 1405.3,1003.8 1407.7,1003.7 1410.4,1003.5 1413.0,1003.3 1415.5,1003.2 1418.0,1003.0 1420.4,1002.9 1423.0,1002.8 1425.5,1002.6 1428.1,1002.5 1430.5,1002.4 1432.9,1002.3 1435.5,1002.2 1438.0,1002.1 1440.5,1002.0 1442.9,1001.9 1445.4,1001.8 1447.9,1001.8 1450.4,1001.7 1452.8,1001.6 1455.3,1001.6 1457.8,1001.5 1460.3,1001.5 1462.8,1001.4 1465.3,1001.4 1467.8,1001.3 1470.2,1001.3 1472.7,1001.2 1475.2,1001.2 1477.6,1001.2 1480.1,1001.1 1482.6,1001.1 1485.0,1001.1 1487.5,1001.1 1489.9,1001.0 1492.4,1001.0 1494.9,1001.0 1497.3,1001.0 1499.7,1001.0 1502.2,1000.9 1504.6,1000.9 1507.1,1000.9 1509.5,1000.9 1511.9,1000.9 1514.4,1000.9 1516.8,1000.9 1519.3,1000.8 1521.7,1000.8 1524.2,1000.8 1526.7,1000.8 1529.1,1000.8 1531.6,1000.8 1534.1,1000.7 1536.5,1000.7 1539.0,1000.7 1541.4,1000.7 1543.9,1000.6 1546.3,1000.6 1548.8,1000.6 1551.2,1000.6 1553.7,1000.5 1556.1,1000.5 1558.5,1000.5 1561.0,1000.4 1563.4,1000.4 1565.9,1000.3 1568.3,1000.3 1570.7,1000.2 1573.2,1000.1 1575.6,1000.1 1578.0,1000.0 1580.4,999.9 1582.8,999.9 1585.3,999.8 1587.7,999.7 1590.1,999.6 1592.6,999.5 1595.0,999.4 1597.4,999.3 1599.8,999.2 1602.3,999.1 1604.7,999.0 1607.1,998.8 1609.5,998.7 1612.0,998.6 1614.4,998.4 1616.8,998.3 1619.3,998.1 1621.7,997.9 1624.1,997.7 1626.6,997.6 1629.0,997.4 1631.4,997.2 1633.9,997.0 1636.3,996.8 1638.7,996.5 1641.1,996.3 1643.6,996.1 1646.0,995.8 1648.4,995.6 1650.8,995.3 1650.9,995.3"/>
<path stroke="#f00" stroke-width="9.7" d="M306.4,1682.7L370.7,1678.4M396.2,1676.1L423.4,1673.1M448.8,1669.8L460.8,1668.0M486.0,1663.8L489.8,1663.2M604.3,1633.8L670.3,1608.7M693.7,1598.4L723.4,1583.6M746.0,1571.6L761.0,1563.2M783.1,1550.3L790.1,1546.1M811.9,1532.7L813.9,1531.5"/>
<polyline stroke="none" marker-start="url(#mtr)" marker-mid="url(#mtr)" marker-end="url(#mtr)" points="293.6,1683.6 383.5,1677.5 436.1,1671.7 473.4,1666.1 502.4,1660.9 526.0,1655.9 546.0,1651.2 563.4,1646.7 578.6,1642.4 592.3,1638.3 682.2,1604.1 734.8,1577.9 772.1,1556.9 801.1,1539.5 824.7,1524.7 844.7,1511.9 862.1,1500.6 877.3,1490.5 891.0,1481.4 903.4,1473.1 914.7,1465.5 925.0,1458.6 934.6,1452.1 943.6,1446.1 952.0,1440.5 959.8,1435.2 967.2,1430.2 974.3,1425.6 980.9,1421.2 987.2,1417.0 993.3,1413.0 999.0,1409.2 1004.6,1405.6 1009.9,1402.2 1015.0,1398.9 1019.8,1395.7 1024.6,1392.7 1029.1,1389.8 1033.5,1387.0 1037.8,1384.4 1041.9,1381.8 1045.9,1379.3 1049.8,1376.9 1053.5,1374.5 1057.2,1372.3 1060.7,1370.1 1064.2,1367.9 1067.6,1365.8 1070.8,1363.8 1074.0,1361.8 1077.2,1359.9 1080.2,1358.0 1083.2,1356.2 1086.1,1354.4 1089.0,1352.6 1091.8,1350.9 1094.5,1349.2 1097.2,1347.5 1099.8,1345.9 1102.4,1344.3 1104.9,1342.7 1107.3,1341.1 1109.8,1339.6 1112.1,1338.1 1114.5,1336.6 1116.8,1335.2 1119.0,1333.7 1121.3,1332.3 1123.4,1330.9 1125.6,1329.5 1127.7,1328.2 1129.8,1326.8 1131.8,1325.5 1133.8,1324.2 1135.8,1322.9 1137.7,1321.6 1139.7,1320.3 1141.6,1319.1 1143.4,1317.9 1145.3,1316.6 1147.1,1315.4 1148.9,1314.2 1150.6,1313.0 1152.4,1311.8 1154.1,1310.7 1155.8,1309.5 1157.5,1308.4 1159.1,1307.2 1160.8,1306.1 1162.4,1305.0 1164.0,1303.9 1165.5,1302.8 1167.1,1301.7 1168.6,1300.6 1170.1,1299.6 1171.6,1298.5 1173.1,1297.4 1174.6,1296.4 1176.0,1295.4 1177.5,1294.3 1178.9,1293.3 1180.3,1292.3 1181.7,1291.3 1183.0,1290.3 1184.4,1289.3 1185.7,1288.3 1187.1,1287.3 1188.4,1286.3 1189.7,1285.4 1191.0,1284.4 1192.3,1283.4 1193.5,1282.5 1194.8,1281.5 1196.0,1280.6 1197.3,1279.7 1198.5,1278.7 1199.7,1277.8 1200.9,1276.9 1202.1,1276.0 1203.2,1275.1 1204.4,1274.2 1205.6,1273.3 1206.7,1272.4 1207.8,1271.5 1209.0,1270.6 1210.1,1269.8 1211.2,1268.9 1212.3,1268.0 1213.4,1267.2 1214.4,1266.3 1215.5,1265.5 1216.6,1264.7 1217.6,1263.8 1218.6,1263.0 1219.7,1262.2 1220.7,1261.4 1222.7,1259.8 1224.7,1258.2 1226.7,1256.6 1228.6,1255.1 1230.5,1253.6 1232.4,1252.1 1234.3,1250.6 1236.1,1249.1 1237.9,1247.7 1239.7,1246.3 1241.4,1244.9 1243.2,1243.5 1244.9,1242.1 1246.6,1240.8 1248.2,1239.5 1249.9,1238.2 1251.5,1236.9 1253.1,1235.6 1254.7,1234.3 1256.2,1233.1 1257.8,1231.9 1259.3,1230.7 1260.8,1229.5 1262.3,1228.3 1263.8,1227.2 1265.2,1226.0 1266.7,1224.9 1268.1,1223.8 1269.5,1222.7 1270.9,1221.6 1272.3,1220.6 1273.6,1219.5 1275.0,1218.5 1276.3,1217.5 1277.7,1216.5 1279.0,1215.5 1280.3,1214.5 1281.5,1213.5 1282.8,1212.6 1284.1,1211.6 1285.3,1210.7 1286.6,1209.8 1287.8,1208.9 1289.0,1208.0 1290.2,1207.1 1291.4,1206.2 1292.6,1205.4 1293.7,1204.5 1294.9,1203.7 1296.0,1202.8 1297.2,1202.0 1298.3,1201.2 1299.4,1200.4 1300.5,1199.6 1301.6,1198.8 1302.7,1198.0 1303.8,1197.3 1304.9,1196.5 1305.9,1195.8 1307.5,1194.6 1309.1,1193.5 1310.6,1192.5 1312.1,1191.4 1313.7,1190.4 1315.1,1189.3 1316.6,1188.3 1318.1,1187.3 1319.5,1186.4 1320.9,1185.4 1322.3,1184.4 1323.7,1183.5 1325.1,1182.6 1326.5,1181.7 1327.8,1180.8 1329.2,1179.9 1330.5,1179.0 1331.8,1178.1 1333.1,1177.3 1334.4,1176.4 1335.6,1175.6 1336.9,1174.8 1338.1,1173.9 1339.4,1173.1 1340.6,1172.3 1341.8,1171.5 1343.0,1170.8 1344.2,1170.0 1345.4,1169.2 1346.5,1168.5 1347.7,1167.7 1348.8,1167.0 1350.0,1166.3 1351.1,1165.5 1352.2,1164.8 1353.3,1164.1 1354.4,1163.4 1355.9,1162.5 1357.3,1161.6 1358.7,1160.6 1360.1,1159.7 1361.5,1158.9 1362.9,1158.0 1364.2,1157.1 1365.6,1156.3 1366.9,1155.4 1368.2,1154.6 1369.5,1153.7 1370.8,1152.9 1372.1,1152.1 1373.4,1151.3 1374.6,1150.5 1375.9,1149.7 1377.1,1148.9 1378.3,1148.1 1379.5,1147.3 1380.7,1146.6 1381.9,1145.8 1383.1,1145.1 1384.2,1144.3 1385.4,1143.6 1386.5,1142.8 1387.7,1142.1 1388.8,1141.4 1389.9,1140.7 1391.0,1140.0 1392.1,1139.3 1393.5,1138.4 1394.8,1137.5 1396.1,1136.7 1397.4,1135.9 1398.7,1135.0 1400.0,1134.2 1401.3,1133.4 1402.6,1132.6 1403.8,1131.8 1405.1,1131.0 1406.3,1130.2 1407.5,1129.4 1408.7,1128.7 1409.9,1127.9 1411.1,1127.2 1412.3,1126.4 1413.4,1125.7 1414.6,1124.9 1415.7,1124.2 1416.8,1123.5 1418.0,1122.8 1419.1,1122.1 1420.2,1121.4 1421.5,1120.6 1422.8,1119.8 1424.1,1119.0 1425.3,1118.2 1426.6,1117.4 1427.8,1116.6 1429.1,1115.8 1430.3,1115.1 1431.5,1114.3 1432.7,1113.6 1433.9,1112.8 1435.1,1112.1 1436.3,1111.4 1437.4,1110.7 1438.6,1110.0 1439.7,1109.3 1440.8,1108.6 1441.9,1107.9 1443.2,1107.1 1444.5,1106.3 1445.8,1105.5 1447.0,1104.8 1448.3,1104.0 1449.5,1103.3 1450.7,1102.6 1451.9,1101.8 1453.1,1101.1 1454.3,1100.4 1455.5,1099.7 1456.7,1099.0 1457.8,1098.3 1459.0,1097.7 1460.1,1097.0 1461.2,1096.3 1462.5,1095.6 1463.8,1094.9 1465.0,1094.1 1466.2,1093.4 1467.5,1092.7 1468.7,1092.0 1469.9,1091.3 1471.1,1090.7 1472.3,1090.0 1473.4,1089.3 1474.6,1088.7 1475.7,1088.0 1476.9,1087.4 1478.1,1086.7 1479.4,1086.0 1480.6,1085.3 1481.9,1084.6 1483.1,1083.9 1484.3,1083.3 1485.5,1082.6 1486.7,1082.0 1487.9,1081.3 1489.0,1080.7 1490.2,1080.1 1491.5,1079.4 1492.7,1078.8 1494.0,1078.1 1495.2,1077.5 1496.4,1076.8 1497.7,1076.2 1498.9,1075.6 1500.1,1075.0 1501.2,1074.4 1502.4,1073.8 1503.7,1073.1 1504.9,1072.5 1506.2,1071.9 1507.4,1071.2 1508.7,1070.6 1509.9,1070.1 1511.1,1069.5 1512.3,1068.9 1513.4,1068.3 1514.7,1067.7 1516.0,1067.1 1517.2,1066.5 1518.5,1065.9 1519.7,1065.4 1520.9,1064.8 1522.1,1064.3 1523.3,1063.7 1524.6,1063.1 1525.9,1062.6 1527.1,1062.0 1528.4,1061.5 1529.6,1060.9 1530.8,1060.4 1532.0,1059.9 1533.2,1059.4 1534.5,1058.8 1535.8,1058.3 1537.0,1057.8 1538.3,1057.3 1539.5,1056.8 1540.7,1056.3 1541.9,1055.8 1543.2,1055.3 1544.5,1054.8 1545.8,1054.3 1547.0,1053.8 1548.2,1053.3 1549.5,1052.9 1550.7,1052.4 1552.0,1051.9 1553.3,1051.5 1554.5,1051.0 1555.8,1050.6 1557.0,1050.2 1558.3,1049.7 1559.6,1049.3 1560.8,1048.8 1562.1,1048.4 1563.3,1048.0 1564.6,1047.6 1565.9,1047.2 1567.2,1046.8 1568.5,1046.4 1569.7,1046.0 1571.0,1045.6 1572.3,1045.2 1573.6,1044.8 1574.9,1044.5 1576.2,1044.1 1577.5,1043.8 1578.8,1043.4 1580.1,1043.1 1581.3,1042.7 1582.6,1042.4 1583.9,1042.1 1585.2,1041.8 1586.5,1041.4 1587.8,1041.1 1589.1,1040.8 1590.4,1040.5 1591.7,1040.3 1593.0,1040.0 1594.3,1039.7 1595.6,1039.4 1596.9,1039.2 1598.2,1038.9 1599.5,1038.7 1600.8,1038.4 1602.1,1038.2 1603.4,1038.0 1604.7,1037.8 1606.1,1037.6 1607.4,1037.4 1608.7,1037.2 1610.0,1037.0 1611.3,1036.8 1612.6,1036.6 1613.9,1036.5 1615.3,1036.3 1616.6,1036.2 1617.9,1036.0 1619.2,1035.9 1620.5,1035.8 1621.8,1035.7 1623.2,1035.5 1624.5,1035.4 1625.8,1035.4 1627.1,1035.3 1628.4,1035.2 1629.7,1035.1 1631.0,1035.1 1632.4,1035.0 1633.7,1035.0 1635.0,1035.0 1636.3,1034.9 1637.7,1034.9 1639.0,1034.9 1640.3,1034.9 1641.6,1034.9 1642.9,1035.0 1644.3,1035.0 1645.6,1035.0 1646.9,1035.1 1648.2,1035.1 1649.5,1035.2 1650.8,1035.3 1650.9,1035.3"/>
<path stroke="#f00" stroke-width="8" d="M306.4,1689.9L370.7,1687.7M396.3,1687.0L423.3,1686.7M448.9,1686.4L460.6,1686.2M486.2,1686.0L489.6,1685.9M605.1,1683.0L669.4,1679.2M694.9,1677.1L722.1,1674.2M747.5,1671.1L759.5,1669.4M784.7,1665.3L788.5,1664.7"/>
<polyline stroke="none" marker-start="url(#msr)" marker-mid="url(#msr)" marker-end="url(#msr)" points="293.6,1690.3 383.5,1687.2 436.1,1686.5 473.4,1686.1 502.4,1685.8 526.0,1685.5 546.0,1685.1 563.4,1684.7 578.6,1684.2 592.3,1683.8 682.2,1678.4 734.8,1672.9 772.1,1667.5 801.1,1662.5 824.7,1657.7 844.7,1653.1 862.1,1648.8 877.3,1644.7 891.0,1640.7 903.4,1636.9 914.7,1633.3 925.0,1629.8 934.6,1626.4 943.6,1623.1 952.0,1620.0 959.8,1616.9 967.2,1613.9 974.3,1611.0 980.9,1608.2 987.2,1605.4 993.3,1602.7 999.0,1600.1 1004.6,1597.5 1009.9,1595.0 1015.0,1592.6 1019.8,1590.2 1024.6,1587.9 1029.1,1585.6 1033.5,1583.3 1037.8,1581.1 1041.9,1579.0 1045.9,1576.9 1049.8,1574.8 1053.5,1572.8 1057.2,1570.8 1060.7,1568.9 1064.2,1567.0 1067.6,1565.1 1070.8,1563.3 1074.0,1561.5 1077.2,1559.7 1080.2,1557.9 1083.2,1556.2 1086.1,1554.5 1089.0,1552.9 1091.8,1551.2 1094.5,1549.6 1097.2,1548.0 1099.8,1546.4 1102.4,1544.9 1104.9,1543.4 1107.3,1541.9 1109.8,1540.4 1112.1,1538.9 1114.5,1537.5 1116.8,1536.1 1119.0,1534.7 1121.3,1533.3 1123.4,1531.9 1125.6,1530.6 1127.7,1529.2 1129.8,1527.9 1131.8,1526.6 1133.8,1525.4 1135.8,1524.1 1137.7,1522.8 1139.7,1521.6 1141.6,1520.4 1143.4,1519.2 1145.3,1518.0 1147.1,1516.8 1148.9,1515.6 1150.6,1514.4 1152.4,1513.3 1154.1,1512.2 1155.8,1511.0 1157.5,1509.9 1159.1,1508.8 1160.8,1507.7 1162.4,1506.7 1164.0,1505.6 1165.5,1504.5 1167.1,1503.5 1168.6,1502.5 1170.1,1501.4 1171.6,1500.4 1173.1,1499.4 1174.6,1498.4 1176.0,1497.4 1177.5,1496.5 1178.9,1495.5 1180.3,1494.5 1181.7,1493.6 1183.0,1492.6 1184.4,1491.7 1185.7,1490.8 1187.1,1489.8 1188.4,1488.9 1189.7,1488.0 1191.0,1487.1 1192.3,1486.2 1193.5,1485.3 1194.8,1484.5 1196.0,1483.6 1197.3,1482.7 1198.5,1481.9 1199.7,1481.0 1200.9,1480.2 1202.1,1479.3 1203.2,1478.5 1204.4,1477.7 1205.6,1476.9 1206.7,1476.1 1207.8,1475.3 1209.0,1474.4 1210.1,1473.7 1211.2,1472.9 1212.3,1472.1 1213.4,1471.3 1214.4,1470.5 1215.5,1469.8 1216.6,1469.0 1218.6,1467.5 1220.7,1466.0 1222.7,1464.5 1224.7,1463.0 1226.7,1461.6 1228.6,1460.2 1230.5,1458.8 1232.4,1457.4 1234.3,1456.0 1236.1,1454.6 1237.9,1453.3 1239.7,1452.0 1241.4,1450.6 1243.2,1449.3 1244.9,1448.0 1246.6,1446.8 1248.2,1445.5 1249.9,1444.2 1251.5,1443.0 1253.1,1441.8 1254.7,1440.5 1256.2,1439.3 1257.8,1438.1 1259.3,1437.0 1260.8,1435.8 1262.3,1434.6 1263.8,1433.5 1265.2,1432.3 1266.7,1431.2 1268.1,1430.0 1269.5,1428.9 1270.9,1427.8 1272.3,1426.7 1273.6,1425.6 1275.0,1424.5 1276.3,1423.5 1277.7,1422.4 1279.0,1421.3 1280.3,1420.3 1281.5,1419.2 1282.8,1418.2 1284.1,1417.2 1285.3,1416.2 1286.6,1415.1 1287.8,1414.1 1289.0,1413.1 1290.2,1412.2 1291.4,1411.2 1292.6,1410.2 1293.7,1409.2 1294.9,1408.3 1296.0,1407.3 1297.2,1406.4 1298.3,1405.4 1299.4,1404.5 1300.5,1403.6 1301.6,1402.6 1302.7,1401.7 1303.8,1400.8 1304.9,1399.9 1305.9,1399.0 1307.0,1398.1 1308.0,1397.3 1309.1,1396.4 1310.1,1395.5 1311.1,1394.7 1312.1,1393.8 1313.2,1393.0 1314.2,1392.1 1315.6,1390.9 1317.1,1389.6 1318.5,1388.4 1320.0,1387.2 1321.4,1386.0 1322.8,1384.8 1324.2,1383.7 1325.6,1382.5 1326.9,1381.4 1328.3,1380.2 1329.6,1379.1 1330.9,1378.0 1332.2,1376.9 1333.5,1375.8 1334.8,1374.7 1336.1,1373.7 1337.3,1372.6 1338.5,1371.6 1339.8,1370.5 1341.0,1369.5 1342.2,1368.5 1343.4,1367.5 1344.6,1366.5 1345.8,1365.6 1346.9,1364.6 1348.1,1363.6 1349.2,1362.7 1350.3,1361.8 1351.5,1360.8 1352.6,1359.9 1353.7,1359.0 1354.8,1358.1 1355.9,1357.2 1356.9,1356.3 1358.0,1355.5 1359.1,1354.6 1360.1,1353.7 1361.2,1352.9 1362.2,1352.1 1363.2,1351.2 1364.2,1350.4 1365.6,1349.3 1366.9,1348.3 1368.2,1347.2 1369.5,1346.2 1370.8,1345.1 1372.1,1344.1 1373.4,1343.1 1374.6,1342.1 1375.9,1341.2 1377.1,1340.2 1378.3,1339.3 1379.5,1338.3 1380.7,1337.4 1381.9,1336.5 1383.1,1335.6 1384.2,1334.7 1385.4,1333.8 1386.5,1333.0 1387.7,1332.1 1388.8,1331.3 1389.9,1330.4 1391.0,1329.6 1392.1,1328.8 1393.2,1328.0 1394.3,1327.2 1395.3,1326.4 1396.4,1325.6 1397.4,1324.9 1398.7,1323.9 1400.0,1323.0 1401.3,1322.1 1402.6,1321.1 1403.8,1320.3 1405.1,1319.4 1406.3,1318.5 1407.5,1317.6 1408.7,1316.8 1409.9,1315.9 1411.1,1315.1 1412.3,1314.3 1413.4,1313.5 1414.6,1312.7 1415.7,1311.9 1416.8,1311.1 1418.0,1310.3 1419.1,1309.6 1420.2,1308.8 1421.3,1308.1 1422.3,1307.3 1423.6,1306.5 1424.9,1305.6 1426.2,1304.8 1427.4,1303.9 1428.7,1303.1 1429.9,1302.3 1431.1,1301.4 1432.3,1300.6 1433.5,1299.8 1434.7,1299.1 1435.9,1298.3 1437.0,1297.5 1438.2,1296.7 1439.3,1296.0 1440.5,1295.2 1441.6,1294.5 1442.7,1293.8 1443.8,1293.1 1444.9,1292.3 1446.1,1291.5 1447.4,1290.7 1448.6,1289.9 1449.9,1289.1 1451.1,1288.3 1452.3,1287.5 1453.5,1286.7 1454.7,1286.0 1455.8,1285.2 1457.0,1284.5 1458.1,1283.7 1459.3,1283.0 1460.4,1282.2 1461.5,1281.5 1462.7,1280.8 1463.8,1280.1 1464.9,1279.4 1466.1,1278.6 1467.3,1277.8 1468.5,1277.0 1469.7,1276.2 1470.9,1275.4 1472.1,1274.7 1473.3,1273.9 1474.4,1273.2 1475.6,1272.4 1476.7,1271.7 1477.9,1271.0 1479.0,1270.2 1480.1,1269.5 1481.2,1268.8 1482.3,1268.1 1483.5,1267.3 1484.7,1266.5 1485.9,1265.7 1487.1,1264.9 1488.3,1264.2 1489.4,1263.4 1490.6,1262.7 1491.7,1261.9 1492.9,1261.2 1494.0,1260.4 1495.1,1259.7 1496.2,1259.0 1497.3,1258.2 1498.4,1257.5 1499.6,1256.7 1500.8,1255.9 1501.9,1255.2 1503.1,1254.4 1504.3,1253.6 1505.4,1252.9 1506.5,1252.1 1507.7,1251.4 1508.8,1250.6 1509.9,1249.9 1511.0,1249.2 1512.1,1248.4 1513.2,1247.7 1514.4,1246.9 1515.6,1246.1 1516.7,1245.3 1517.9,1244.6 1519.0,1243.8 1520.1,1243.1 1521.2,1242.3 1522.3,1241.6 1523.4,1240.9 1524.5,1240.1 1525.7,1239.3 1526.8,1238.6 1528.0,1237.8 1529.1,1237.0 1530.3,1236.3 1531.4,1235.5 1532.5,1234.8 1533.6,1234.1 1534.7,1233.3 1535.8,1232.6 1537.0,1231.8 1538.1,1231.1 1539.3,1230.3 1540.4,1229.5 1541.5,1228.8 1542.6,1228.0 1543.7,1227.3 1544.8,1226.6 1545.9,1225.9 1547.1,1225.1 1548.2,1224.3 1549.4,1223.6 1550.5,1222.8 1551.6,1222.1 1552.7,1221.4 1553.8,1220.6 1554.9,1219.9 1556.1,1219.1 1557.2,1218.4 1558.4,1217.6 1559.5,1216.9 1560.6,1216.2 1561.7,1215.4 1562.8,1214.7 1563.9,1214.0 1565.1,1213.2 1566.2,1212.5 1567.4,1211.8 1568.5,1211.0 1569.6,1210.3 1570.7,1209.6 1571.8,1208.9 1573.0,1208.1 1574.1,1207.4 1575.2,1206.7 1576.4,1206.0 1577.5,1205.2 1578.6,1204.5 1579.7,1203.8 1580.8,1203.1 1582.0,1202.4 1583.1,1201.7 1584.2,1200.9 1585.3,1200.2 1586.4,1199.5 1587.6,1198.8 1588.7,1198.1 1589.9,1197.4 1591.0,1196.7 1592.1,1196.0 1593.3,1195.3 1594.4,1194.6 1595.5,1193.9 1596.7,1193.2 1597.8,1192.5 1598.9,1191.8 1600.1,1191.1 1601.2,1190.4 1602.3,1189.7 1603.5,1189.0 1604.6,1188.3 1605.8,1187.6 1606.9,1186.9 1608.0,1186.3 1609.2,1185.6 1610.3,1184.9 1611.5,1184.2 1612.6,1183.5 1613.7,1182.9 1614.9,1182.2 1616.0,1181.5 1617.2,1180.8 1618.3,1180.2 1619.5,1179.5 1620.6,1178.9 1621.8,1178.2 1622.9,1177.5 1624.1,1176.9 1625.2,1176.2 1626.4,1175.6 1627.5,1174.9 1628.7,1174.3 1629.8,1173.6 1631.0,1173.0 1632.2,1172.4 1633.3,1171.7 1634.5,1171.1 1635.6,1170.5 1636.8,1169.8 1637.9,1169.2 1639.1,1168.6 1640.3,1167.9 1641.5,1167.3 1642.6,1166.7 1643.8,1166.1 1645.0,1165.5 1646.1,1164.9 1647.3,1164.2 1648.5,1163.6 1649.6,1163.0 1650.8,1162.4 1650.9,1162.4"/>
<path stroke="#00f" stroke-width="11.5" d="M305.6,1636.9L371.6,1611.8M395.2,1602.0L424.5,1588.7M447.6,1577.8L462.0,1570.7M484.8,1559.1L491.0,1555.8M513.6,1543.8L514.8,1543.1M603.1,1492.0L671.4,1449.2M692.9,1435.3L724.2,1414.5M745.4,1400.2L761.6,1389.2M782.6,1374.6L790.6,1369.1M811.6,1354.5L814.3,1352.5"/>
<polyline stroke="none" marker-start="url(#mcb)" marker-mid="url(#mcb)" marker-end="url(#mcb)" points="293.6,1641.4 383.5,1607.3 436.1,1583.5 473.4,1565.0 502.4,1549.9 526.0,1537.0 546.0,1525.8 563.4,1515.9 578.6,1506.9 592.3,1498.8 682.2,1442.4 734.8,1407.4 772.1,1381.9 801.1,1361.8 824.7,1345.2 844.7,1331.0 862.1,1318.7 877.3,1307.7 891.0,1297.9 903.4,1289.0 914.7,1280.8 925.0,1273.3 934.6,1266.3 943.6,1259.8 952.0,1253.8 959.8,1248.1 967.2,1242.7 974.3,1237.6 980.9,1232.7 987.2,1228.1 993.3,1223.8 999.0,1219.6 1004.6,1215.6 1009.9,1211.7 1015.0,1208.0 1019.8,1204.5 1024.6,1201.0 1029.1,1197.7 1033.5,1194.6 1037.8,1191.5 1041.9,1188.5 1045.9,1185.6 1049.8,1182.8 1053.5,1180.1 1057.2,1177.4 1060.7,1174.9 1064.2,1172.4 1067.6,1170.0 1070.8,1167.6 1074.0,1165.3 1077.2,1163.0 1080.2,1160.8 1083.2,1158.7 1086.1,1156.6 1089.0,1154.6 1091.8,1152.5 1094.5,1150.6 1097.2,1148.7 1099.8,1146.8 1102.4,1145.0 1104.9,1143.2 1107.3,1141.4 1109.8,1139.6 1112.1,1137.9 1114.5,1136.3 1116.8,1134.6 1119.0,1133.0 1121.3,1131.4 1123.4,1129.9 1125.6,1128.4 1127.7,1126.9 1129.8,1125.4 1131.8,1123.9 1133.8,1122.5 1135.8,1121.1 1139.7,1118.3 1143.4,1115.7 1147.1,1113.1 1150.6,1110.6 1154.1,1108.1 1157.5,1105.7 1160.8,1103.4 1164.0,1101.1 1167.1,1098.9 1170.1,1096.8 1173.1,1094.7 1176.0,1092.6 1178.9,1090.6 1181.7,1088.6 1184.4,1086.7 1187.1,1084.8 1189.7,1083.0 1192.3,1081.2 1194.8,1079.4 1197.3,1077.7 1199.7,1076.0 1202.1,1074.4 1204.4,1072.8 1206.7,1071.2 1209.0,1069.7 1211.2,1068.2 1213.4,1066.7 1215.5,1065.3 1217.6,1063.9 1219.7,1062.5 1221.7,1061.2 1224.7,1059.3 1227.7,1057.5 1230.5,1055.7 1233.3,1054.0 1236.1,1052.4 1238.8,1050.9 1241.4,1049.4 1244.0,1048.0 1246.6,1046.6 1249.0,1045.3 1251.5,1044.1 1253.9,1042.9 1256.2,1041.8 1258.5,1040.7 1260.8,1039.7 1263.0,1038.7 1265.9,1037.4 1268.8,1036.2 1271.6,1035.0 1274.3,1033.9 1277.0,1032.9 1279.6,1031.9 1282.2,1031.0 1284.7,1030.1 1287.2,1029.2 1289.6,1028.4 1292.0,1027.6 1294.3,1026.9 1296.6,1026.2 1299.4,1025.3 1302.2,1024.5 1304.9,1023.8 1307.5,1023.0 1310.1,1022.4 1312.7,1021.7 1315.1,1021.1 1317.6,1020.5 1320.0,1020.0 1322.3,1019.4 1325.1,1018.8 1327.8,1018.3 1330.5,1017.7 1333.1,1017.2 1335.6,1016.7 1338.1,1016.3 1340.6,1015.9 1343.0,1015.4 1345.8,1015.0 1348.5,1014.6 1351.1,1014.2 1353.7,1013.8 1356.2,1013.4 1358.7,1013.1 1361.2,1012.8 1363.6,1012.4 1366.3,1012.1 1368.9,1011.8 1371.5,1011.5 1374.0,1011.2 1376.5,1011.0 1378.9,1010.7 1381.3,1010.5 1383.9,1010.2 1386.5,1009.9 1389.1,1009.7 1391.6,1009.5 1394.0,1009.3 1396.4,1009.1 1399.0,1008.9 1401.6,1008.7 1404.1,1008.5 1406.5,1008.3 1408.9,1008.2 1411.6,1008.0 1414.1,1007.8 1416.6,1007.7 1419.1,1007.5 1421.5,1007.4 1424.1,1007.3 1426.6,1007.1 1429.1,1007.0 1431.5,1006.9 1434.1,1006.8 1436.6,1006.7 1439.1,1006.6 1441.6,1006.5 1444.2,1006.4 1446.7,1006.3 1449.2,1006.2 1451.6,1006.2 1454.2,1006.1 1456.7,1006.0 1459.1,1006.0 1461.5,1005.9 1464.1,1005.9 1466.6,1005.8 1469.0,1005.8 1471.5,1005.7 1474.0,1005.7 1476.5,1005.6 1479.0,1005.6 1481.5,1005.6 1483.9,1005.5 1486.4,1005.5 1488.9,1005.5 1491.3,1005.5 1493.9,1005.4 1496.3,1005.4 1498.7,1005.4 1501.2,1005.4 1503.7,1005.4 1506.2,1005.4 1508.7,1005.3 1511.1,1005.3 1513.6,1005.3 1516.0,1005.3 1518.5,1005.3 1520.9,1005.3 1523.3,1005.3 1525.8,1005.3 1528.2,1005.3 1530.7,1005.3 1533.1,1005.2 1535.5,1005.2 1537.9,1005.2 1540.4,1005.2 1542.8,1005.2 1545.3,1005.2 1547.7,1005.2 1550.1,1005.2 1552.6,1005.2 1555.0,1005.1 1557.5,1005.1 1559.9,1005.1 1562.3,1005.1 1564.8,1005.1 1567.2,1005.0 1569.7,1005.0 1572.1,1005.0 1574.5,1004.9 1576.9,1004.9 1579.4,1004.9 1581.8,1004.8 1584.2,1004.8 1586.7,1004.7 1589.1,1004.7 1591.5,1004.6 1593.9,1004.6 1596.4,1004.5 1598.8,1004.4 1601.2,1004.4 1603.6,1004.3 1606.1,1004.2 1608.5,1004.1 1610.9,1004.1 1613.3,1004.0 1615.8,1003.9 1618.2,1003.8 1620.6,1003.7 1623.0,1003.6 1625.4,1003.5 1627.8,1003.3 1630.2,1003.2 1632.6,1003.1 1635.0,1002.9 1637.5,1002.8 1639.9,1002.7 1642.3,1002.5 1644.7,1002.3 1647.1,1002.2 1649.5,1002.0 1651.9,1001.8 1654.4,1001.6 1656.7,1001.4 1659.2,1001.2 1661.6,1001.0 1664.0,1000.8 1666.4,1000.6 1668.8,1000.4 1671.2,1000.1 1673.6,999.9 1674.6,999.8"/>
<path stroke="#00f" stroke-width="9.7" d="M306.4,1682.6L370.7,1678.7M396.2,1676.5L423.4,1673.4M448.8,1670.0L460.8,1668.1M486.0,1663.8L489.8,1663.1M604.3,1633.3L670.2,1608.8M693.8,1598.8L723.3,1584.7M746.0,1573.0L760.9,1564.9M783.2,1552.2L790.1,1548.1M812.0,1534.9L813.8,1533.7"/>
<polyline stroke="none" marker-start="url(#mtb)" marker-mid="url(#mtb)" marker-end="url(#mtb)" points="293.6,1683.4 383.5,1677.9 436.1,1671.9 473.4,1666.2 502.4,1660.7 526.0,1655.6 546.0,1650.8 563.4,1646.3 578.6,1641.9 592.3,1637.8 682.2,1604.4 734.8,1579.2 772.1,1558.7 801.1,1541.6 824.7,1527.0 844.7,1514.4 862.1,1503.4 877.3,1493.5 891.0,1484.7 903.4,1476.8 914.7,1469.6 925.0,1463.0 934.6,1456.9 943.6,1451.3 952.0,1446.1 959.8,1441.3 967.2,1436.8 974.3,1432.6 980.9,1428.6 987.2,1424.9 993.3,1421.4 999.0,1418.1 1004.6,1414.9 1009.9,1411.9 1015.0,1409.0 1019.8,1406.2 1024.6,1403.6 1029.1,1401.0 1033.5,1398.5 1037.8,1396.0 1041.9,1393.7 1045.9,1391.3 1049.8,1389.1 1053.5,1386.9 1057.2,1384.7 1060.7,1382.6 1064.2,1380.6 1067.6,1378.6 1070.8,1376.6 1074.0,1374.6 1077.2,1372.7 1080.2,1370.8 1083.2,1368.9 1086.1,1367.1 1089.0,1365.3 1091.8,1363.5 1094.5,1361.7 1097.2,1360.0 1099.8,1358.2 1102.4,1356.5 1104.9,1354.8 1107.3,1353.1 1109.8,1351.5 1112.1,1349.9 1114.5,1348.2 1116.8,1346.6 1119.0,1345.0 1121.3,1343.5 1123.4,1341.9 1125.6,1340.4 1127.7,1338.9 1129.8,1337.4 1131.8,1335.9 1133.8,1334.4 1135.8,1333.0 1137.7,1331.5 1139.7,1330.1 1141.6,1328.7 1143.4,1327.3 1145.3,1325.9 1147.1,1324.6 1148.9,1323.2 1150.6,1321.9 1152.4,1320.6 1154.1,1319.3 1155.8,1318.0 1157.5,1316.7 1159.1,1315.4 1160.8,1314.2 1162.4,1312.9 1164.0,1311.7 1165.5,1310.5 1167.1,1309.3 1168.6,1308.1 1170.1,1306.9 1171.6,1305.7 1173.1,1304.6 1174.6,1303.4 1176.0,1302.3 1177.5,1301.1 1178.9,1300.0 1180.3,1298.9 1181.7,1297.8 1183.0,1296.7 1184.4,1295.7 1185.7,1294.6 1187.1,1293.6 1188.4,1292.5 1189.7,1291.5 1191.0,1290.4 1192.3,1289.4 1193.5,1288.4 1194.8,1287.4 1196.0,1286.4 1197.3,1285.4 1198.5,1284.5 1199.7,1283.5 1200.9,1282.5 1202.1,1281.6 1203.2,1280.7 1204.4,1279.7 1205.6,1278.8 1206.7,1277.9 1207.8,1277.0 1209.0,1276.1 1210.1,1275.2 1211.2,1274.3 1212.3,1273.4 1213.4,1272.5 1214.4,1271.7 1215.5,1270.8 1216.6,1270.0 1217.6,1269.1 1218.6,1268.3 1219.7,1267.5 1220.7,1266.6 1221.7,1265.8 1223.7,1264.2 1225.7,1262.6 1227.7,1261.0 1229.6,1259.5 1231.5,1258.0 1233.3,1256.5 1235.2,1255.0 1237.0,1253.5 1238.8,1252.1 1240.6,1250.7 1242.3,1249.3 1244.0,1247.9 1245.7,1246.6 1247.4,1245.3 1249.0,1243.9 1250.7,1242.6 1252.3,1241.4 1253.9,1240.1 1255.4,1238.9 1257.0,1237.6 1258.5,1236.4 1260.1,1235.2 1261.6,1234.0 1263.0,1232.9 1264.5,1231.7 1265.9,1230.6 1267.4,1229.5 1268.8,1228.4 1270.2,1227.3 1271.6,1226.2 1273.0,1225.1 1274.3,1224.1 1275.7,1223.0 1277.0,1222.0 1278.3,1221.0 1279.6,1220.0 1280.9,1219.0 1282.2,1218.0 1283.5,1217.0 1284.7,1216.1 1285.9,1215.1 1287.2,1214.2 1288.4,1213.3 1289.6,1212.4 1290.8,1211.5 1292.0,1210.6 1293.2,1209.7 1294.3,1208.8 1295.5,1207.9 1296.6,1207.1 1297.7,1206.3 1298.9,1205.4 1300.0,1204.6 1301.1,1203.8 1302.2,1203.0 1303.3,1202.2 1304.3,1201.4 1305.4,1200.6 1306.5,1199.8 1308.0,1198.7 1309.6,1197.6 1311.1,1196.5 1312.7,1195.4 1314.2,1194.3 1315.6,1193.3 1317.1,1192.2 1318.5,1191.2 1320.0,1190.2 1321.4,1189.2 1322.8,1188.2 1324.2,1187.3 1325.6,1186.3 1326.9,1185.4 1328.3,1184.5 1329.6,1183.6 1330.9,1182.7 1332.2,1181.8 1333.5,1181.0 1334.8,1180.1 1336.1,1179.3 1337.3,1178.4 1338.5,1177.6 1339.8,1176.8 1341.0,1176.0 1342.2,1175.2 1343.4,1174.4 1344.6,1173.6 1345.8,1172.9 1346.9,1172.1 1348.1,1171.4 1349.2,1170.6 1350.3,1169.9 1351.5,1169.2 1352.6,1168.5 1353.7,1167.8 1355.1,1166.8 1356.6,1165.9 1358.0,1165.0 1359.4,1164.1 1360.8,1163.2 1362.2,1162.3 1363.6,1161.5 1364.9,1160.6 1366.3,1159.8 1367.6,1159.0 1368.9,1158.1 1370.2,1157.3 1371.5,1156.5 1372.7,1155.7 1374.0,1154.9 1375.2,1154.2 1376.5,1153.4 1377.7,1152.6 1378.9,1151.9 1380.1,1151.1 1381.3,1150.4 1382.5,1149.6 1383.7,1148.9 1384.8,1148.2 1386.0,1147.5 1387.1,1146.8 1388.2,1146.1 1389.3,1145.4 1390.5,1144.7 1391.8,1143.8 1393.2,1143.0 1394.5,1142.2 1395.9,1141.3 1397.2,1140.5 1398.5,1139.7 1399.8,1138.9 1401.1,1138.1 1402.3,1137.3 1403.6,1136.6 1404.8,1135.8 1406.0,1135.0 1407.3,1134.3 1408.5,1133.5 1409.7,1132.8 1410.8,1132.1 1412.0,1131.3 1413.2,1130.6 1414.3,1129.9 1415.5,1129.2 1416.6,1128.5 1417.7,1127.8 1418.8,1127.2 1420.2,1126.3 1421.5,1125.5 1422.8,1124.8 1424.1,1124.0 1425.3,1123.2 1426.6,1122.4 1427.8,1121.7 1429.1,1120.9 1430.3,1120.2 1431.5,1119.5 1432.7,1118.8 1433.9,1118.1 1435.1,1117.4 1436.3,1116.7 1437.4,1116.0 1438.6,1115.3 1439.7,1114.6 1440.8,1114.0 1442.1,1113.2 1443.4,1112.4 1444.7,1111.7 1446.0,1111.0 1447.2,1110.2 1448.5,1109.5 1449.7,1108.8 1450.9,1108.1 1452.1,1107.4 1453.3,1106.7 1454.5,1106.1 1455.7,1105.4 1456.8,1104.7 1458.0,1104.1 1459.1,1103.4 1460.4,1102.7 1461.7,1102.0 1463.0,1101.3 1464.2,1100.6 1465.5,1099.9 1466.7,1099.3 1467.9,1098.6 1469.1,1097.9 1470.3,1097.3 1471.5,1096.7 1472.7,1096.0 1473.9,1095.4 1475.0,1094.8 1476.3,1094.1 1477.6,1093.4 1478.8,1092.8 1480.1,1092.1 1481.3,1091.5 1482.6,1090.9 1483.8,1090.3 1485.0,1089.6 1486.2,1089.0 1487.4,1088.5 1488.5,1087.9 1489.8,1087.2 1491.1,1086.6 1492.4,1086.0 1493.6,1085.4 1494.9,1084.8 1496.1,1084.2 1497.3,1083.6 1498.5,1083.1 1499.7,1082.5 1500.9,1082.0 1502.2,1081.4 1503.4,1080.8 1504.7,1080.2 1506.0,1079.6 1507.2,1079.1 1508.4,1078.5 1509.7,1078.0 1510.9,1077.5 1512.1,1077.0 1513.3,1076.4 1514.6,1075.9 1515.9,1075.3 1517.1,1074.8 1518.4,1074.3 1519.6,1073.8 1520.8,1073.3 1522.1,1072.8 1523.4,1072.3 1524.7,1071.8 1526.0,1071.3 1527.2,1070.8 1528.5,1070.4 1529.7,1069.9 1530.9,1069.5 1532.2,1069.0 1533.5,1068.5 1534.8,1068.1 1536.1,1067.6 1537.3,1067.2 1538.6,1066.8 1539.9,1066.4 1541.2,1065.9 1542.5,1065.5 1543.7,1065.1 1545.0,1064.7 1546.3,1064.3 1547.6,1063.9 1548.9,1063.5 1550.2,1063.1 1551.5,1062.8 1552.7,1062.4 1554.0,1062.1 1555.3,1061.7 1556.6,1061.4 1557.9,1061.0 1559.2,1060.7 1560.5,1060.4 1561.8,1060.1 1563.1,1059.7 1564.4,1059.4 1565.7,1059.2 1567.0,1058.9 1568.3,1058.6 1569.7,1058.3 1571.0,1058.0 1572.3,1057.8 1573.6,1057.5 1574.9,1057.3 1576.2,1057.1 1577.5,1056.8 1578.8,1056.6 1580.1,1056.4 1581.5,1056.2 1582.8,1056.0 1584.1,1055.9 1585.4,1055.7 1586.7,1055.5 1588.1,1055.3 1589.4,1055.2 1590.7,1055.0 1592.0,1054.9 1593.4,1054.8 1594.7,1054.6 1596.0,1054.5 1597.3,1054.4 1598.6,1054.3 1600.0,1054.2 1601.3,1054.1 1602.6,1054.0 1603.9,1053.9 1605.2,1053.8 1606.5,1053.7 1607.8,1053.7 1609.2,1053.6 1610.5,1053.5 1611.8,1053.5 1613.1,1053.4 1614.5,1053.3 1615.8,1053.3 1617.1,1053.2 1618.4,1053.2 1619.8,1053.1 1621.1,1053.1 1622.4,1053.1 1623.7,1053.0 1625.0,1053.0 1626.3,1053.0 1627.7,1052.9 1629.0,1052.9 1630.3,1052.9 1631.6,1052.8 1633.0,1052.8 1634.3,1052.8 1635.6,1052.8 1637.0,1052.7 1638.3,1052.7 1639.6,1052.7 1640.9,1052.7 1642.2,1052.7 1643.5,1052.6 1644.8,1052.6 1646.2,1052.6 1647.5,1052.5 1648.8,1052.5 1650.1,1052.5 1651.4,1052.5 1652.8,1052.4 1654.1,1052.4 1655.4,1052.3 1656.7,1052.3 1658.0,1052.3 1659.3,1052.2 1660.7,1052.2 1662.0,1052.1 1663.3,1052.1 1664.6,1052.0 1665.9,1051.9 1667.2,1051.9 1668.5,1051.8 1669.8,1051.7 1671.2,1051.6 1672.5,1051.6 1673.8,1051.5 1674.6,1051.4"/>
<path stroke="#00f" stroke-width="8" d="M306.4,1689.3L370.7,1688.1M396.3,1687.8L423.3,1687.7M448.9,1687.5L460.6,1687.4M486.2,1687.2L489.6,1687.1M605.1,1683.9L669.4,1679.8M694.9,1677.5L722.1,1674.6M747.5,1671.3L759.5,1669.6M784.7,1665.5L788.5,1664.9"/>
<polyline stroke="none" marker-start="url(#msb)" marker-mid="url(#msb)" marker-end="url(#msb)" points="293.6,1689.5 383.5,1687.9 436.1,1687.6 473.4,1687.3 502.4,1687.0 526.0,1686.6 546.0,1686.2 563.4,1685.7 578.6,1685.2 592.3,1684.7 682.2,1678.9 734.8,1673.2 772.1,1667.7 801.1,1662.6 824.7,1657.9 844.7,1653.4 862.1,1649.2 877.3,1645.2 891.0,1641.3 903.4,1637.7 914.7,1634.1 925.0,1630.8 934.6,1627.5 943.6,1624.4 952.0,1621.3 959.8,1618.4 967.2,1615.6 974.3,1612.8 980.9,1610.1 987.2,1607.5 993.3,1604.9 999.0,1602.4 1004.6,1600.0 1009.9,1597.6 1015.0,1595.3 1019.8,1593.0 1024.6,1590.8 1029.1,1588.6 1033.5,1586.5 1037.8,1584.4 1041.9,1582.3 1045.9,1580.3 1049.8,1578.3 1053.5,1576.4 1057.2,1574.5 1060.7,1572.6 1064.2,1570.7 1067.6,1568.9 1070.8,1567.1 1074.0,1565.4 1077.2,1563.7 1080.2,1562.0 1083.2,1560.3 1086.1,1558.7 1089.0,1557.0 1091.8,1555.4 1094.5,1553.9 1097.2,1552.3 1099.8,1550.8 1102.4,1549.3 1104.9,1547.8 1107.3,1546.3 1109.8,1544.9 1112.1,1543.5 1114.5,1542.1 1116.8,1540.7 1119.0,1539.3 1121.3,1538.0 1123.4,1536.6 1125.6,1535.3 1127.7,1534.0 1129.8,1532.8 1131.8,1531.5 1133.8,1530.2 1135.8,1529.0 1137.7,1527.8 1139.7,1526.6 1141.6,1525.4 1143.4,1524.2 1145.3,1523.0 1147.1,1521.9 1148.9,1520.7 1150.6,1519.6 1152.4,1518.5 1154.1,1517.4 1155.8,1516.3 1157.5,1515.2 1159.1,1514.1 1160.8,1513.1 1162.4,1512.0 1164.0,1511.0 1165.5,1510.0 1167.1,1508.9 1168.6,1507.9 1170.1,1506.9 1171.6,1505.9 1173.1,1505.0 1174.6,1504.0 1176.0,1503.0 1177.5,1502.1 1178.9,1501.1 1180.3,1500.2 1181.7,1499.3 1183.0,1498.3 1184.4,1497.4 1185.7,1496.5 1187.1,1495.6 1188.4,1494.7 1189.7,1493.9 1191.0,1493.0 1192.3,1492.1 1193.5,1491.3 1194.8,1490.4 1196.0,1489.6 1197.3,1488.7 1198.5,1487.9 1199.7,1487.1 1200.9,1486.3 1202.1,1485.5 1203.2,1484.6 1204.4,1483.9 1205.6,1483.1 1206.7,1482.3 1207.8,1481.5 1209.0,1480.7 1210.1,1479.9 1211.2,1479.2 1212.3,1478.4 1213.4,1477.7 1214.4,1476.9 1216.6,1475.5 1218.6,1474.0 1220.7,1472.6 1222.7,1471.1 1224.7,1469.8 1226.7,1468.4 1228.6,1467.0 1230.5,1465.7 1232.4,1464.4 1234.3,1463.0 1236.1,1461.8 1237.9,1460.5 1239.7,1459.2 1241.4,1458.0 1243.2,1456.7 1244.9,1455.5 1246.6,1454.3 1248.2,1453.2 1249.9,1452.0 1251.5,1450.8 1253.1,1449.7 1254.7,1448.5 1256.2,1447.4 1257.8,1446.3 1259.3,1445.2 1260.8,1444.1 1262.3,1443.1 1263.8,1442.0 1265.2,1441.0 1266.7,1439.9 1268.1,1438.9 1269.5,1437.9 1270.9,1436.9 1272.3,1435.9 1273.6,1434.9 1275.0,1433.9 1276.3,1432.9 1277.7,1432.0 1279.0,1431.0 1280.3,1430.1 1281.5,1429.1 1282.8,1428.2 1284.1,1427.3 1285.3,1426.4 1286.6,1425.5 1287.8,1424.6 1289.0,1423.7 1290.2,1422.8 1291.4,1422.0 1292.6,1421.1 1293.7,1420.3 1294.9,1419.4 1296.0,1418.6 1297.2,1417.7 1298.3,1416.9 1299.4,1416.1 1300.5,1415.3 1301.6,1414.5 1302.7,1413.7 1303.8,1412.9 1304.9,1412.1 1305.9,1411.3 1307.0,1410.6 1308.6,1409.4 1310.1,1408.3 1311.6,1407.1 1313.2,1406.0 1314.6,1404.9 1316.1,1403.9 1317.6,1402.8 1319.0,1401.7 1320.5,1400.7 1321.9,1399.6 1323.3,1398.6 1324.6,1397.6 1326.0,1396.6 1327.4,1395.6 1328.7,1394.6 1330.0,1393.6 1331.3,1392.6 1332.6,1391.7 1333.9,1390.7 1335.2,1389.8 1336.5,1388.9 1337.7,1388.0 1339.0,1387.0 1340.2,1386.1 1341.4,1385.2 1342.6,1384.4 1343.8,1383.5 1345.0,1382.6 1346.1,1381.7 1347.3,1380.9 1348.5,1380.0 1349.6,1379.2 1350.7,1378.4 1351.8,1377.5 1353.0,1376.7 1354.1,1375.9 1355.1,1375.1 1356.2,1374.3 1357.3,1373.5 1358.4,1372.7 1359.4,1372.0 1360.5,1371.2 1361.9,1370.2 1363.2,1369.2 1364.6,1368.2 1365.9,1367.2 1367.2,1366.2 1368.6,1365.2 1369.9,1364.3 1371.1,1363.3 1372.4,1362.4 1373.7,1361.5 1374.9,1360.5 1376.2,1359.6 1377.4,1358.7 1378.6,1357.8 1379.8,1357.0 1381.0,1356.1 1382.2,1355.2 1383.4,1354.4 1384.5,1353.5 1385.7,1352.7 1386.8,1351.8 1387.9,1351.0 1389.1,1350.2 1390.2,1349.4 1391.3,1348.6 1392.4,1347.8 1393.5,1347.0 1394.5,1346.2 1395.6,1345.4 1396.7,1344.6 1398.0,1343.7 1399.3,1342.7 1400.5,1341.8 1401.8,1340.9 1403.1,1340.0 1404.3,1339.0 1405.6,1338.1 1406.8,1337.3 1408.0,1336.4 1409.2,1335.5 1410.4,1334.6 1411.6,1333.8 1412.7,1332.9 1413.9,1332.1 1415.0,1331.3 1416.2,1330.4 1417.3,1329.6 1418.4,1328.8 1419.5,1328.0 1420.6,1327.2 1421.7,1326.4 1422.8,1325.7 1423.9,1324.9 1424.9,1324.1 1426.2,1323.2 1427.4,1322.3 1428.7,1321.4 1429.9,1320.5 1431.1,1319.7 1432.3,1318.8 1433.5,1317.9 1434.7,1317.1 1435.9,1316.3 1437.0,1315.4 1438.2,1314.6 1439.3,1313.8 1440.5,1313.0 1441.6,1312.2 1442.7,1311.4 1443.8,1310.6 1444.9,1309.8 1446.0,1309.0 1447.0,1308.3 1448.1,1307.5 1449.3,1306.6 1450.6,1305.8 1451.8,1304.9 1453.0,1304.1 1454.2,1303.2 1455.3,1302.4 1456.5,1301.6 1457.7,1300.8 1458.8,1300.0 1459.9,1299.2 1461.1,1298.4 1462.2,1297.6 1463.3,1296.8 1464.4,1296.0 1465.5,1295.3 1466.6,1294.5 1467.6,1293.8 1468.8,1292.9 1470.0,1292.1 1471.2,1291.2 1472.4,1290.4 1473.6,1289.6 1474.7,1288.8 1475.9,1288.0 1477.0,1287.2 1478.1,1286.4 1479.3,1285.6 1480.4,1284.9 1481.5,1284.1 1482.6,1283.4 1483.6,1282.6 1484.7,1281.9 1485.9,1281.0 1487.1,1280.2 1488.3,1279.4 1489.4,1278.6 1490.6,1277.8 1491.7,1277.0 1492.9,1276.2 1494.0,1275.5 1495.1,1274.7 1496.2,1274.0 1497.3,1273.2 1498.4,1272.5 1499.5,1271.7 1500.6,1270.9 1501.8,1270.1 1503.0,1269.3 1504.1,1268.5 1505.3,1267.8 1506.4,1267.0 1507.5,1266.2 1508.7,1265.5 1509.8,1264.7 1510.9,1264.0 1511.9,1263.2 1513.0,1262.5 1514.2,1261.7 1515.4,1260.9 1516.5,1260.1 1517.7,1259.4 1518.8,1258.6 1519.9,1257.9 1521.0,1257.1 1522.1,1256.4 1523.2,1255.6 1524.3,1254.9 1525.5,1254.1 1526.7,1253.3 1527.8,1252.6 1529.0,1251.8 1530.1,1251.1 1531.2,1250.3 1532.3,1249.6 1533.4,1248.8 1534.5,1248.1 1535.6,1247.4 1536.8,1246.6 1537.9,1245.8 1539.1,1245.1 1540.2,1244.3 1541.3,1243.6 1542.5,1242.9 1543.6,1242.1 1544.7,1241.4 1545.8,1240.7 1546.9,1239.9 1548.1,1239.2 1549.2,1238.4 1550.3,1237.7 1551.5,1236.9 1552.6,1236.2 1553.7,1235.5 1554.8,1234.8 1555.9,1234.0 1557.1,1233.3 1558.2,1232.5 1559.4,1231.8 1560.5,1231.1 1561.6,1230.4 1562.7,1229.6 1563.8,1228.9 1564.9,1228.2 1566.1,1227.4 1567.2,1226.7 1568.3,1226.0 1569.5,1225.3 1570.6,1224.6 1571.7,1223.9 1572.8,1223.1 1574.0,1222.4 1575.1,1221.7 1576.2,1220.9 1577.3,1220.2 1578.4,1219.5 1579.5,1218.8 1580.7,1218.1 1581.8,1217.4 1583.0,1216.6 1584.1,1215.9 1585.2,1215.2 1586.3,1214.5 1587.5,1213.8 1588.6,1213.1 1589.7,1212.4 1590.9,1211.7 1592.0,1211.0 1593.1,1210.3 1594.2,1209.5 1595.4,1208.8 1596.5,1208.1 1597.6,1207.4 1598.7,1206.7 1599.8,1206.0 1601.0,1205.3 1602.1,1204.6 1603.3,1203.9 1604.4,1203.2 1605.5,1202.5 1606.6,1201.8 1607.8,1201.1 1608.9,1200.4 1610.0,1199.7 1611.1,1199.0 1612.3,1198.3 1613.4,1197.6 1614.6,1196.9 1615.7,1196.2 1616.8,1195.5 1618.0,1194.8 1619.1,1194.1 1620.2,1193.5 1621.4,1192.8 1622.5,1192.1 1623.6,1191.4 1624.8,1190.7 1625.9,1190.0 1627.0,1189.3 1628.2,1188.6 1629.3,1187.9 1630.4,1187.3 1631.6,1186.6 1632.7,1185.9 1633.8,1185.2 1635.0,1184.5 1636.1,1183.9 1637.2,1183.2 1638.4,1182.5 1639.5,1181.8 1640.6,1181.2 1641.7,1180.5 1642.9,1179.8 1644.0,1179.1 1645.2,1178.5 1646.3,1177.8 1647.4,1177.1 1648.6,1176.4 1649.7,1175.8 1650.8,1175.1 1652.0,1174.4 1653.1,1173.8 1654.2,1173.1 1655.4,1172.4 1656.5,1171.8 1657.7,1171.1 1658.8,1170.4 1660.0,1169.8 1661.1,1169.1 1662.2,1168.4 1663.4,1167.8 1664.5,1167.1 1665.6,1166.5 1666.8,1165.8 1667.9,1165.1 1669.1,1164.5 1670.2,1163.8 1671.4,1163.2 1672.5,1162.5 1673.7,1161.8 1674.6,1161.3"/>
</g>
<g clip-path="url(#cc)" fill="none" stroke-linecap="round">
<path stroke="#000" stroke-width="9.5" d="M306.4,2546.1L370.8,2541.3M396.3,2539.9L423.3,2538.9M448.9,2538.1L460.6,2537.9M486.2,2537.5L489.6,2537.4M605.1,2537.5L669.4,2538.0M695.0,2538.1L722.0,2538.1M747.6,2538.0L759.3,2537.8M784.9,2537.5L788.3,2537.4"/>
<polyline stroke="none" marker-start="url(#mck)" marker-mid="url(#mck)" marker-end="url(#mck)" points="293.6,2547.0 383.5,2540.4 436.1,2538.4 473.4,2537.6 502.4,2537.3 526.0,2537.2 546.0,2537.2 563.4,2537.3 578.6,2537.4 592.3,2537.4 682.2,2538.1 734.8,2538.1 772.1,2537.7 801.1,2537.2 824.7,2536.5 844.7,2535.7 862.1,2534.9 877.3,2534.1 891.0,2533.2 903.4,2532.4 914.7,2531.5 925.0,2530.7 934.6,2529.8 943.6,2529.0 952.0,2528.1 959.8,2527.3 967.2,2526.5 974.3,2525.7 980.9,2524.9 987.2,2524.1 993.3,2523.3 999.0,2522.5 1004.6,2521.8 1009.9,2521.0 1015.0,2520.3 1019.8,2519.5 1024.6,2518.8 1029.1,2518.1 1033.5,2517.4 1037.8,2516.7 1041.9,2516.0 1045.9,2515.3 1049.8,2514.6 1053.5,2513.9 1057.2,2513.3 1060.7,2512.6 1064.2,2511.9 1067.6,2511.3 1070.8,2510.7 1074.0,2510.0 1077.2,2509.4 1080.2,2508.8 1083.2,2508.1 1086.1,2507.5 1089.0,2506.9 1091.8,2506.3 1094.5,2505.7 1097.2,2505.1 1099.8,2504.6 1102.4,2504.0 1104.9,2503.4 1107.3,2502.8 1109.8,2502.3 1112.1,2501.7 1114.5,2501.1 1119.0,2500.0 1123.4,2499.0 1127.7,2497.9 1131.8,2496.8 1135.8,2495.8 1139.7,2494.8 1143.4,2493.8 1147.1,2492.8 1150.6,2491.8 1154.1,2490.8 1157.5,2489.9 1160.8,2488.9 1164.0,2488.0 1167.1,2487.0 1170.1,2486.1 1173.1,2485.2 1176.0,2484.3 1178.9,2483.5 1181.7,2482.6 1184.4,2481.7 1187.1,2480.9 1189.7,2480.0 1192.3,2479.2 1194.8,2478.3 1197.3,2477.5 1199.7,2476.7 1202.1,2475.9 1204.4,2475.1 1206.7,2474.3 1210.1,2473.2 1213.4,2472.1 1216.6,2471.0 1219.7,2469.9 1222.7,2468.8 1225.7,2467.8 1228.6,2466.8 1231.5,2465.8 1234.3,2464.8 1237.0,2463.9 1239.7,2463.0 1242.3,2462.1 1244.9,2461.2 1247.4,2460.4 1249.9,2459.6 1252.3,2458.8 1254.7,2458.0 1257.0,2457.2 1259.3,2456.5 1262.3,2455.5 1265.2,2454.6 1268.1,2453.7 1270.9,2452.8 1273.6,2451.9 1276.3,2451.1 1279.0,2450.3 1281.5,2449.6 1284.1,2448.8 1286.6,2448.1 1289.0,2447.4 1291.4,2446.8 1293.7,2446.1 1296.6,2445.4 1299.4,2444.6 1302.2,2443.9 1304.9,2443.3 1307.5,2442.6 1310.1,2442.0 1312.7,2441.4 1315.1,2440.9 1317.6,2440.3 1320.0,2439.8 1322.3,2439.3 1325.1,2438.8 1327.8,2438.3 1330.5,2437.8 1333.1,2437.3 1335.6,2436.9 1338.1,2436.5 1340.6,2436.1 1343.0,2435.7 1345.8,2435.3 1348.5,2435.0 1351.1,2434.6 1353.7,2434.3 1356.2,2434.0 1358.7,2433.7 1361.2,2433.4 1363.6,2433.2 1366.3,2432.9 1368.9,2432.7 1371.5,2432.4 1374.0,2432.2 1376.5,2432.1 1378.9,2431.9 1381.6,2431.7 1384.2,2431.5 1386.8,2431.4 1389.3,2431.3 1391.8,2431.1 1394.3,2431.0 1396.9,2430.9 1399.5,2430.8 1402.1,2430.8 1404.6,2430.7 1407.0,2430.7 1409.4,2430.6 1412.0,2430.6 1414.6,2430.5 1417.1,2430.5 1419.5,2430.5 1421.9,2430.5 1424.5,2430.5 1427.0,2430.5 1429.5,2430.5 1431.9,2430.6 1434.5,2430.6 1437.0,2430.7 1439.5,2430.7 1441.9,2430.8 1444.5,2430.8 1447.0,2430.9 1449.5,2431.0 1451.9,2431.0 1454.5,2431.1 1457.0,2431.2 1459.5,2431.3 1461.9,2431.4 1464.4,2431.5 1466.9,2431.6 1469.3,2431.7 1471.8,2431.9 1474.3,2432.0 1476.7,2432.1 1479.3,2432.2 1481.7,2432.4 1484.2,2432.5 1486.7,2432.6 1489.2,2432.8 1491.6,2432.9 1494.1,2433.0 1496.6,2433.2 1499.0,2433.3 1501.5,2433.4 1503.9,2433.6 1506.4,2433.7 1508.9,2433.9 1511.3,2434.0 1513.8,2434.2 1516.2,2434.3 1518.7,2434.4 1521.1,2434.6 1523.5,2434.7 1526.0,2434.9 1528.4,2435.0 1530.8,2435.1 1533.2,2435.3 1535.7,2435.4 1538.1,2435.5 1540.6,2435.6 1543.0,2435.8 1545.4,2435.9 1547.8,2436.0 1550.3,2436.1 1552.7,2436.2 1555.2,2436.3 1557.6,2436.4 1560.0,2436.5 1562.5,2436.6 1564.9,2436.7 1567.4,2436.8 1569.8,2436.9 1572.2,2437.0 1574.6,2437.0 1577.1,2437.1 1579.5,2437.2 1581.9,2437.2 1584.3,2437.3 1586.8,2437.3 1589.2,2437.3 1591.6,2437.4 1594.1,2437.4 1596.5,2437.4 1598.9,2437.4 1601.3,2437.4 1603.7,2437.4 1606.2,2437.4 1608.6,2437.3 1611.0,2437.3 1613.5,2437.2 1615.9,2437.2 1618.3,2437.1 1620.7,2437.1 1623.1,2437.0 1625.5,2436.9 1627.9,2436.8 1630.4,2436.7 1632.8,2436.6 1635.2,2436.4 1637.6,2436.3 1640.0,2436.1 1642.4,2436.0 1644.8,2435.8 1647.2,2435.6 1649.6,2435.4 1650.9,2435.3"/>
<path stroke="#000" stroke-width="9.5" d="M306.4,2561.6L370.7,2559.4M396.3,2558.6L423.3,2557.7M448.9,2556.8L460.6,2556.4M486.2,2555.6L489.6,2555.5M605.1,2551.7L669.4,2549.7M695.0,2548.9L722.0,2548.1M747.6,2547.3L759.3,2546.9M784.9,2546.1L788.3,2546.0"/>
<polyline stroke="none" marker-start="url(#mtk)" marker-mid="url(#mtk)" marker-end="url(#mtk)" points="293.6,2562.0 383.5,2559.0 436.1,2557.2 473.4,2556.0 502.4,2555.0 526.0,2554.3 546.0,2553.6 563.4,2553.1 578.6,2552.6 592.3,2552.1 682.2,2549.3 734.8,2547.7 772.1,2546.5 801.1,2545.6 824.7,2544.9 844.7,2544.3 862.1,2543.8 877.3,2543.3 891.0,2542.9 903.4,2542.5 914.7,2542.2 925.0,2541.9 934.6,2541.6 943.6,2541.3 952.0,2541.1 959.8,2540.9 967.2,2540.6 974.3,2540.4 980.9,2540.2 987.2,2540.1 993.3,2539.9 999.0,2539.7 1004.6,2539.5 1009.9,2539.4 1015.0,2539.2 1019.8,2539.1 1024.6,2539.0 1029.1,2538.8 1033.5,2538.7 1037.8,2538.6 1041.9,2538.5 1045.9,2538.3 1049.8,2538.2 1053.5,2538.1 1057.2,2538.0 1060.7,2537.9 1064.2,2537.8 1067.6,2537.7 1070.8,2537.6 1074.0,2537.5 1077.2,2537.4 1080.2,2537.4 1083.2,2537.3 1086.1,2537.2 1089.0,2537.1 1091.8,2537.0 1094.5,2536.9 1097.2,2536.9 1099.8,2536.8 1102.4,2536.7 1104.9,2536.7 1107.3,2536.6 1109.8,2536.5 1112.1,2536.4 1114.5,2536.4 1116.8,2536.3 1119.0,2536.2 1121.3,2536.2 1123.4,2536.1 1125.6,2536.1 1127.7,2536.0 1129.8,2535.9 1131.8,2535.9 1133.8,2535.8 1135.8,2535.8 1137.7,2535.7 1139.7,2535.7 1141.6,2535.6 1143.4,2535.6 1145.3,2535.5 1147.1,2535.5 1148.9,2535.4 1150.6,2535.4 1152.4,2535.3 1154.1,2535.3 1155.8,2535.2 1157.5,2535.2 1159.1,2535.1 1160.8,2535.1 1162.4,2535.0 1164.0,2535.0 1165.5,2534.9 1167.1,2534.9 1168.6,2534.8 1170.1,2534.8 1171.6,2534.8 1173.1,2534.7 1174.6,2534.7 1176.0,2534.6 1177.5,2534.6 1178.9,2534.6 1180.3,2534.5 1181.7,2534.5 1183.0,2534.4 1184.4,2534.4 1185.7,2534.4 1187.1,2534.3 1188.4,2534.3 1189.7,2534.3 1192.3,2534.2 1194.8,2534.1 1197.3,2534.0 1199.7,2534.0 1202.1,2533.9 1204.4,2533.8 1206.7,2533.8 1209.0,2533.7 1211.2,2533.7 1213.4,2533.6 1215.5,2533.5 1217.6,2533.5 1219.7,2533.4 1221.7,2533.4 1223.7,2533.3 1225.7,2533.2 1227.7,2533.2 1229.6,2533.1 1231.5,2533.1 1233.3,2533.0 1235.2,2533.0 1237.0,2532.9 1238.8,2532.9 1240.6,2532.8 1242.3,2532.8 1244.0,2532.7 1245.7,2532.7 1247.4,2532.6 1249.0,2532.6 1250.7,2532.6 1252.3,2532.5 1253.9,2532.5 1255.4,2532.4 1257.0,2532.4 1258.5,2532.3 1260.1,2532.3 1261.6,2532.3 1263.0,2532.2 1264.5,2532.2 1265.9,2532.1 1267.4,2532.1 1268.8,2532.1 1270.2,2532.0 1271.6,2532.0 1273.0,2531.9 1274.3,2531.9 1275.7,2531.9 1277.0,2531.8 1278.3,2531.8 1279.6,2531.8 1281.5,2531.7 1283.5,2531.6 1285.3,2531.6 1287.2,2531.5 1289.0,2531.5 1290.8,2531.4 1292.6,2531.4 1294.3,2531.3 1296.0,2531.3 1297.7,2531.2 1299.4,2531.2 1301.1,2531.1 1302.7,2531.1 1304.3,2531.0 1305.9,2531.0 1307.5,2530.9 1309.1,2530.9 1310.6,2530.8 1312.1,2530.8 1313.7,2530.7 1315.1,2530.7 1316.6,2530.6 1318.1,2530.6 1319.5,2530.5 1320.9,2530.4 1322.3,2530.4 1323.7,2530.3 1325.1,2530.3 1326.5,2530.2 1327.8,2530.2 1329.2,2530.1 1330.5,2530.0 1331.8,2530.0 1333.5,2529.9 1335.2,2529.8 1336.9,2529.7 1338.5,2529.6 1340.2,2529.5 1341.8,2529.5 1343.4,2529.4 1345.0,2529.3 1346.5,2529.2 1348.1,2529.1 1349.6,2529.0 1351.1,2528.9 1352.6,2528.8 1354.1,2528.7 1355.5,2528.6 1356.9,2528.5 1358.4,2528.4 1359.8,2528.3 1361.2,2528.2 1362.5,2528.1 1363.9,2528.0 1365.2,2527.8 1366.6,2527.7 1367.9,2527.6 1369.2,2527.5 1370.8,2527.4 1372.4,2527.2 1374.0,2527.1 1375.6,2526.9 1377.1,2526.8 1378.6,2526.6 1380.1,2526.5 1381.6,2526.3 1383.1,2526.2 1384.5,2526.0 1386.0,2525.8 1387.4,2525.7 1388.8,2525.5 1390.2,2525.4 1391.6,2525.2 1392.9,2525.0 1394.3,2524.9 1395.6,2524.7 1396.9,2524.5 1398.2,2524.4 1399.5,2524.2 1401.1,2524.0 1402.6,2523.8 1404.1,2523.5 1405.6,2523.3 1407.0,2523.1 1408.5,2522.9 1409.9,2522.7 1411.3,2522.5 1412.7,2522.2 1414.1,2522.0 1415.5,2521.8 1416.8,2521.6 1418.2,2521.3 1419.5,2521.1 1420.8,2520.9 1422.1,2520.6 1423.4,2520.4 1424.9,2520.1 1426.4,2519.9 1427.8,2519.6 1429.3,2519.3 1430.7,2519.0 1432.1,2518.7 1433.5,2518.5 1434.9,2518.2 1436.3,2517.9 1437.6,2517.6 1438.9,2517.3 1440.3,2517.0 1441.6,2516.7 1442.9,2516.4 1444.2,2516.1 1445.4,2515.9 1446.9,2515.5 1448.3,2515.2 1449.7,2514.8 1451.1,2514.5 1452.5,2514.2 1453.8,2513.8 1455.2,2513.5 1456.5,2513.2 1457.8,2512.9 1459.1,2512.6 1460.4,2512.2 1461.7,2511.9 1463.0,2511.6 1464.4,2511.3 1465.8,2510.9 1467.2,2510.6 1468.5,2510.3 1469.9,2510.0 1471.2,2509.7 1472.6,2509.4 1473.9,2509.1 1475.2,2508.8 1476.5,2508.5 1477.7,2508.2 1479.1,2507.9 1480.5,2507.6 1481.9,2507.3 1483.2,2507.0 1484.6,2506.8 1485.9,2506.5 1487.2,2506.3 1488.5,2506.0 1489.8,2505.8 1491.2,2505.5 1492.6,2505.2 1494.0,2505.0 1495.3,2504.7 1496.7,2504.5 1498.0,2504.3 1499.3,2504.1 1500.6,2503.8 1501.9,2503.6 1503.3,2503.4 1504.7,2503.2 1506.1,2503.0 1507.4,2502.8 1508.8,2502.6 1510.1,2502.4 1511.4,2502.2 1512.7,2502.0 1514.1,2501.8 1515.5,2501.6 1516.8,2501.4 1518.2,2501.2 1519.5,2501.1 1520.8,2500.9 1522.1,2500.7 1523.4,2500.6 1524.8,2500.4 1526.2,2500.3 1527.5,2500.1 1528.9,2500.0 1530.2,2499.8 1531.5,2499.7 1532.8,2499.5 1534.2,2499.4 1535.5,2499.3 1536.9,2499.1 1538.2,2499.0 1539.5,2498.9 1540.8,2498.8 1542.2,2498.6 1543.6,2498.5 1544.9,2498.4 1546.3,2498.3 1547.6,2498.2 1548.9,2498.1 1550.3,2498.0 1551.6,2497.9 1553.0,2497.8 1554.3,2497.7 1555.6,2497.6 1556.9,2497.5 1558.3,2497.4 1559.7,2497.3 1561.0,2497.3 1562.3,2497.2 1563.6,2497.1 1564.9,2497.0 1566.3,2497.0 1567.6,2496.9 1569.0,2496.8 1570.3,2496.8 1571.6,2496.7 1573.0,2496.7 1574.3,2496.6 1575.6,2496.6 1576.9,2496.5 1578.3,2496.5 1579.6,2496.4 1581.0,2496.4 1582.3,2496.3 1583.6,2496.3 1584.9,2496.3 1586.2,2496.2 1587.6,2496.2 1588.9,2496.2 1590.2,2496.1 1591.6,2496.1 1592.9,2496.1 1594.2,2496.1 1595.5,2496.1 1596.9,2496.0 1598.2,2496.0 1599.6,2496.0 1600.9,2496.0 1602.2,2496.0 1603.5,2496.0 1604.9,2496.0 1606.2,2496.0 1607.5,2496.0 1608.8,2496.0 1610.1,2496.0 1611.5,2496.0 1612.8,2496.0 1614.1,2496.0 1615.5,2496.0 1616.8,2496.0 1618.1,2496.0 1619.4,2496.0 1620.8,2496.1 1622.1,2496.1 1623.4,2496.1 1624.7,2496.1 1626.0,2496.1 1627.4,2496.1 1628.7,2496.2 1630.0,2496.2 1631.3,2496.2 1632.6,2496.3 1634.0,2496.3 1635.3,2496.3 1636.6,2496.3 1637.9,2496.4 1639.2,2496.4 1640.5,2496.4 1641.9,2496.5 1643.2,2496.5 1644.5,2496.6 1645.8,2496.6 1647.1,2496.6 1648.4,2496.7 1649.8,2496.7 1650.9,2496.8"/>
<path stroke="#000" stroke-width="9.5" d="M306.4,2563.3L370.7,2561.9M396.3,2561.4L423.3,2560.9M448.9,2560.4L460.6,2560.2M486.2,2559.8L489.6,2559.7M605.1,2557.9L669.4,2557.0M695.0,2556.7L722.0,2556.4M747.6,2556.1L759.3,2556.0M784.9,2555.8L788.3,2555.7"/>
<polyline stroke="none" marker-start="url(#msk)" marker-mid="url(#msk)" marker-end="url(#msk)" points="293.6,2563.6 383.5,2561.7 436.1,2560.7 473.4,2560.0 502.4,2559.5 526.0,2559.1 546.0,2558.8 563.4,2558.5 578.6,2558.3 592.3,2558.1 682.2,2556.9 734.8,2556.3 772.1,2555.9 801.1,2555.6 824.7,2555.4 844.7,2555.3 862.1,2555.1 877.3,2555.0 891.0,2554.9 903.4,2554.9 914.7,2554.8 925.0,2554.7 934.6,2554.7 943.6,2554.7 952.0,2554.6 959.8,2554.6 967.2,2554.5 974.3,2554.5 980.9,2554.5 987.2,2554.5 993.3,2554.5 999.0,2554.4 1004.6,2554.4 1009.9,2554.4 1015.0,2554.4 1019.8,2554.4 1024.6,2554.4 1029.1,2554.4 1033.5,2554.4 1037.8,2554.3 1041.9,2554.3 1045.9,2554.3 1049.8,2554.3 1053.5,2554.3 1057.2,2554.3 1060.7,2554.3 1064.2,2554.3 1067.6,2554.3 1070.8,2554.3 1074.0,2554.3 1077.2,2554.3 1080.2,2554.3 1083.2,2554.3 1086.1,2554.3 1089.0,2554.3 1091.8,2554.3 1094.5,2554.3 1097.2,2554.3 1099.8,2554.3 1102.4,2554.3 1104.9,2554.3 1107.3,2554.3 1109.8,2554.3 1112.1,2554.3 1114.5,2554.3 1116.8,2554.3 1119.0,2554.3 1121.3,2554.3 1123.4,2554.3 1125.6,2554.3 1127.7,2554.3 1129.8,2554.3 1131.8,2554.3 1133.8,2554.3 1135.8,2554.3 1137.7,2554.3 1139.7,2554.3 1141.6,2554.3 1143.4,2554.3 1145.3,2554.3 1147.1,2554.3 1148.9,2554.3 1150.6,2554.3 1152.4,2554.3 1154.1,2554.3 1155.8,2554.3 1157.5,2554.3 1159.1,2554.3 1160.8,2554.3 1162.4,2554.3 1164.0,2554.4 1165.5,2554.4 1167.1,2554.4 1168.6,2554.4 1170.1,2554.4 1171.6,2554.4 1173.1,2554.4 1174.6,2554.4 1176.0,2554.4 1177.5,2554.4 1178.9,2554.4 1180.3,2554.4 1181.7,2554.4 1183.0,2554.4 1184.4,2554.4 1185.7,2554.4 1187.1,2554.4 1188.4,2554.4 1189.7,2554.4 1192.3,2554.4 1194.8,2554.4 1197.3,2554.4 1199.7,2554.4 1202.1,2554.5 1204.4,2554.5 1206.7,2554.5 1209.0,2554.5 1211.2,2554.5 1213.4,2554.5 1215.5,2554.5 1217.6,2554.5 1219.7,2554.5 1221.7,2554.5 1223.7,2554.5 1225.7,2554.5 1227.7,2554.5 1229.6,2554.6 1231.5,2554.6 1233.3,2554.6 1235.2,2554.6 1237.0,2554.6 1238.8,2554.6 1240.6,2554.6 1242.3,2554.6 1244.0,2554.6 1245.7,2554.6 1247.4,2554.6 1249.0,2554.6 1250.7,2554.7 1252.3,2554.7 1253.9,2554.7 1255.4,2554.7 1257.0,2554.7 1258.5,2554.7 1260.1,2554.7 1261.6,2554.7 1263.0,2554.7 1264.5,2554.7 1265.9,2554.7 1267.4,2554.7 1268.8,2554.7 1270.2,2554.8 1271.6,2554.8 1273.0,2554.8 1274.3,2554.8 1275.7,2554.8 1277.0,2554.8 1278.3,2554.8 1279.6,2554.8 1281.5,2554.8 1283.5,2554.8 1285.3,2554.8 1287.2,2554.8 1289.0,2554.9 1290.8,2554.9 1292.6,2554.9 1294.3,2554.9 1296.0,2554.9 1297.7,2554.9 1299.4,2554.9 1301.1,2554.9 1302.7,2554.9 1304.3,2555.0 1305.9,2555.0 1307.5,2555.0 1309.1,2555.0 1310.6,2555.0 1312.1,2555.0 1313.7,2555.0 1315.1,2555.0 1316.6,2555.0 1318.1,2555.1 1319.5,2555.1 1320.9,2555.1 1322.3,2555.1 1323.7,2555.1 1325.1,2555.1 1326.5,2555.1 1327.8,2555.1 1329.2,2555.1 1330.5,2555.1 1331.8,2555.1 1333.5,2555.2 1335.2,2555.2 1336.9,2555.2 1338.5,2555.2 1340.2,2555.2 1341.8,2555.2 1343.4,2555.2 1345.0,2555.3 1346.5,2555.3 1348.1,2555.3 1349.6,2555.3 1351.1,2555.3 1352.6,2555.3 1354.1,2555.3 1355.5,2555.3 1356.9,2555.3 1358.4,2555.4 1359.8,2555.4 1361.2,2555.4 1362.5,2555.4 1363.9,2555.4 1365.2,2555.4 1366.6,2555.4 1367.9,2555.4 1369.2,2555.5 1370.8,2555.5 1372.4,2555.5 1374.0,2555.5 1375.6,2555.5 1377.1,2555.5 1378.6,2555.5 1380.1,2555.6 1381.6,2555.6 1383.1,2555.6 1384.5,2555.6 1386.0,2555.6 1387.4,2555.6 1388.8,2555.6 1390.2,2555.6 1391.6,2555.7 1392.9,2555.7 1394.3,2555.7 1395.6,2555.7 1396.9,2555.7 1398.2,2555.7 1399.8,2555.7 1401.3,2555.8 1402.8,2555.8 1404.3,2555.8 1405.8,2555.8 1407.3,2555.8 1408.7,2555.8 1410.1,2555.8 1411.6,2555.9 1413.0,2555.9 1414.3,2555.9 1415.7,2555.9 1417.1,2555.9 1418.4,2555.9 1419.7,2555.9 1421.0,2556.0 1422.3,2556.0 1423.9,2556.0 1425.3,2556.0 1426.8,2556.0 1428.3,2556.0 1429.7,2556.0 1431.1,2556.1 1432.5,2556.1 1433.9,2556.1 1435.3,2556.1 1436.6,2556.1 1438.0,2556.1 1439.3,2556.1 1440.6,2556.2 1441.9,2556.2 1443.4,2556.2 1444.9,2556.2 1446.3,2556.2 1447.8,2556.2 1449.2,2556.3 1450.6,2556.3 1451.9,2556.3 1453.3,2556.3 1454.7,2556.3 1456.0,2556.3 1457.3,2556.4 1458.6,2556.4 1460.1,2556.4 1461.5,2556.4 1463.0,2556.4 1464.4,2556.4 1465.8,2556.5 1467.2,2556.5 1468.5,2556.5 1469.9,2556.5 1471.2,2556.5 1472.6,2556.5 1473.9,2556.6 1475.3,2556.6 1476.7,2556.6 1478.1,2556.6 1479.5,2556.6 1480.9,2556.6 1482.3,2556.7 1483.6,2556.7 1485.0,2556.7 1486.3,2556.7 1487.6,2556.7 1489.0,2556.7 1490.5,2556.8 1491.9,2556.8 1493.2,2556.8 1494.6,2556.8 1496.0,2556.8 1497.3,2556.9 1498.6,2556.9 1499.9,2556.9 1501.4,2556.9 1502.8,2556.9 1504.1,2556.9 1505.5,2557.0 1506.9,2557.0 1508.2,2557.0 1509.5,2557.0 1510.9,2557.0 1512.2,2557.0 1513.6,2557.1 1514.9,2557.1 1516.3,2557.1 1517.7,2557.1 1519.0,2557.1 1520.3,2557.2 1521.6,2557.2 1523.0,2557.2 1524.4,2557.2 1525.8,2557.2 1527.1,2557.3 1528.5,2557.3 1529.8,2557.3 1531.1,2557.3 1532.4,2557.3 1533.8,2557.4 1535.2,2557.4 1536.5,2557.4 1537.8,2557.4 1539.2,2557.4 1540.5,2557.4 1541.9,2557.5 1543.2,2557.5 1544.6,2557.5 1545.9,2557.5 1547.2,2557.5 1548.6,2557.6 1549.9,2557.6 1551.3,2557.6 1552.7,2557.6 1554.0,2557.6 1555.3,2557.7 1556.6,2557.7 1558.0,2557.7 1559.4,2557.7 1560.7,2557.8 1562.0,2557.8 1563.3,2557.8 1564.6,2557.8 1566.0,2557.8 1567.4,2557.9 1568.7,2557.9 1570.0,2557.9 1571.3,2557.9 1572.7,2557.9 1574.0,2558.0 1575.4,2558.0 1576.7,2558.0 1578.0,2558.0 1579.4,2558.0 1580.7,2558.1 1582.0,2558.1 1583.3,2558.1 1584.6,2558.1 1586.0,2558.2 1587.3,2558.2 1588.7,2558.2 1590.0,2558.2 1591.3,2558.2 1592.7,2558.3 1594.0,2558.3 1595.3,2558.3 1596.6,2558.3 1598.0,2558.3 1599.3,2558.4 1600.6,2558.4 1601.9,2558.4 1603.3,2558.4 1604.6,2558.5 1605.9,2558.5 1607.2,2558.5 1608.6,2558.5 1609.9,2558.5 1611.2,2558.6 1612.5,2558.6 1613.8,2558.6 1615.2,2558.6 1616.5,2558.7 1617.8,2558.7 1619.2,2558.7 1620.5,2558.7 1621.8,2558.8 1623.1,2558.8 1624.4,2558.8 1625.8,2558.8 1627.1,2558.8 1628.4,2558.9 1629.7,2558.9 1631.0,2558.9 1632.4,2558.9 1633.7,2559.0 1635.0,2559.0 1636.3,2559.0 1637.7,2559.0 1639.0,2559.1 1640.3,2559.1 1641.6,2559.1 1642.9,2559.1 1644.3,2559.2 1645.6,2559.2 1646.9,2559.2 1648.2,2559.2 1649.5,2559.3 1650.8,2559.3 1650.9,2559.3"/>
<path stroke="#f00" stroke-width="9.5" d="M306.4,2544.2L370.7,2540.5M396.3,2539.5L423.3,2538.8M448.9,2538.3L460.6,2538.1M486.2,2537.7L489.6,2537.7M605.1,2535.2L669.4,2531.9M695.0,2530.0L722.1,2527.3M747.5,2524.3L759.5,2522.7M784.7,2518.7L788.5,2518.1"/>
<polyline stroke="none" marker-start="url(#mcr)" marker-mid="url(#mcr)" marker-end="url(#mcr)" points="293.6,2545.0 383.5,2539.8 436.1,2538.5 473.4,2537.9 502.4,2537.5 526.0,2537.2 546.0,2536.9 563.4,2536.6 578.6,2536.2 592.3,2535.8 682.2,2531.2 734.8,2526.1 772.1,2520.9 801.1,2515.8 824.7,2510.8 844.7,2505.7 862.1,2500.8 877.3,2495.9 891.0,2491.2 903.4,2486.5 914.7,2481.9 925.0,2477.4 934.6,2473.0 943.6,2468.7 952.0,2464.5 959.8,2460.3 967.2,2456.2 974.3,2452.2 980.9,2448.3 987.2,2444.4 993.3,2440.6 999.0,2436.9 1004.6,2433.3 1009.9,2429.7 1015.0,2426.3 1019.8,2422.9 1024.6,2419.6 1029.1,2416.4 1033.5,2413.2 1037.8,2410.1 1041.9,2407.2 1045.9,2404.2 1049.8,2401.4 1053.5,2398.6 1057.2,2395.9 1060.7,2393.3 1064.2,2390.7 1067.6,2388.2 1070.8,2385.7 1074.0,2383.2 1077.2,2380.8 1080.2,2378.3 1083.2,2376.0 1086.1,2373.6 1089.0,2371.3 1091.8,2368.9 1094.5,2366.6 1097.2,2364.3 1099.8,2362.0 1102.4,2359.7 1104.9,2357.4 1107.3,2355.1 1109.8,2352.9 1112.1,2350.6 1114.5,2348.4 1116.8,2346.2 1119.0,2343.9 1121.3,2341.7 1123.4,2339.6 1125.6,2337.4 1127.7,2335.2 1129.8,2333.1 1131.8,2330.9 1133.8,2328.8 1135.8,2326.7 1137.7,2324.6 1139.7,2322.6 1141.6,2320.5 1143.4,2318.5 1145.3,2316.4 1147.1,2314.4 1148.9,2312.4 1150.6,2310.5 1152.4,2308.5 1154.1,2306.5 1155.8,2304.6 1157.5,2302.7 1159.1,2300.8 1160.8,2298.9 1162.4,2297.0 1164.0,2295.1 1165.5,2293.3 1167.1,2291.5 1170.1,2287.8 1173.1,2284.3 1176.0,2280.8 1178.9,2277.3 1181.7,2273.9 1184.4,2270.6 1187.1,2267.4 1189.7,2264.2 1192.3,2261.1 1194.8,2258.0 1197.3,2255.0 1199.7,2252.1 1202.1,2249.3 1204.4,2246.5 1206.7,2243.8 1209.0,2241.2 1211.2,2238.6 1213.4,2236.1 1215.5,2233.7 1217.6,2231.3 1219.7,2229.0 1221.7,2226.8 1223.7,2224.6 1225.7,2222.5 1227.7,2220.4 1229.6,2218.4 1231.5,2216.4 1233.3,2214.5 1235.2,2212.6 1237.0,2210.8 1238.8,2209.1 1240.6,2207.3 1242.3,2205.6 1244.9,2203.2 1247.4,2200.9 1249.9,2198.6 1252.3,2196.4 1254.7,2194.3 1257.0,2192.3 1259.3,2190.3 1261.6,2188.5 1263.8,2186.6 1265.9,2184.9 1268.1,2183.2 1270.2,2181.6 1272.3,2180.0 1274.3,2178.5 1276.3,2177.0 1278.3,2175.6 1280.9,2173.8 1283.5,2172.1 1285.9,2170.5 1288.4,2168.9 1290.8,2167.5 1293.2,2166.1 1295.5,2164.7 1297.7,2163.4 1300.0,2162.2 1302.2,2161.1 1304.3,2160.0 1307.0,2158.7 1309.6,2157.5 1312.1,2156.3 1314.6,2155.2 1317.1,2154.2 1319.5,2153.2 1321.9,2152.3 1324.2,2151.5 1326.5,2150.7 1329.2,2149.8 1331.8,2149.0 1334.4,2148.2 1336.9,2147.5 1339.4,2146.8 1341.8,2146.1 1344.2,2145.6 1346.5,2145.0 1349.2,2144.4 1351.8,2143.9 1354.4,2143.4 1356.9,2142.9 1359.4,2142.5 1361.9,2142.1 1364.2,2141.7 1366.9,2141.3 1369.5,2141.0 1372.1,2140.7 1374.6,2140.4 1377.1,2140.1 1379.5,2139.9 1382.2,2139.7 1384.8,2139.5 1387.4,2139.3 1389.9,2139.1 1392.4,2138.9 1394.8,2138.8 1397.4,2138.7 1400.0,2138.6 1402.6,2138.5 1405.1,2138.4 1407.5,2138.3 1410.1,2138.2 1412.7,2138.1 1415.3,2138.1 1417.7,2138.0 1420.2,2138.0 1422.8,2137.9 1425.3,2137.9 1427.8,2137.8 1430.3,2137.8 1432.7,2137.8 1435.3,2137.7 1437.8,2137.7 1440.3,2137.6 1442.7,2137.6 1445.2,2137.5 1447.8,2137.5 1450.2,2137.4 1452.6,2137.4 1455.2,2137.3 1457.7,2137.3 1460.1,2137.2 1462.7,2137.2 1465.2,2137.1 1467.6,2137.1 1470.0,2137.0 1472.6,2137.0 1475.0,2136.9 1477.4,2136.9 1480.0,2136.8 1482.4,2136.7 1484.8,2136.7 1487.4,2136.6 1489.8,2136.6 1492.2,2136.5 1494.7,2136.5 1497.2,2136.4 1499.6,2136.4 1502.1,2136.3 1504.5,2136.2 1507.0,2136.2 1509.4,2136.1 1511.8,2136.1 1514.3,2136.0 1516.7,2136.0 1519.2,2135.9 1521.6,2135.8 1524.1,2135.8 1526.6,2135.7 1529.0,2135.7 1531.5,2135.6 1534.0,2135.6 1536.4,2135.5 1538.9,2135.5 1541.3,2135.4 1543.8,2135.3 1546.3,2135.3 1548.7,2135.2 1551.1,2135.2 1553.6,2135.1 1556.0,2135.1 1558.5,2135.0 1560.9,2135.0 1563.3,2134.9 1565.8,2134.9 1568.2,2134.9 1570.6,2134.8 1573.1,2134.8 1575.5,2134.7 1577.9,2134.7 1580.4,2134.6 1582.8,2134.6 1585.2,2134.6 1587.6,2134.5 1590.1,2134.5 1592.5,2134.4 1594.9,2134.4 1597.3,2134.4 1599.8,2134.3 1602.2,2134.3 1604.6,2134.3 1607.1,2134.2 1609.5,2134.2 1611.9,2134.2 1614.3,2134.2 1616.8,2134.1 1619.2,2134.1 1621.6,2134.1 1624.1,2134.1 1626.5,2134.1 1629.0,2134.0 1631.4,2134.0 1633.8,2134.0 1636.3,2134.0 1638.7,2134.0 1641.1,2134.0 1643.5,2134.0 1645.9,2134.0 1648.3,2134.0 1650.8,2134.0 1650.9,2134.0"/>
<path stroke="#f00" stroke-width="9.5" d="M306.4,2561.1L370.7,2559.8M396.3,2559.2L423.3,2558.4M448.9,2557.5L460.6,2557.1M486.2,2556.1L489.6,2556.0M605.1,2551.0L669.4,2548.2M695.0,2547.1L722.0,2545.9M747.6,2544.9L759.3,2544.5M784.9,2543.5L788.3,2543.4"/>
<polyline stroke="none" marker-start="url(#mtr)" marker-mid="url(#mtr)" marker-end="url(#mtr)" points="293.6,2561.3 383.5,2559.6 436.1,2558.0 473.4,2556.6 502.4,2555.5 526.0,2554.5 546.0,2553.6 563.4,2552.9 578.6,2552.2 592.3,2551.6 682.2,2547.6 734.8,2545.4 772.1,2544.0 801.1,2543.0 824.7,2542.2 844.7,2541.7 862.1,2541.2 877.3,2540.9 891.0,2540.6 903.4,2540.4 914.7,2540.2 925.0,2540.1 934.6,2539.9 943.6,2539.8 952.0,2539.6 959.8,2539.4 967.2,2539.3 974.3,2539.1 980.9,2538.9 987.2,2538.7 993.3,2538.5 999.0,2538.3 1004.6,2538.0 1009.9,2537.8 1015.0,2537.6 1019.8,2537.3 1024.6,2537.1 1029.1,2536.8 1033.5,2536.5 1037.8,2536.2 1041.9,2536.0 1045.9,2535.7 1049.8,2535.4 1053.5,2535.1 1057.2,2534.8 1060.7,2534.5 1064.2,2534.2 1067.6,2533.9 1070.8,2533.5 1074.0,2533.2 1077.2,2532.9 1080.2,2532.6 1083.2,2532.2 1086.1,2531.9 1089.0,2531.6 1091.8,2531.2 1094.5,2530.9 1097.2,2530.6 1099.8,2530.2 1102.4,2529.9 1104.9,2529.5 1107.3,2529.2 1109.8,2528.8 1112.1,2528.5 1114.5,2528.1 1116.8,2527.8 1119.0,2527.4 1121.3,2527.0 1123.4,2526.7 1125.6,2526.3 1127.7,2526.0 1129.8,2525.6 1131.8,2525.3 1133.8,2524.9 1135.8,2524.5 1137.7,2524.2 1139.7,2523.8 1141.6,2523.5 1143.4,2523.1 1145.3,2522.7 1147.1,2522.4 1148.9,2522.0 1150.6,2521.6 1152.4,2521.3 1154.1,2520.9 1155.8,2520.5 1157.5,2520.2 1159.1,2519.8 1160.8,2519.5 1162.4,2519.1 1164.0,2518.7 1165.5,2518.4 1167.1,2518.0 1168.6,2517.6 1170.1,2517.3 1171.6,2516.9 1173.1,2516.6 1174.6,2516.2 1176.0,2515.8 1177.5,2515.5 1178.9,2515.1 1180.3,2514.7 1181.7,2514.4 1183.0,2514.0 1184.4,2513.7 1185.7,2513.3 1187.1,2512.9 1188.4,2512.6 1189.7,2512.2 1191.0,2511.9 1192.3,2511.5 1193.5,2511.1 1194.8,2510.8 1197.3,2510.1 1199.7,2509.4 1202.1,2508.6 1204.4,2507.9 1206.7,2507.2 1209.0,2506.5 1211.2,2505.8 1213.4,2505.1 1215.5,2504.4 1217.6,2503.8 1219.7,2503.1 1221.7,2502.4 1223.7,2501.7 1225.7,2501.0 1227.7,2500.3 1229.6,2499.7 1231.5,2499.0 1233.3,2498.3 1235.2,2497.7 1237.0,2497.0 1238.8,2496.4 1240.6,2495.7 1242.3,2495.1 1244.0,2494.4 1245.7,2493.8 1247.4,2493.1 1249.0,2492.5 1250.7,2491.9 1252.3,2491.2 1253.9,2490.6 1255.4,2490.0 1257.0,2489.4 1258.5,2488.8 1260.1,2488.1 1261.6,2487.5 1263.0,2486.9 1264.5,2486.3 1265.9,2485.7 1267.4,2485.1 1268.8,2484.5 1270.2,2483.9 1271.6,2483.4 1273.0,2482.8 1274.3,2482.2 1275.7,2481.6 1277.0,2481.0 1278.3,2480.5 1279.6,2479.9 1280.9,2479.3 1282.2,2478.8 1283.5,2478.2 1284.7,2477.6 1285.9,2477.1 1287.2,2476.5 1288.4,2476.0 1289.6,2475.4 1290.8,2474.9 1292.0,2474.3 1293.7,2473.5 1295.5,2472.7 1297.2,2471.9 1298.9,2471.1 1300.5,2470.4 1302.2,2469.6 1303.8,2468.8 1305.4,2468.0 1307.0,2467.3 1308.6,2466.5 1310.1,2465.8 1311.6,2465.0 1313.2,2464.3 1314.6,2463.5 1316.1,2462.8 1317.6,2462.1 1319.0,2461.3 1320.5,2460.6 1321.9,2459.9 1323.3,2459.2 1324.6,2458.5 1326.0,2457.8 1327.4,2457.1 1328.7,2456.4 1330.0,2455.7 1331.3,2455.0 1332.6,2454.4 1333.9,2453.7 1335.2,2453.0 1336.5,2452.3 1337.7,2451.7 1339.0,2451.0 1340.2,2450.4 1341.4,2449.7 1342.6,2449.1 1343.8,2448.4 1345.0,2447.8 1346.1,2447.2 1347.3,2446.5 1348.5,2445.9 1350.0,2445.1 1351.5,2444.2 1353.0,2443.4 1354.4,2442.6 1355.9,2441.8 1357.3,2441.0 1358.7,2440.2 1360.1,2439.4 1361.5,2438.6 1362.9,2437.9 1364.2,2437.1 1365.6,2436.3 1366.9,2435.5 1368.2,2434.8 1369.5,2434.0 1370.8,2433.3 1372.1,2432.5 1373.4,2431.8 1374.6,2431.1 1375.9,2430.4 1377.1,2429.6 1378.3,2428.9 1379.5,2428.2 1380.7,2427.5 1381.9,2426.8 1383.1,2426.1 1384.2,2425.4 1385.4,2424.7 1386.5,2424.0 1387.7,2423.3 1388.8,2422.7 1389.9,2422.0 1391.3,2421.1 1392.6,2420.3 1394.0,2419.5 1395.3,2418.7 1396.7,2417.9 1398.0,2417.1 1399.3,2416.3 1400.5,2415.5 1401.8,2414.7 1403.1,2413.9 1404.3,2413.1 1405.6,2412.3 1406.8,2411.6 1408.0,2410.8 1409.2,2410.0 1410.4,2409.3 1411.6,2408.6 1412.7,2407.8 1413.9,2407.1 1415.0,2406.4 1416.2,2405.6 1417.3,2404.9 1418.4,2404.2 1419.5,2403.5 1420.6,2402.8 1421.9,2402.0 1423.2,2401.1 1424.5,2400.3 1425.8,2399.5 1427.0,2398.7 1428.3,2397.9 1429.5,2397.1 1430.7,2396.3 1431.9,2395.6 1433.1,2394.8 1434.3,2394.1 1435.5,2393.3 1436.6,2392.6 1437.8,2391.8 1438.9,2391.1 1440.1,2390.4 1441.2,2389.7 1442.3,2388.9 1443.4,2388.2 1444.7,2387.4 1446.0,2386.6 1447.2,2385.8 1448.5,2385.1 1449.7,2384.3 1450.9,2383.5 1452.1,2382.8 1453.3,2382.0 1454.5,2381.3 1455.7,2380.5 1456.8,2379.8 1458.0,2379.1 1459.1,2378.4 1460.3,2377.7 1461.4,2377.0 1462.5,2376.3 1463.8,2375.5 1465.0,2374.8 1466.2,2374.0 1467.5,2373.3 1468.7,2372.5 1469.9,2371.8 1471.1,2371.1 1472.3,2370.4 1473.4,2369.7 1474.6,2369.0 1475.7,2368.3 1476.9,2367.7 1478.0,2367.0 1479.3,2366.3 1480.5,2365.6 1481.7,2364.8 1483.0,2364.1 1484.2,2363.4 1485.4,2362.8 1486.6,2362.1 1487.7,2361.4 1488.9,2360.8 1490.1,2360.1 1491.2,2359.5 1492.5,2358.8 1493.7,2358.1 1495.0,2357.5 1496.2,2356.8 1497.4,2356.2 1498.6,2355.5 1499.8,2354.9 1501.0,2354.3 1502.2,2353.7 1503.3,2353.1 1504.6,2352.4 1505.9,2351.8 1507.1,2351.2 1508.3,2350.6 1509.5,2350.0 1510.7,2349.4 1511.9,2348.8 1513.1,2348.2 1514.4,2347.6 1515.7,2347.0 1516.9,2346.4 1518.2,2345.9 1519.4,2345.3 1520.6,2344.8 1521.8,2344.2 1523.0,2343.7 1524.3,2343.1 1525.6,2342.6 1526.8,2342.1 1528.1,2341.5 1529.3,2341.0 1530.6,2340.5 1531.8,2340.1 1533.1,2339.6 1534.3,2339.1 1535.6,2338.6 1536.9,2338.1 1538.1,2337.6 1539.3,2337.2 1540.7,2336.7 1541.9,2336.3 1543.2,2335.8 1544.5,2335.4 1545.8,2335.0 1547.0,2334.6 1548.3,2334.2 1549.6,2333.8 1550.9,2333.4 1552.2,2333.0 1553.4,2332.6 1554.7,2332.3 1556.0,2331.9 1557.3,2331.5 1558.6,2331.2 1559.9,2330.9 1561.1,2330.5 1562.5,2330.2 1563.8,2329.9 1565.1,2329.6 1566.4,2329.3 1567.6,2329.0 1569.0,2328.7 1570.3,2328.4 1571.6,2328.1 1572.9,2327.9 1574.2,2327.6 1575.5,2327.4 1576.8,2327.1 1578.1,2326.9 1579.4,2326.6 1580.8,2326.4 1582.1,2326.2 1583.4,2326.0 1584.7,2325.8 1586.0,2325.6 1587.3,2325.4 1588.7,2325.2 1590.0,2325.0 1591.3,2324.8 1592.6,2324.7 1593.9,2324.5 1595.3,2324.4 1596.6,2324.2 1597.9,2324.1 1599.2,2324.0 1600.6,2323.8 1601.9,2323.7 1603.2,2323.6 1604.5,2323.5 1605.9,2323.4 1607.2,2323.3 1608.5,2323.2 1609.8,2323.1 1611.1,2323.0 1612.5,2323.0 1613.8,2322.9 1615.1,2322.8 1616.4,2322.8 1617.8,2322.7 1619.1,2322.7 1620.4,2322.7 1621.7,2322.6 1623.1,2322.6 1624.4,2322.6 1625.7,2322.6 1627.1,2322.6 1628.4,2322.5 1629.7,2322.5 1631.0,2322.6 1632.3,2322.6 1633.7,2322.6 1635.0,2322.6 1636.3,2322.6 1637.6,2322.6 1638.9,2322.7 1640.3,2322.7 1641.6,2322.8 1642.9,2322.8 1644.2,2322.9 1645.5,2322.9 1646.8,2323.0 1648.2,2323.0 1649.5,2323.1 1650.8,2323.2 1650.9,2323.2"/>
<path stroke="#f00" stroke-width="9.5" d="M306.4,2561.1L370.7,2562.8M396.3,2563.2L423.3,2563.3M448.9,2563.3L460.6,2563.2M486.2,2562.9L489.6,2562.8M605.1,2559.5L669.4,2556.7M695.0,2555.4L722.0,2554.0M747.6,2552.7L759.4,2552.0M784.9,2550.6L788.3,2550.4"/>
<polyline stroke="none" marker-start="url(#msr)" marker-mid="url(#msr)" marker-end="url(#msr)" points="293.6,2560.8 383.5,2563.2 436.1,2563.4 473.4,2563.1 502.4,2562.6 526.0,2562.1 546.0,2561.6 563.4,2561.0 578.6,2560.5 592.3,2560.0 682.2,2556.1 734.8,2553.4 772.1,2551.3 801.1,2549.7 824.7,2548.4 844.7,2547.3 862.1,2546.4 877.3,2545.6 891.0,2544.9 903.4,2544.3 914.7,2543.8 925.0,2543.3 934.6,2542.9 943.6,2542.5 952.0,2542.2 959.8,2541.9 967.2,2541.6 974.3,2541.4 980.9,2541.2 987.2,2541.0 993.3,2540.8 999.0,2540.6 1004.6,2540.5 1009.9,2540.3 1015.0,2540.2 1019.8,2540.1 1024.6,2540.0 1029.1,2539.9 1033.5,2539.8 1037.8,2539.7 1041.9,2539.6 1045.9,2539.6 1049.8,2539.5 1053.5,2539.5 1057.2,2539.4 1060.7,2539.4 1064.2,2539.4 1067.6,2539.3 1070.8,2539.3 1074.0,2539.3 1077.2,2539.3 1080.2,2539.3 1083.2,2539.3 1086.1,2539.3 1089.0,2539.3 1091.8,2539.3 1094.5,2539.3 1097.2,2539.3 1099.8,2539.3 1102.4,2539.3 1104.9,2539.3 1107.3,2539.3 1109.8,2539.3 1112.1,2539.3 1114.5,2539.4 1116.8,2539.4 1119.0,2539.4 1121.3,2539.4 1123.4,2539.5 1125.6,2539.5 1127.7,2539.5 1129.8,2539.5 1131.8,2539.6 1133.8,2539.6 1135.8,2539.6 1137.7,2539.7 1139.7,2539.7 1141.6,2539.7 1143.4,2539.8 1145.3,2539.8 1147.1,2539.8 1148.9,2539.9 1150.6,2539.9 1152.4,2539.9 1154.1,2540.0 1155.8,2540.0 1157.5,2540.0 1159.1,2540.1 1160.8,2540.1 1162.4,2540.1 1164.0,2540.2 1165.5,2540.2 1167.1,2540.3 1168.6,2540.3 1170.1,2540.3 1171.6,2540.4 1173.1,2540.4 1174.6,2540.4 1176.0,2540.5 1177.5,2540.5 1178.9,2540.5 1180.3,2540.6 1181.7,2540.6 1183.0,2540.6 1184.4,2540.7 1185.7,2540.7 1187.1,2540.7 1188.4,2540.8 1189.7,2540.8 1192.3,2540.9 1194.8,2541.0 1197.3,2541.0 1199.7,2541.1 1202.1,2541.2 1204.4,2541.2 1206.7,2541.3 1209.0,2541.3 1211.2,2541.4 1213.4,2541.5 1215.5,2541.5 1217.6,2541.6 1219.7,2541.7 1221.7,2541.7 1223.7,2541.8 1225.7,2541.8 1227.7,2541.9 1229.6,2541.9 1231.5,2542.0 1233.3,2542.0 1235.2,2542.1 1237.0,2542.1 1238.8,2542.2 1240.6,2542.3 1242.3,2542.3 1244.0,2542.4 1245.7,2542.4 1247.4,2542.4 1249.0,2542.5 1250.7,2542.5 1252.3,2542.6 1253.9,2542.6 1255.4,2542.7 1257.0,2542.7 1258.5,2542.8 1260.1,2542.8 1261.6,2542.8 1263.0,2542.9 1264.5,2542.9 1265.9,2543.0 1267.4,2543.0 1268.8,2543.0 1270.2,2543.1 1271.6,2543.1 1273.0,2543.1 1274.3,2543.2 1275.7,2543.2 1277.0,2543.2 1278.3,2543.3 1279.6,2543.3 1281.5,2543.4 1283.5,2543.4 1285.3,2543.5 1287.2,2543.5 1289.0,2543.5 1290.8,2543.6 1292.6,2543.6 1294.3,2543.7 1296.0,2543.7 1297.7,2543.7 1299.4,2543.8 1301.1,2543.8 1302.7,2543.9 1304.3,2543.9 1305.9,2543.9 1307.5,2543.9 1309.1,2544.0 1310.6,2544.0 1312.1,2544.0 1313.7,2544.1 1315.1,2544.1 1316.6,2544.1 1318.1,2544.1 1319.5,2544.2 1320.9,2544.2 1322.3,2544.2 1323.7,2544.2 1325.1,2544.3 1326.5,2544.3 1327.8,2544.3 1329.2,2544.3 1330.5,2544.3 1331.8,2544.4 1333.5,2544.4 1335.2,2544.4 1336.9,2544.4 1338.5,2544.4 1340.2,2544.5 1341.8,2544.5 1343.4,2544.5 1345.0,2544.5 1346.5,2544.5 1348.1,2544.5 1349.6,2544.5 1351.1,2544.6 1352.6,2544.6 1354.1,2544.6 1355.5,2544.6 1356.9,2544.6 1358.4,2544.6 1359.8,2544.6 1361.2,2544.6 1362.5,2544.6 1363.9,2544.6 1365.2,2544.6 1366.6,2544.6 1367.9,2544.6 1369.2,2544.6 1370.8,2544.6 1372.4,2544.6 1374.0,2544.6 1375.6,2544.6 1377.1,2544.6 1378.6,2544.6 1380.1,2544.6 1381.6,2544.6 1383.1,2544.6 1384.5,2544.6 1386.0,2544.6 1387.4,2544.5 1388.8,2544.5 1390.2,2544.5 1391.6,2544.5 1392.9,2544.5 1394.3,2544.5 1395.6,2544.5 1396.9,2544.4 1398.2,2544.4 1399.8,2544.4 1401.3,2544.4 1402.8,2544.4 1404.3,2544.3 1405.8,2544.3 1407.3,2544.3 1408.7,2544.3 1410.1,2544.2 1411.6,2544.2 1413.0,2544.2 1414.3,2544.1 1415.7,2544.1 1417.1,2544.1 1418.4,2544.1 1419.7,2544.0 1421.0,2544.0 1422.3,2544.0 1423.9,2543.9 1425.3,2543.9 1426.8,2543.8 1428.3,2543.8 1429.7,2543.7 1431.1,2543.7 1432.5,2543.7 1433.9,2543.6 1435.3,2543.6 1436.6,2543.5 1438.0,2543.5 1439.3,2543.4 1440.6,2543.4 1441.9,2543.3 1443.4,2543.3 1444.9,2543.2 1446.3,2543.2 1447.8,2543.1 1449.2,2543.0 1450.6,2543.0 1451.9,2542.9 1453.3,2542.9 1454.7,2542.8 1456.0,2542.7 1457.3,2542.7 1458.6,2542.6 1459.9,2542.5 1461.4,2542.5 1462.8,2542.4 1464.2,2542.3 1465.6,2542.3 1467.0,2542.2 1468.4,2542.1 1469.7,2542.0 1471.1,2541.9 1472.4,2541.9 1473.7,2541.8 1475.0,2541.7 1476.5,2541.6 1477.9,2541.5 1479.3,2541.5 1480.6,2541.4 1482.0,2541.3 1483.4,2541.2 1484.7,2541.1 1486.0,2541.0 1487.4,2540.9 1488.7,2540.8 1490.1,2540.7 1491.5,2540.6 1492.9,2540.5 1494.2,2540.4 1495.6,2540.3 1496.9,2540.2 1498.3,2540.1 1499.6,2540.0 1500.9,2539.9 1502.3,2539.8 1503.7,2539.7 1505.1,2539.6 1506.4,2539.4 1507.8,2539.3 1509.1,2539.2 1510.4,2539.1 1511.7,2539.0 1513.1,2538.9 1514.5,2538.7 1515.9,2538.6 1517.2,2538.5 1518.6,2538.4 1519.9,2538.2 1521.2,2538.1 1522.5,2538.0 1523.9,2537.8 1525.3,2537.7 1526.7,2537.6 1528.0,2537.4 1529.3,2537.3 1530.7,2537.2 1532.0,2537.0 1533.3,2536.9 1534.7,2536.7 1536.1,2536.6 1537.4,2536.4 1538.7,2536.3 1540.0,2536.1 1541.3,2536.0 1542.7,2535.8 1544.1,2535.7 1545.4,2535.5 1546.7,2535.3 1548.1,2535.2 1549.4,2535.0 1550.7,2534.9 1552.0,2534.7 1553.4,2534.5 1554.7,2534.4 1556.0,2534.2 1557.3,2534.0 1558.6,2533.9 1560.0,2533.7 1561.3,2533.5 1562.6,2533.3 1563.9,2533.1 1565.2,2533.0 1566.6,2532.8 1567.9,2532.6 1569.3,2532.4 1570.6,2532.2 1571.9,2532.0 1573.2,2531.8 1574.5,2531.6 1575.8,2531.4 1577.1,2531.2 1578.4,2531.1 1579.7,2530.9 1581.1,2530.6 1582.4,2530.4 1583.7,2530.2 1585.0,2530.0 1586.3,2529.8 1587.6,2529.6 1589.0,2529.4 1590.3,2529.2 1591.6,2529.0 1592.9,2528.8 1594.2,2528.5 1595.5,2528.3 1596.8,2528.1 1598.1,2527.9 1599.5,2527.6 1600.8,2527.4 1602.1,2527.2 1603.4,2527.0 1604.7,2526.7 1606.0,2526.5 1607.3,2526.2 1608.6,2526.0 1609.9,2525.8 1611.3,2525.5 1612.6,2525.3 1613.8,2525.0 1615.2,2524.8 1616.5,2524.5 1617.8,2524.3 1619.1,2524.0 1620.4,2523.8 1621.7,2523.5 1623.0,2523.3 1624.3,2523.0 1625.6,2522.7 1626.9,2522.5 1628.2,2522.2 1629.4,2521.9 1630.7,2521.7 1632.0,2521.4 1633.3,2521.1 1634.6,2520.8 1635.9,2520.6 1637.2,2520.3 1638.5,2520.0 1639.8,2519.7 1641.1,2519.4 1642.3,2519.2 1643.6,2518.9 1644.9,2518.6 1646.2,2518.3 1647.5,2518.0 1648.8,2517.7 1650.1,2517.4 1650.9,2517.2"/>
<path stroke="#00f" stroke-width="9.5" d="M306.4,2544.2L370.8,2538.8M396.3,2537.0L423.3,2535.5M448.9,2534.0L460.7,2533.4M486.2,2531.8L489.6,2531.6M604.9,2520.1L669.6,2508.7M694.6,2503.1L722.5,2495.4M746.9,2487.8L760.1,2483.2M784.0,2474.0L789.3,2471.8M812.7,2461.4L813.2,2461.2"/>
<polyline stroke="none" marker-start="url(#mcb)" marker-mid="url(#mcb)" marker-end="url(#mcb)" points="293.6,2545.2 383.5,2537.8 436.1,2534.7 473.4,2532.6 502.4,2530.8 526.0,2529.0 546.0,2527.3 563.4,2525.7 578.6,2524.0 592.3,2522.3 682.2,2506.4 734.8,2492.0 772.1,2478.9 801.1,2466.9 824.7,2455.8 844.7,2445.3 862.1,2435.4 877.3,2426.0 891.0,2417.1 903.4,2408.5 914.7,2400.3 925.0,2392.3 934.6,2384.6 943.6,2377.2 952.0,2370.0 959.8,2363.0 967.2,2356.2 974.3,2349.5 980.9,2343.1 987.2,2336.8 993.3,2330.6 999.0,2324.6 1004.6,2318.6 1009.9,2312.8 1015.0,2307.0 1019.8,2301.3 1024.6,2295.6 1029.1,2290.0 1033.5,2284.5 1037.8,2279.0 1041.9,2273.6 1045.9,2268.1 1049.8,2262.8 1053.5,2257.4 1057.2,2252.1 1060.7,2246.8 1064.2,2241.6 1067.6,2236.4 1070.8,2231.2 1074.0,2226.0 1077.2,2220.9 1080.2,2215.8 1083.2,2210.7 1086.1,2205.7 1089.0,2200.7 1091.8,2195.7 1094.5,2190.9 1097.2,2186.0 1099.8,2181.3 1102.4,2176.5 1104.9,2171.9 1107.3,2167.3 1109.8,2162.7 1112.1,2158.2 1114.5,2153.8 1116.8,2149.5 1119.0,2145.2 1121.3,2140.9 1123.4,2136.7 1125.6,2132.6 1127.7,2128.6 1129.8,2124.6 1131.8,2120.6 1133.8,2116.8 1135.8,2112.9 1137.7,2109.2 1139.7,2105.4 1141.6,2101.8 1143.4,2098.1 1145.3,2094.6 1147.1,2091.0 1148.9,2087.5 1150.6,2084.1 1152.4,2080.7 1154.1,2077.3 1155.8,2073.9 1157.5,2070.6 1159.1,2067.3 1160.8,2064.1 1162.4,2060.8 1164.0,2057.6 1165.5,2054.5 1167.1,2051.3 1168.6,2048.2 1170.1,2045.1 1171.6,2042.1 1173.1,2039.1 1174.6,2036.0 1176.0,2033.1 1177.5,2030.1 1178.9,2027.2 1180.3,2024.3 1181.7,2021.4 1183.0,2018.5 1184.4,2015.7 1185.7,2012.8 1187.1,2010.0 1188.4,2007.3 1189.7,2004.5 1191.0,2001.8 1192.3,1999.1 1193.5,1996.4 1194.8,1993.7 1196.0,1991.0 1197.3,1988.4 1198.5,1985.8 1199.7,1983.2 1200.9,1980.6 1202.1,1978.1 1203.2,1975.5 1204.4,1973.0 1205.6,1970.6 1206.7,1968.1 1207.8,1965.7 1209.0,1963.3 1210.1,1960.9 1211.2,1958.6 1212.3,1956.2 1213.4,1953.9 1214.4,1951.7 1215.5,1949.4 1216.6,1947.2 1217.6,1945.0 1218.6,1942.8 1220.7,1938.5 1222.7,1934.3 1224.7,1930.3 1226.7,1926.3 1228.6,1922.4 1230.5,1918.6 1232.4,1914.9 1234.3,1911.4 1236.1,1907.9 1237.9,1904.5 1239.7,1901.2 1241.4,1898.0 1243.2,1894.9 1244.9,1891.9 1246.6,1888.9 1248.2,1886.1 1249.9,1883.3 1251.5,1880.6 1253.1,1878.0 1254.7,1875.5 1256.2,1873.1 1257.8,1870.7 1259.3,1868.4 1260.8,1866.1 1262.3,1863.9 1263.8,1861.8 1265.2,1859.8 1266.7,1857.7 1268.1,1855.8 1270.2,1853.0 1272.3,1850.3 1274.3,1847.7 1276.3,1845.2 1278.3,1842.8 1280.3,1840.5 1282.2,1838.3 1284.1,1836.2 1285.9,1834.2 1287.8,1832.3 1289.6,1830.4 1291.4,1828.6 1293.2,1826.9 1295.5,1824.7 1297.7,1822.7 1300.0,1820.8 1302.2,1818.9 1304.3,1817.2 1306.5,1815.6 1308.6,1814.0 1310.6,1812.6 1312.7,1811.2 1315.1,1809.6 1317.6,1808.2 1320.0,1806.8 1322.3,1805.5 1324.6,1804.4 1326.9,1803.3 1329.2,1802.3 1331.8,1801.2 1334.4,1800.2 1336.9,1799.3 1339.4,1798.5 1341.8,1797.8 1344.2,1797.1 1346.5,1796.4 1349.2,1795.7 1351.8,1795.1 1354.4,1794.6 1356.9,1794.0 1359.4,1793.6 1361.9,1793.1 1364.2,1792.7 1366.9,1792.2 1369.5,1791.8 1372.1,1791.4 1374.6,1791.0 1377.1,1790.6 1379.5,1790.2 1381.9,1789.9 1384.5,1789.5 1387.1,1789.1 1389.6,1788.7 1392.1,1788.3 1394.5,1787.9 1396.9,1787.6 1399.5,1787.2 1402.1,1786.8 1404.6,1786.5 1407.0,1786.1 1409.4,1785.8 1412.0,1785.4 1414.6,1785.1 1417.1,1784.7 1419.5,1784.4 1421.9,1784.1 1424.5,1783.8 1427.0,1783.5 1429.5,1783.1 1431.9,1782.8 1434.3,1782.6 1436.8,1782.3 1439.3,1782.0 1441.8,1781.7 1444.2,1781.4 1446.7,1781.2 1449.2,1780.9 1451.6,1780.6 1454.0,1780.4 1456.5,1780.2 1459.0,1779.9 1461.4,1779.7 1463.9,1779.5 1466.4,1779.3 1468.8,1779.0 1471.4,1778.8 1473.9,1778.6 1476.3,1778.4 1478.7,1778.3 1481.2,1778.1 1483.6,1777.9 1486.0,1777.7 1488.5,1777.6 1491.0,1777.4 1493.5,1777.3 1496.0,1777.1 1498.4,1777.0 1500.9,1776.8 1503.3,1776.7 1505.7,1776.5 1508.2,1776.4 1510.6,1776.3 1513.1,1776.2 1515.6,1776.1 1518.1,1775.9 1520.5,1775.8 1522.9,1775.7 1525.4,1775.6 1527.8,1775.5 1530.3,1775.5 1532.7,1775.4 1535.2,1775.3 1537.6,1775.2 1540.0,1775.1 1542.5,1775.0 1544.9,1775.0 1547.3,1774.9 1549.8,1774.8 1552.2,1774.8 1554.6,1774.7 1557.1,1774.6 1559.5,1774.6 1562.0,1774.5 1564.4,1774.5 1566.8,1774.4 1569.3,1774.3 1571.7,1774.3 1574.1,1774.2 1576.6,1774.2 1579.0,1774.1 1581.4,1774.1 1583.8,1774.1 1586.2,1774.0 1588.7,1774.0 1591.1,1773.9 1593.5,1773.9 1595.9,1773.9 1598.4,1773.8 1600.8,1773.8 1603.2,1773.7 1605.6,1773.7 1608.1,1773.7 1610.5,1773.6 1612.9,1773.6 1615.3,1773.5 1617.7,1773.5 1620.1,1773.5 1622.6,1773.4 1625.0,1773.4 1627.4,1773.3 1629.8,1773.3 1632.2,1773.3 1634.7,1773.2 1637.1,1773.2 1639.5,1773.1 1641.9,1773.1 1644.3,1773.0 1646.7,1773.0 1649.2,1772.9 1651.6,1772.9 1654.0,1772.8 1656.4,1772.8 1658.8,1772.7 1661.2,1772.7 1663.6,1772.6 1666.1,1772.5 1668.5,1772.5 1670.9,1772.4 1673.3,1772.3 1674.6,1772.3"/>
<path stroke="#00f" stroke-width="9.5" d="M306.4,2561.0L370.7,2560.1M396.3,2559.4L423.3,2558.3M448.9,2557.0L460.7,2556.4M486.2,2554.8L489.6,2554.6M605.0,2545.5L669.5,2539.6M695.0,2537.3L722.1,2534.8M747.6,2532.5L759.4,2531.4M784.9,2529.1L788.3,2528.8"/>
<polyline stroke="none" marker-start="url(#mtb)" marker-mid="url(#mtb)" marker-end="url(#mtb)" points="293.6,2561.1 383.5,2560.0 436.1,2557.8 473.4,2555.6 502.4,2553.7 526.0,2552.0 546.0,2550.5 563.4,2549.1 578.6,2547.8 592.3,2546.6 682.2,2538.5 734.8,2533.6 772.1,2530.2 801.1,2527.7 824.7,2525.7 844.7,2524.0 862.1,2522.5 877.3,2521.1 891.0,2519.8 903.4,2518.5 914.7,2517.3 925.0,2516.0 934.6,2514.8 943.6,2513.7 952.0,2512.5 959.8,2511.3 967.2,2510.2 974.3,2509.1 980.9,2508.0 987.2,2506.9 993.3,2505.8 999.0,2504.7 1004.6,2503.6 1009.9,2502.5 1015.0,2501.4 1019.8,2500.4 1024.6,2499.3 1029.1,2498.3 1033.5,2497.2 1037.8,2496.2 1041.9,2495.2 1045.9,2494.2 1049.8,2493.2 1053.5,2492.2 1057.2,2491.2 1060.7,2490.2 1064.2,2489.2 1067.6,2488.2 1070.8,2487.2 1074.0,2486.3 1077.2,2485.3 1080.2,2484.4 1083.2,2483.4 1086.1,2482.5 1089.0,2481.5 1091.8,2480.6 1094.5,2479.7 1097.2,2478.8 1099.8,2477.9 1102.4,2477.0 1104.9,2476.1 1107.3,2475.2 1109.8,2474.3 1112.1,2473.4 1114.5,2472.5 1116.8,2471.6 1119.0,2470.7 1121.3,2469.9 1123.4,2469.0 1125.6,2468.1 1127.7,2467.3 1129.8,2466.4 1131.8,2465.6 1133.8,2464.8 1135.8,2463.9 1137.7,2463.1 1139.7,2462.3 1141.6,2461.4 1143.4,2460.6 1145.3,2459.8 1147.1,2459.0 1148.9,2458.2 1150.6,2457.4 1152.4,2456.6 1154.1,2455.8 1155.8,2455.0 1157.5,2454.2 1159.1,2453.4 1160.8,2452.6 1162.4,2451.9 1164.0,2451.1 1165.5,2450.3 1167.1,2449.5 1168.6,2448.8 1170.1,2448.0 1171.6,2447.3 1173.1,2446.5 1174.6,2445.8 1176.0,2445.0 1177.5,2444.3 1178.9,2443.5 1180.3,2442.8 1181.7,2442.0 1183.0,2441.3 1184.4,2440.6 1185.7,2439.9 1187.1,2439.1 1188.4,2438.4 1189.7,2437.7 1191.0,2437.0 1192.3,2436.3 1193.5,2435.6 1194.8,2434.9 1196.0,2434.2 1197.3,2433.5 1198.5,2432.8 1199.7,2432.1 1200.9,2431.4 1202.1,2430.7 1203.2,2430.0 1204.4,2429.3 1205.6,2428.6 1206.7,2428.0 1207.8,2427.3 1209.0,2426.6 1210.1,2425.9 1212.3,2424.6 1214.4,2423.3 1216.6,2422.0 1218.6,2420.6 1220.7,2419.3 1222.7,2418.1 1224.7,2416.8 1226.7,2415.5 1228.6,2414.2 1230.5,2413.0 1232.4,2411.7 1234.3,2410.5 1236.1,2409.3 1237.9,2408.0 1239.7,2406.8 1241.4,2405.6 1243.2,2404.4 1244.9,2403.2 1246.6,2402.0 1248.2,2400.9 1249.9,2399.7 1251.5,2398.5 1253.1,2397.4 1254.7,2396.2 1256.2,2395.1 1257.8,2393.9 1259.3,2392.8 1260.8,2391.7 1262.3,2390.5 1263.8,2389.4 1265.2,2388.3 1266.7,2387.2 1268.1,2386.1 1269.5,2385.0 1270.9,2383.9 1272.3,2382.9 1273.6,2381.8 1275.0,2380.7 1276.3,2379.7 1277.7,2378.6 1279.0,2377.5 1280.3,2376.5 1281.5,2375.5 1282.8,2374.4 1284.1,2373.4 1285.3,2372.4 1286.6,2371.3 1287.8,2370.3 1289.0,2369.3 1290.2,2368.3 1291.4,2367.3 1292.6,2366.3 1293.7,2365.3 1294.9,2364.3 1296.0,2363.3 1297.2,2362.3 1298.3,2361.4 1299.4,2360.4 1300.5,2359.4 1301.6,2358.5 1302.7,2357.5 1303.8,2356.5 1304.9,2355.6 1305.9,2354.6 1307.0,2353.7 1308.0,2352.8 1309.1,2351.8 1310.1,2350.9 1311.1,2350.0 1312.1,2349.0 1313.2,2348.1 1314.2,2347.2 1315.1,2346.3 1316.1,2345.4 1317.1,2344.5 1318.1,2343.6 1319.0,2342.7 1320.0,2341.8 1320.9,2340.9 1322.3,2339.5 1323.7,2338.2 1325.1,2336.9 1326.5,2335.6 1327.8,2334.3 1329.2,2333.0 1330.5,2331.7 1331.8,2330.4 1333.1,2329.2 1334.4,2327.9 1335.6,2326.6 1336.9,2325.4 1338.1,2324.1 1339.4,2322.9 1340.6,2321.6 1341.8,2320.4 1343.0,2319.2 1344.2,2318.0 1345.4,2316.7 1346.5,2315.5 1347.7,2314.3 1348.8,2313.1 1350.0,2311.9 1351.1,2310.7 1352.2,2309.6 1353.3,2308.4 1354.4,2307.2 1355.5,2306.0 1356.6,2304.9 1357.7,2303.7 1358.7,2302.6 1359.8,2301.4 1360.8,2300.3 1361.9,2299.1 1362.9,2298.0 1363.9,2296.9 1364.9,2295.8 1365.9,2294.6 1366.9,2293.5 1367.9,2292.4 1368.9,2291.3 1369.9,2290.2 1370.8,2289.1 1371.8,2288.0 1372.7,2286.9 1373.7,2285.8 1374.6,2284.7 1375.6,2283.6 1376.5,2282.6 1377.4,2281.5 1378.3,2280.4 1379.2,2279.3 1380.1,2278.3 1381.0,2277.2 1381.9,2276.2 1382.8,2275.1 1383.7,2274.1 1384.5,2273.0 1385.4,2272.0 1386.2,2270.9 1387.1,2269.9 1387.9,2268.9 1388.8,2267.8 1389.6,2266.8 1390.5,2265.8 1391.3,2264.8 1392.1,2263.8 1392.9,2262.7 1394.0,2261.4 1395.1,2260.1 1396.1,2258.7 1397.2,2257.4 1398.2,2256.1 1399.3,2254.7 1400.3,2253.4 1401.3,2252.1 1402.3,2250.8 1403.3,2249.5 1404.3,2248.2 1405.3,2246.9 1406.3,2245.6 1407.3,2244.4 1408.2,2243.1 1409.2,2241.8 1410.1,2240.5 1411.1,2239.3 1412.0,2238.0 1413.0,2236.8 1413.9,2235.5 1414.8,2234.3 1415.7,2233.0 1416.6,2231.8 1417.5,2230.6 1418.4,2229.3 1419.3,2228.1 1420.2,2226.9 1421.0,2225.7 1421.9,2224.5 1422.8,2223.3 1423.6,2222.1 1424.5,2220.9 1425.3,2219.7 1426.2,2218.6 1427.0,2217.4 1427.8,2216.2 1428.7,2215.1 1429.5,2213.9 1430.3,2212.8 1431.1,2211.7 1431.9,2210.5 1432.7,2209.4 1433.5,2208.3 1434.3,2207.2 1435.1,2206.1 1435.9,2205.0 1436.6,2203.9 1437.4,2202.8 1438.2,2201.7 1438.9,2200.7 1439.7,2199.6 1440.6,2198.3 1441.6,2197.0 1442.5,2195.7 1443.4,2194.4 1444.3,2193.1 1445.2,2191.9 1446.1,2190.6 1447.0,2189.4 1447.9,2188.1 1448.8,2186.9 1449.7,2185.7 1450.6,2184.5 1451.4,2183.3 1452.3,2182.1 1453.1,2181.0 1454.0,2179.8 1454.8,2178.6 1455.7,2177.5 1456.5,2176.4 1457.3,2175.3 1458.1,2174.2 1459.0,2173.1 1459.8,2172.0 1460.6,2170.9 1461.4,2169.8 1462.2,2168.8 1463.0,2167.7 1463.9,2166.5 1464.9,2165.3 1465.8,2164.1 1466.7,2162.9 1467.6,2161.7 1468.5,2160.5 1469.4,2159.4 1470.3,2158.3 1471.2,2157.1 1472.1,2156.0 1473.0,2154.9 1473.9,2153.9 1474.7,2152.8 1475.6,2151.7 1476.5,2150.7 1477.3,2149.7 1478.1,2148.7 1479.0,2147.7 1480.0,2146.5 1480.9,2145.4 1481.9,2144.3 1482.8,2143.2 1483.8,2142.1 1484.7,2141.1 1485.6,2140.0 1486.6,2139.0 1487.5,2138.0 1488.4,2137.0 1489.3,2136.0 1490.2,2135.1 1491.2,2134.0 1492.2,2133.0 1493.2,2131.9 1494.2,2130.9 1495.2,2130.0 1496.2,2129.0 1497.2,2128.0 1498.1,2127.1 1499.1,2126.2 1500.2,2125.2 1501.2,2124.3 1502.3,2123.3 1503.3,2122.4 1504.4,2121.5 1505.4,2120.6 1506.4,2119.8 1507.4,2119.0 1508.5,2118.1 1509.7,2117.2 1510.7,2116.4 1511.8,2115.6 1512.9,2114.8 1514.0,2114.1 1515.1,2113.3 1516.3,2112.5 1517.5,2111.8 1518.6,2111.1 1519.7,2110.4 1520.9,2109.7 1522.1,2109.0 1523.3,2108.4 1524.5,2107.7 1525.7,2107.1 1526.9,2106.5 1528.2,2105.9 1529.4,2105.4 1530.7,2104.8 1531.9,2104.3 1533.2,2103.8 1534.4,2103.3 1535.7,2102.8 1537.0,2102.4 1538.2,2102.0 1539.5,2101.5 1540.8,2101.1 1542.1,2100.7 1543.4,2100.4 1544.7,2100.0 1546.0,2099.7 1547.3,2099.4 1548.6,2099.1 1549.9,2098.8 1551.2,2098.5 1552.6,2098.3 1553.9,2098.0 1555.2,2097.8 1556.5,2097.6 1557.8,2097.4 1559.2,2097.2 1560.5,2097.0 1561.9,2096.8 1563.2,2096.6 1564.5,2096.5 1565.9,2096.4 1567.2,2096.2 1568.6,2096.1 1569.9,2096.0 1571.2,2095.9 1572.5,2095.8 1573.9,2095.7 1575.2,2095.6 1576.6,2095.5 1577.9,2095.4 1579.2,2095.3 1580.6,2095.2 1581.9,2095.2 1583.2,2095.1 1584.5,2095.0 1585.9,2095.0 1587.2,2094.9 1588.5,2094.8 1589.9,2094.7 1591.2,2094.7 1592.5,2094.6 1593.8,2094.5 1595.1,2094.4 1596.4,2094.3 1597.8,2094.2 1599.1,2094.2 1600.4,2094.1 1601.8,2094.0 1603.1,2093.9 1604.4,2093.8 1605.8,2093.7 1607.1,2093.6 1608.4,2093.4 1609.7,2093.3 1611.0,2093.2 1612.4,2093.1 1613.7,2093.0 1615.0,2092.9 1616.3,2092.8 1617.6,2092.6 1619.0,2092.5 1620.3,2092.4 1621.6,2092.3 1622.9,2092.1 1624.2,2092.0 1625.5,2091.9 1626.8,2091.8 1628.2,2091.7 1629.5,2091.5 1630.8,2091.4 1632.1,2091.3 1633.4,2091.2 1634.8,2091.0 1636.0,2090.9 1637.4,2090.8 1638.7,2090.7 1640.0,2090.5 1641.3,2090.4 1642.6,2090.3 1643.9,2090.2 1645.2,2090.1 1646.5,2090.0 1647.8,2089.8 1649.2,2089.7 1650.5,2089.6 1651.8,2089.5 1653.1,2089.4 1654.4,2089.3 1655.8,2089.2 1657.1,2089.1 1658.4,2089.0 1659.7,2088.9 1661.0,2088.8 1662.3,2088.7 1663.6,2088.6 1665.0,2088.6 1666.3,2088.5 1667.6,2088.4 1668.9,2088.3 1670.2,2088.3 1671.5,2088.2 1672.9,2088.1 1674.2,2088.1 1674.6,2088.0"/>
<path stroke="#00f" stroke-width="9.5" d="M306.4,2561.2L370.7,2562.6M396.3,2562.9L423.3,2563.1M448.9,2563.1L460.6,2563.0M486.2,2562.9L489.6,2562.8M605.1,2560.1L669.4,2557.6M695.0,2556.5L722.0,2555.1M747.6,2553.7L759.4,2553.0M784.9,2551.5L788.3,2551.3"/>
<polyline stroke="none" marker-start="url(#msb)" marker-mid="url(#msb)" marker-end="url(#msb)" points="293.6,2560.9 383.5,2562.8 436.1,2563.1 473.4,2563.0 502.4,2562.7 526.0,2562.3 546.0,2561.9 563.4,2561.5 578.6,2561.1 592.3,2560.6 682.2,2557.1 734.8,2554.4 772.1,2552.3 801.1,2550.5 824.7,2549.0 844.7,2547.8 862.1,2546.6 877.3,2545.7 891.0,2544.8 903.4,2544.0 914.7,2543.3 925.0,2542.6 934.6,2542.0 943.6,2541.4 952.0,2540.9 959.8,2540.4 967.2,2539.9 974.3,2539.5 980.9,2539.1 987.2,2538.7 993.3,2538.4 999.0,2538.0 1004.6,2537.7 1009.9,2537.4 1015.0,2537.1 1019.8,2536.8 1024.6,2536.6 1029.1,2536.3 1033.5,2536.1 1037.8,2535.8 1041.9,2535.6 1045.9,2535.4 1049.8,2535.2 1053.5,2535.0 1057.2,2534.8 1060.7,2534.6 1064.2,2534.5 1067.6,2534.3 1070.8,2534.1 1074.0,2534.0 1077.2,2533.8 1080.2,2533.7 1083.2,2533.5 1086.1,2533.4 1089.0,2533.3 1091.8,2533.1 1094.5,2533.0 1097.2,2532.9 1099.8,2532.8 1102.4,2532.7 1104.9,2532.6 1107.3,2532.5 1109.8,2532.3 1112.1,2532.2 1114.5,2532.2 1116.8,2532.1 1119.0,2532.0 1121.3,2531.9 1123.4,2531.8 1125.6,2531.7 1127.7,2531.6 1129.8,2531.5 1131.8,2531.4 1133.8,2531.4 1135.8,2531.3 1137.7,2531.2 1139.7,2531.1 1141.6,2531.1 1143.4,2531.0 1145.3,2530.9 1147.1,2530.8 1148.9,2530.8 1150.6,2530.7 1152.4,2530.6 1154.1,2530.6 1155.8,2530.5 1157.5,2530.4 1159.1,2530.3 1160.8,2530.3 1162.4,2530.2 1164.0,2530.2 1165.5,2530.1 1167.1,2530.0 1168.6,2530.0 1170.1,2529.9 1171.6,2529.8 1173.1,2529.8 1174.6,2529.7 1176.0,2529.7 1177.5,2529.6 1178.9,2529.5 1180.3,2529.5 1181.7,2529.4 1183.0,2529.4 1184.4,2529.3 1185.7,2529.2 1187.1,2529.2 1188.4,2529.1 1189.7,2529.1 1192.3,2528.9 1194.8,2528.8 1197.3,2528.7 1199.7,2528.6 1202.1,2528.5 1204.4,2528.4 1206.7,2528.3 1209.0,2528.2 1211.2,2528.1 1213.4,2527.9 1215.5,2527.8 1217.6,2527.7 1219.7,2527.6 1221.7,2527.5 1223.7,2527.4 1225.7,2527.3 1227.7,2527.2 1229.6,2527.1 1231.5,2527.0 1233.3,2526.9 1235.2,2526.8 1237.0,2526.7 1238.8,2526.6 1240.6,2526.5 1242.3,2526.3 1244.0,2526.2 1245.7,2526.1 1247.4,2526.0 1249.0,2525.9 1250.7,2525.8 1252.3,2525.7 1253.9,2525.6 1255.4,2525.5 1257.0,2525.4 1258.5,2525.3 1260.1,2525.2 1261.6,2525.1 1263.0,2525.0 1264.5,2524.9 1265.9,2524.8 1267.4,2524.7 1268.8,2524.6 1270.2,2524.5 1271.6,2524.4 1273.0,2524.3 1274.3,2524.2 1275.7,2524.1 1277.0,2524.0 1278.3,2523.9 1279.6,2523.8 1281.5,2523.6 1283.5,2523.4 1285.3,2523.3 1287.2,2523.1 1289.0,2523.0 1290.8,2522.8 1292.6,2522.7 1294.3,2522.5 1296.0,2522.4 1297.7,2522.2 1299.4,2522.1 1301.1,2521.9 1302.7,2521.8 1304.3,2521.6 1305.9,2521.5 1307.5,2521.3 1309.1,2521.1 1310.6,2521.0 1312.1,2520.8 1313.7,2520.7 1315.1,2520.5 1316.6,2520.4 1318.1,2520.2 1319.5,2520.1 1320.9,2519.9 1322.3,2519.8 1323.7,2519.6 1325.1,2519.5 1326.5,2519.3 1327.8,2519.2 1329.2,2519.0 1330.5,2518.9 1331.8,2518.7 1333.1,2518.6 1334.8,2518.4 1336.5,2518.2 1338.1,2518.0 1339.8,2517.8 1341.4,2517.6 1343.0,2517.4 1344.6,2517.2 1346.1,2517.0 1347.7,2516.8 1349.2,2516.6 1350.7,2516.4 1352.2,2516.2 1353.7,2516.0 1355.1,2515.8 1356.6,2515.6 1358.0,2515.4 1359.4,2515.2 1360.8,2515.0 1362.2,2514.8 1363.6,2514.6 1364.9,2514.4 1366.3,2514.2 1367.6,2514.0 1368.9,2513.9 1370.2,2513.7 1371.8,2513.4 1373.4,2513.2 1374.9,2512.9 1376.5,2512.7 1378.0,2512.5 1379.5,2512.2 1381.0,2512.0 1382.5,2511.7 1383.9,2511.5 1385.4,2511.3 1386.8,2511.0 1388.2,2510.8 1389.6,2510.6 1391.0,2510.3 1392.4,2510.1 1393.7,2509.9 1395.1,2509.6 1396.4,2509.4 1397.7,2509.2 1399.0,2508.9 1400.3,2508.7 1401.8,2508.4 1403.3,2508.2 1404.8,2507.9 1406.3,2507.6 1407.7,2507.3 1409.2,2507.1 1410.6,2506.8 1412.0,2506.5 1413.4,2506.2 1414.8,2506.0 1416.2,2505.7 1417.5,2505.4 1418.8,2505.2 1420.2,2504.9 1421.5,2504.6 1422.8,2504.4 1424.1,2504.1 1425.5,2503.8 1427.0,2503.5 1428.5,2503.2 1429.9,2502.9 1431.3,2502.6 1432.7,2502.2 1434.1,2501.9 1435.5,2501.6 1436.8,2501.3 1438.2,2501.0 1439.5,2500.7 1440.8,2500.4 1442.1,2500.1 1443.4,2499.8 1444.7,2499.5 1446.1,2499.2 1447.6,2498.9 1449.0,2498.5 1450.4,2498.2 1451.8,2497.9 1453.1,2497.5 1454.5,2497.2 1455.8,2496.9 1457.2,2496.5 1458.5,2496.2 1459.8,2495.9 1461.1,2495.5 1462.3,2495.2 1463.6,2494.9 1465.0,2494.5 1466.4,2494.2 1467.8,2493.8 1469.1,2493.4 1470.5,2493.1 1471.8,2492.7 1473.1,2492.4 1474.4,2492.0 1475.7,2491.7 1477.0,2491.3 1478.3,2490.9 1479.5,2490.6 1480.9,2490.2 1482.3,2489.8 1483.6,2489.4 1485.0,2489.0 1486.3,2488.7 1487.6,2488.3 1488.9,2487.9 1490.2,2487.5 1491.5,2487.1 1492.7,2486.8 1494.0,2486.4 1495.3,2486.0 1496.7,2485.6 1498.0,2485.2 1499.3,2484.8 1500.6,2484.3 1501.9,2483.9 1503.2,2483.5 1504.5,2483.1 1505.7,2482.7 1507.0,2482.3 1508.3,2481.9 1509.7,2481.5 1511.0,2481.0 1512.3,2480.6 1513.6,2480.2 1514.8,2479.8 1516.1,2479.3 1517.3,2478.9 1518.6,2478.5 1519.9,2478.0 1521.2,2477.6 1522.5,2477.1 1523.8,2476.7 1525.1,2476.2 1526.4,2475.8 1527.6,2475.4 1528.9,2474.9 1530.1,2474.5 1531.4,2474.0 1532.7,2473.5 1534.0,2473.1 1535.3,2472.6 1536.5,2472.1 1537.8,2471.7 1539.0,2471.2 1540.2,2470.8 1541.5,2470.3 1542.8,2469.8 1544.1,2469.3 1545.3,2468.8 1546.6,2468.3 1547.8,2467.9 1549.0,2467.4 1550.3,2466.9 1551.5,2466.4 1552.8,2465.9 1554.1,2465.4 1555.3,2464.9 1556.5,2464.4 1557.8,2463.9 1559.0,2463.4 1560.3,2462.9 1561.5,2462.4 1562.8,2461.8 1564.0,2461.3 1565.2,2460.8 1566.4,2460.3 1567.6,2459.8 1568.9,2459.3 1570.2,2458.7 1571.4,2458.2 1572.6,2457.7 1573.8,2457.1 1575.0,2456.6 1576.2,2456.1 1577.5,2455.5 1578.7,2455.0 1579.9,2454.5 1581.1,2453.9 1582.3,2453.4 1583.5,2452.8 1584.8,2452.3 1586.0,2451.7 1587.2,2451.2 1588.4,2450.6 1589.6,2450.0 1590.8,2449.5 1592.0,2448.9 1593.3,2448.3 1594.5,2447.8 1595.7,2447.2 1596.8,2446.6 1598.0,2446.1 1599.2,2445.5 1600.4,2444.9 1601.6,2444.3 1602.8,2443.7 1604.0,2443.2 1605.2,2442.6 1606.4,2442.0 1607.6,2441.4 1608.8,2440.8 1610.0,2440.2 1611.1,2439.6 1612.4,2439.0 1613.5,2438.4 1614.7,2437.8 1615.9,2437.2 1617.1,2436.6 1618.3,2435.9 1619.4,2435.3 1620.6,2434.7 1621.8,2434.1 1622.9,2433.5 1624.1,2432.8 1625.3,2432.2 1626.5,2431.6 1627.6,2431.0 1628.8,2430.3 1630.0,2429.7 1631.1,2429.1 1632.3,2428.4 1633.4,2427.8 1634.6,2427.2 1635.8,2426.5 1636.9,2425.9 1638.1,2425.2 1639.2,2424.6 1640.4,2423.9 1641.5,2423.2 1642.7,2422.6 1643.8,2421.9 1645.0,2421.3 1646.1,2420.6 1647.3,2419.9 1648.4,2419.3 1649.5,2418.6 1650.7,2417.9 1651.8,2417.3 1653.0,2416.6 1654.1,2415.9 1655.2,2415.3 1656.4,2414.6 1657.5,2413.9 1658.6,2413.2 1659.7,2412.5 1660.9,2411.8 1662.0,2411.1 1663.1,2410.5 1664.2,2409.8 1665.3,2409.1 1666.5,2408.4 1667.6,2407.7 1668.7,2407.0 1669.8,2406.3 1670.9,2405.6 1672.0,2404.9 1673.1,2404.2 1674.3,2403.4 1674.6,2403.3"/>
</g>
<g fill="none" stroke-linecap="round">
<line x1="508.9" y1="148.4" x2="641.1" y2="148.4" stroke="#000" stroke-width="9.7"/>
<circle cx="575" cy="149.20000000000002" r="13.3" fill="#000"/>
<line x1="671.9" y1="148.4" x2="803.9" y2="148.4" stroke="#000" stroke-width="9.7"/>
<path transform="translate(737.9,149.4)" d="M0,-18.80L16.50,9.40L-16.50,9.40Z" fill="#000"/>
<line x1="834.6" y1="148.4" x2="967.0" y2="148.4" stroke="#000" stroke-width="9.7"/>
<path transform="translate(901,149.4)" d="M0.00,-15.30L3.44,-4.73L14.55,-4.73L5.56,1.81L8.99,12.38L0.00,5.84L-8.99,12.38L-5.56,1.81L-14.55,-4.73L-3.44,-4.73Z" fill="#000"/>
<line x1="507.2" y1="212.9" x2="642.8" y2="212.9" stroke="#f00" stroke-width="6.5"/>
<circle cx="575" cy="213.70000000000002" r="13.3" fill="#f00"/>
<line x1="671.2" y1="212.9" x2="804.5" y2="212.9" stroke="#f00" stroke-width="8.5"/>
<path transform="translate(737.9,213.9)" d="M0,-18.80L16.50,9.40L-16.50,9.40Z" fill="#f00"/>
<line x1="834.0" y1="212.9" x2="967.6" y2="212.9" stroke="#f00" stroke-width="8.5"/>
<path transform="translate(901,213.9)" d="M0.00,-15.30L3.44,-4.73L14.55,-4.73L5.56,1.81L8.99,12.38L0.00,5.84L-8.99,12.38L-5.56,1.81L-14.55,-4.73L-3.44,-4.73Z" fill="#f00"/>
<line x1="507.2" y1="277.6" x2="642.8" y2="277.6" stroke="#00f" stroke-width="6.5"/>
<circle cx="575" cy="278.40000000000003" r="13.3" fill="#00f"/>
<line x1="671.2" y1="277.6" x2="804.5" y2="277.6" stroke="#00f" stroke-width="8.5"/>
<path transform="translate(737.9,278.6)" d="M0,-18.80L16.50,9.40L-16.50,9.40Z" fill="#00f"/>
<line x1="834.0" y1="277.6" x2="967.6" y2="277.6" stroke="#00f" stroke-width="8.5"/>
<path transform="translate(901,278.6)" d="M0.00,-15.30L3.44,-4.73L14.55,-4.73L5.56,1.81L8.99,12.38L0.00,5.84L-8.99,12.38L-5.56,1.81L-14.55,-4.73L-3.44,-4.73Z" fill="#00f"/>
</g>
<g font-family="Liberation Sans, Arial, sans-serif" fill="#000" stroke="#000" stroke-width="2.4" stroke-linejoin="round" letter-spacing="-0.5" font-size="50.5">
<text x="248.2" y="132.8" text-anchor="end">10</text>
<text x="249.7" y="102.3" font-size="30" stroke-width="1.6">3</text>
<text x="248.2" y="394.5" text-anchor="end">10</text>
<text x="249.7" y="364.0" font-size="30" stroke-width="1.6">2</text>
<text x="248.2" y="656.1" text-anchor="end">10</text>
<text x="249.7" y="625.6" font-size="30" stroke-width="1.6">1</text>
<text x="248.2" y="918.1" text-anchor="end">10</text>
<text x="249.7" y="887.6" font-size="30" stroke-width="1.6">0</text>
<text x="248.2" y="1056.8" text-anchor="end">10</text>
<text x="249.7" y="1026.3" font-size="30" stroke-width="1.6">3</text>
<text x="248.2" y="1296.4" text-anchor="end">10</text>
<text x="249.7" y="1265.9" font-size="30" stroke-width="1.6">2</text>
<text x="248.2" y="1536.0" text-anchor="end">10</text>
<text x="249.7" y="1505.5" font-size="30" stroke-width="1.6">1</text>
<text x="248.2" y="1749.5" text-anchor="end">10</text>
<text x="249.7" y="1719.0" font-size="30" stroke-width="1.6">0</text>
<text x="264" y="2459.6" text-anchor="end">2</text>
<text x="264" y="2232.6" text-anchor="end">4</text>
<text x="264" y="2005.6" text-anchor="end">6</text>
<text x="236.5" y="1804.7" text-anchor="end">8</text>
<text x="312.6" y="2696" text-anchor="end">10</text>
<text x="313.6" y="2667" font-size="30" stroke-width="1.6">2</text>
<text x="611.3" y="2696" text-anchor="end">10</text>
<text x="612.3" y="2667" font-size="30" stroke-width="1.6">3</text>
<text x="910.0" y="2696" text-anchor="end">10</text>
<text x="911.0" y="2667" font-size="30" stroke-width="1.6">4</text>
<text x="1208.7" y="2696" text-anchor="end">10</text>
<text x="1209.7" y="2667" font-size="30" stroke-width="1.6">5</text>
<text x="1507.4" y="2696" text-anchor="end">10</text>
<text x="1508.4" y="2667" font-size="30" stroke-width="1.6">6</text>
<text x="882.7" y="2806.3" text-anchor="middle" font-size="52.5">MC time</text>
<text x="314.5" y="101">p=</text>
<text x="314.5" y="166.4">GD=0.1</text>
<text x="314.5" y="231.1">GD=0.3</text>
<text x="314.5" y="295.8">GD=0.6</text>
<text transform="translate(75.3,447) rotate(-90)" font-size="52">DP</text>
<text transform="translate(96.5,372.3) rotate(-90)" font-size="30" stroke-width="1.8">n</text>
<text transform="translate(104.9,1271) rotate(-90)" font-size="52">DP</text>
<text transform="translate(125.7,1197) rotate(-90)" font-size="31" stroke-width="1.8">w</text>
<text transform="translate(100.1,2239) rotate(-90)" font-size="52">DP</text>
<text transform="translate(121.4,2165.5) rotate(-90)" font-size="32" stroke-width="1.8">w</text>
<text transform="translate(100.1,2140) rotate(-90)" font-size="52">/DP</text>
<text transform="translate(121.4,2050.5) rotate(-90)" font-size="30" stroke-width="1.8">n</text>
</g>
<g font-family="Liberation Sans, Arial, sans-serif" font-weight="bold" fill="#000" stroke="#000" stroke-width="0.8" font-size="51">
<text x="510.5" y="101.3" letter-spacing="-0.4">2*10</text>
<text x="618.0" y="72.3" font-size="31" letter-spacing="-1.2">-2</text>
<text x="657" y="101.3" letter-spacing="-0.4">2*10</text>
<text x="764.5" y="72.3" font-size="31" letter-spacing="-1.2">-3</text>
<text x="804.3" y="101.3" letter-spacing="-0.4">2*10</text>
<text x="911.8" y="72.3" font-size="31" letter-spacing="-1.2">-4</text>
<text x="309.5" y="485" font-size="50" stroke-width="0.3">a</text>
<text x="334" y="1305.4" font-size="50" stroke-width="0.3">b</text>
<text x="332.5" y="2186.4" font-size="50" stroke-width="0.3">c</text>
</g>
<g font-family="Liberation Serif, Times New Roman, serif" fill="#000" font-size="54">
<text x="336.5" y="485">)</text>
<text x="361.5" y="1305.4">)</text>
<text x="360" y="2186.4">)</text>
</g>
</svg>
</body></html>
